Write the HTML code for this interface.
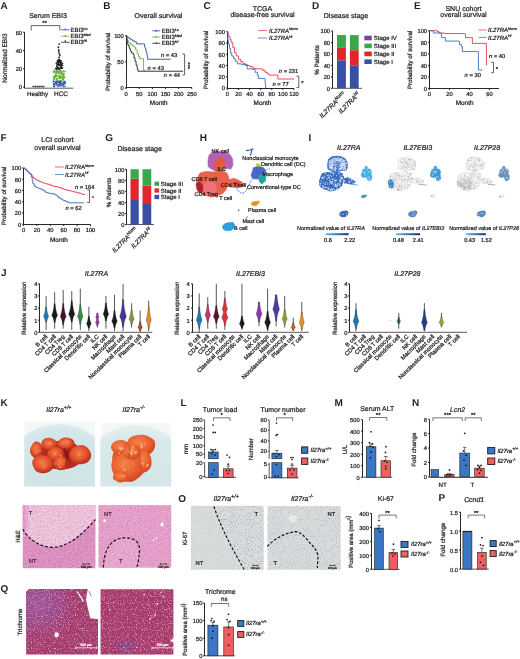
<!DOCTYPE html>
<html><head><meta charset="utf-8"><title>Figure</title>
<style>
html,body{margin:0;padding:0;background:#fff;}
body{width:520px;height:659px;overflow:hidden;}
svg{display:block;}
text{font-family:"Liberation Sans",Arial,sans-serif;text-rendering:geometricPrecision;}
</style></head><body>
<svg fill="#231f20" width="520" height="659" viewBox="0 0 520 659">
<rect width="520" height="659" fill="#fff"/>
<text x="0.60" y="9.40" font-size="10" font-weight="bold">A</text>
<text x="48.00" y="17.60" font-size="7" text-anchor="middle" stroke="#231f20" stroke-width="0.24">Serum EBI3</text>
<path d="M31.2,30.5V25.6H59.8V30.5" fill="none" stroke="#231f20" stroke-width="0.7"/>
<text x="44.60" y="24.90" font-size="6" text-anchor="middle" stroke="#231f20" stroke-width="0.24">**</text>
<line x1="24.50" y1="32.20" x2="24.50" y2="88.20" stroke="#111" stroke-width="0.9"/>
<line x1="23.00" y1="32.20" x2="24.50" y2="32.20" stroke="#111" stroke-width="0.9"/>
<text x="22.10" y="34.64" font-size="5.8" text-anchor="end" stroke="#231f20" stroke-width="0.24">60</text>
<line x1="23.00" y1="50.47" x2="24.50" y2="50.47" stroke="#111" stroke-width="0.9"/>
<text x="22.10" y="52.90" font-size="5.8" text-anchor="end" stroke="#231f20" stroke-width="0.24">40</text>
<line x1="23.00" y1="68.73" x2="24.50" y2="68.73" stroke="#111" stroke-width="0.9"/>
<text x="22.10" y="71.17" font-size="5.8" text-anchor="end" stroke="#231f20" stroke-width="0.24">20</text>
<line x1="23.00" y1="87.00" x2="24.50" y2="87.00" stroke="#111" stroke-width="0.9"/>
<text x="22.10" y="89.44" font-size="5.8" text-anchor="end" stroke="#231f20" stroke-width="0.24">0</text>
<line x1="24.40" y1="88.20" x2="73.30" y2="88.20" stroke="#231f20" stroke-width="0.75"/>
<text x="37.50" y="95.80" font-size="6.2" text-anchor="middle" stroke="#231f20" stroke-width="0.24">Healthy</text>
<text x="61.00" y="95.80" font-size="6.4" text-anchor="middle" stroke="#231f20" stroke-width="0.24">HCC</text>
<text x="6.90" y="58.00" font-size="6.6" text-anchor="middle" transform="rotate(-90 6.90 58.00)" stroke="#231f20" stroke-width="0.24">Normalized EBI3</text>
<circle cx="33.50" cy="86.60" r="0.75" fill="none" stroke="#231f20" stroke-width="0.4"/>
<circle cx="35.50" cy="86.60" r="0.75" fill="none" stroke="#231f20" stroke-width="0.4"/>
<circle cx="37.50" cy="86.60" r="0.75" fill="none" stroke="#231f20" stroke-width="0.4"/>
<circle cx="39.50" cy="86.60" r="0.75" fill="none" stroke="#231f20" stroke-width="0.4"/>
<circle cx="41.50" cy="86.60" r="0.75" fill="none" stroke="#231f20" stroke-width="0.4"/>
<circle cx="43.50" cy="86.60" r="0.75" fill="none" stroke="#231f20" stroke-width="0.4"/>
<line x1="32.50" y1="86.40" x2="44.50" y2="86.40" stroke="#231f20" stroke-width="0.6"/>
<path d="M60.77,84.89L62.77,84.89L61.77,86.49Z" fill="#2b4fa6"/>
<path d="M54.73,83.07L56.73,83.07L55.73,84.67Z" fill="#2b4fa6"/>
<path d="M62.18,84.10L64.18,84.10L63.18,85.70Z" fill="#2b4fa6"/>
<path d="M59.08,82.71L61.08,82.71L60.08,84.31Z" fill="#2b4fa6"/>
<path d="M55.62,82.59L57.62,82.59L56.62,84.19Z" fill="#2b4fa6"/>
<path d="M52.96,85.91L54.96,85.91L53.96,87.51Z" fill="#2b4fa6"/>
<path d="M62.45,86.22L64.45,86.22L63.45,87.82Z" fill="#2b4fa6"/>
<path d="M64.08,81.33L66.08,81.33L65.08,82.93Z" fill="#2b4fa6"/>
<path d="M53.26,84.76L55.26,84.76L54.26,86.36Z" fill="#2b4fa6"/>
<path d="M61.81,84.91L63.81,84.91L62.81,86.51Z" fill="#2b4fa6"/>
<path d="M57.13,80.39L59.13,80.39L58.13,81.99Z" fill="#2b4fa6"/>
<path d="M54.01,83.51L56.01,83.51L55.01,85.11Z" fill="#2b4fa6"/>
<path d="M55.73,81.33L57.73,81.33L56.73,82.93Z" fill="#2b4fa6"/>
<path d="M61.43,83.47L63.43,83.47L62.43,85.07Z" fill="#2b4fa6"/>
<path d="M62.67,82.51L64.67,82.51L63.67,84.11Z" fill="#2b4fa6"/>
<path d="M52.73,85.41L54.73,85.41L53.73,87.01Z" fill="#2b4fa6"/>
<path d="M59.57,82.53L61.57,82.53L60.57,84.13Z" fill="#2b4fa6"/>
<path d="M52.74,81.15L54.74,81.15L53.74,82.75Z" fill="#2b4fa6"/>
<path d="M60.82,83.19L62.82,83.19L61.82,84.79Z" fill="#2b4fa6"/>
<path d="M56.17,81.90L58.17,81.90L57.17,83.50Z" fill="#2b4fa6"/>
<path d="M62.77,82.31L64.77,82.31L63.77,83.91Z" fill="#2b4fa6"/>
<path d="M63.97,85.92L65.97,85.92L64.97,87.52Z" fill="#2b4fa6"/>
<path d="M58.27,81.80L60.27,81.80L59.27,83.40Z" fill="#2b4fa6"/>
<path d="M64.18,82.79L66.18,82.79L65.18,84.39Z" fill="#2b4fa6"/>
<path d="M55.92,84.51L57.92,84.51L56.92,86.11Z" fill="#2b4fa6"/>
<path d="M53.12,86.12L55.12,86.12L54.12,87.72Z" fill="#2b4fa6"/>
<path d="M59.40,81.16L61.40,81.16L60.40,82.76Z" fill="#2b4fa6"/>
<path d="M52.58,83.49L54.58,83.49L53.58,85.09Z" fill="#2b4fa6"/>
<path d="M54.57,82.03L56.57,82.03L55.57,83.63Z" fill="#2b4fa6"/>
<path d="M57.10,81.08L59.10,81.08L58.10,82.68Z" fill="#2b4fa6"/>
<path d="M59.53,82.06L61.53,82.06L60.53,83.66Z" fill="#2b4fa6"/>
<path d="M54.07,80.83L56.07,80.83L55.07,82.43Z" fill="#2b4fa6"/>
<path d="M52.71,83.96L54.71,83.96L53.71,85.56Z" fill="#2b4fa6"/>
<path d="M62.61,81.55L64.61,81.55L63.61,83.15Z" fill="#2b4fa6"/>
<path d="M55.97,83.66L57.97,83.66L56.97,85.26Z" fill="#2b4fa6"/>
<path d="M63.70,80.75L65.70,80.75L64.70,82.35Z" fill="#2b4fa6"/>
<path d="M62.96,81.08L64.96,81.08L63.96,82.68Z" fill="#2b4fa6"/>
<path d="M56.73,85.72L58.73,85.72L57.73,87.32Z" fill="#2b4fa6"/>
<path d="M57.72,85.49L59.72,85.49L58.72,87.09Z" fill="#2b4fa6"/>
<path d="M58.44,85.01L60.44,85.01L59.44,86.61Z" fill="#2b4fa6"/>
<path d="M59.93,80.57L61.93,80.57L60.93,82.17Z" fill="#2b4fa6"/>
<path d="M59.35,83.71L61.35,83.71L60.35,85.31Z" fill="#2b4fa6"/>
<path d="M58.91,82.58L60.91,82.58L59.91,84.18Z" fill="#2b4fa6"/>
<path d="M59.64,84.51L61.64,84.51L60.64,86.11Z" fill="#2b4fa6"/>
<path d="M63.49,83.29L65.49,83.29L64.49,84.89Z" fill="#2b4fa6"/>
<path d="M58.28,84.01L60.28,84.01L59.28,85.61Z" fill="#2b4fa6"/>
<path d="M57.37,84.22L59.37,84.22L58.37,85.82Z" fill="#2b4fa6"/>
<path d="M60.84,82.83L62.84,82.83L61.84,84.43Z" fill="#2b4fa6"/>
<path d="M55.05,82.83L57.05,82.83L56.05,84.43Z" fill="#2b4fa6"/>
<path d="M55.81,80.93L57.81,80.93L56.81,82.53Z" fill="#2b4fa6"/>
<path d="M63.93,82.25L65.93,82.25L64.93,83.85Z" fill="#2b4fa6"/>
<path d="M58.45,80.79L60.45,80.79L59.45,82.39Z" fill="#2b4fa6"/>
<path d="M58.78,81.22L60.78,81.22L59.78,82.82Z" fill="#2b4fa6"/>
<path d="M52.34,80.42L54.34,80.42L53.34,82.02Z" fill="#2b4fa6"/>
<path d="M57.18,82.32L59.18,82.32L58.18,83.92Z" fill="#2b4fa6"/>
<path d="M59.16,85.33L61.16,85.33L60.16,86.93Z" fill="#2b4fa6"/>
<path d="M52.44,81.19L54.44,81.19L53.44,82.79Z" fill="#2b4fa6"/>
<path d="M59.59,80.57L61.59,80.57L60.59,82.17Z" fill="#2b4fa6"/>
<path d="M59.79,80.93L61.79,80.93L60.79,82.53Z" fill="#2b4fa6"/>
<path d="M52.92,82.92L54.92,82.92L53.92,84.52Z" fill="#2b4fa6"/>
<rect x="63.10" y="72.93" width="1.60" height="1.60" fill="#6cb43f"/>
<rect x="55.34" y="74.70" width="1.60" height="1.60" fill="#6cb43f"/>
<rect x="61.10" y="72.36" width="1.60" height="1.60" fill="#6cb43f"/>
<rect x="62.10" y="75.94" width="1.60" height="1.60" fill="#6cb43f"/>
<rect x="60.19" y="72.06" width="1.60" height="1.60" fill="#6cb43f"/>
<rect x="58.61" y="71.72" width="1.60" height="1.60" fill="#6cb43f"/>
<rect x="55.87" y="79.56" width="1.60" height="1.60" fill="#6cb43f"/>
<rect x="56.49" y="79.14" width="1.60" height="1.60" fill="#6cb43f"/>
<rect x="55.40" y="72.40" width="1.60" height="1.60" fill="#6cb43f"/>
<rect x="53.65" y="69.25" width="1.60" height="1.60" fill="#6cb43f"/>
<rect x="59.38" y="77.05" width="1.60" height="1.60" fill="#6cb43f"/>
<rect x="56.06" y="74.81" width="1.60" height="1.60" fill="#6cb43f"/>
<rect x="61.81" y="73.31" width="1.60" height="1.60" fill="#6cb43f"/>
<rect x="53.40" y="76.30" width="1.60" height="1.60" fill="#6cb43f"/>
<rect x="62.84" y="75.82" width="1.60" height="1.60" fill="#6cb43f"/>
<rect x="60.53" y="76.38" width="1.60" height="1.60" fill="#6cb43f"/>
<rect x="63.06" y="75.76" width="1.60" height="1.60" fill="#6cb43f"/>
<rect x="62.76" y="73.28" width="1.60" height="1.60" fill="#6cb43f"/>
<rect x="62.80" y="76.51" width="1.60" height="1.60" fill="#6cb43f"/>
<rect x="59.25" y="75.67" width="1.60" height="1.60" fill="#6cb43f"/>
<rect x="53.04" y="71.34" width="1.60" height="1.60" fill="#6cb43f"/>
<rect x="61.34" y="79.51" width="1.60" height="1.60" fill="#6cb43f"/>
<rect x="54.79" y="73.57" width="1.60" height="1.60" fill="#6cb43f"/>
<rect x="56.20" y="71.75" width="1.60" height="1.60" fill="#6cb43f"/>
<rect x="60.19" y="76.41" width="1.60" height="1.60" fill="#6cb43f"/>
<rect x="58.67" y="77.37" width="1.60" height="1.60" fill="#6cb43f"/>
<rect x="57.45" y="71.00" width="1.60" height="1.60" fill="#6cb43f"/>
<rect x="63.23" y="77.19" width="1.60" height="1.60" fill="#6cb43f"/>
<rect x="59.63" y="77.75" width="1.60" height="1.60" fill="#6cb43f"/>
<rect x="56.65" y="75.04" width="1.60" height="1.60" fill="#6cb43f"/>
<rect x="55.68" y="72.16" width="1.60" height="1.60" fill="#6cb43f"/>
<rect x="62.38" y="78.69" width="1.60" height="1.60" fill="#6cb43f"/>
<rect x="58.15" y="76.28" width="1.60" height="1.60" fill="#6cb43f"/>
<rect x="61.51" y="76.15" width="1.60" height="1.60" fill="#6cb43f"/>
<rect x="56.77" y="70.67" width="1.60" height="1.60" fill="#6cb43f"/>
<rect x="55.07" y="75.00" width="1.60" height="1.60" fill="#6cb43f"/>
<rect x="58.78" y="70.43" width="1.60" height="1.60" fill="#6cb43f"/>
<rect x="61.88" y="77.95" width="1.60" height="1.60" fill="#6cb43f"/>
<rect x="54.78" y="76.12" width="1.60" height="1.60" fill="#6cb43f"/>
<rect x="61.61" y="72.68" width="1.60" height="1.60" fill="#6cb43f"/>
<rect x="63.04" y="70.11" width="1.60" height="1.60" fill="#6cb43f"/>
<rect x="61.77" y="74.86" width="1.60" height="1.60" fill="#6cb43f"/>
<rect x="61.96" y="77.34" width="1.60" height="1.60" fill="#6cb43f"/>
<rect x="52.98" y="78.48" width="1.60" height="1.60" fill="#6cb43f"/>
<rect x="59.81" y="74.00" width="1.60" height="1.60" fill="#6cb43f"/>
<rect x="62.39" y="77.72" width="1.60" height="1.60" fill="#6cb43f"/>
<rect x="53.45" y="70.96" width="1.60" height="1.60" fill="#6cb43f"/>
<rect x="55.89" y="70.62" width="1.60" height="1.60" fill="#6cb43f"/>
<rect x="55.85" y="77.79" width="1.60" height="1.60" fill="#6cb43f"/>
<rect x="58.70" y="76.75" width="1.60" height="1.60" fill="#6cb43f"/>
<rect x="57.55" y="70.96" width="1.60" height="1.60" fill="#6cb43f"/>
<rect x="58.10" y="72.77" width="1.60" height="1.60" fill="#6cb43f"/>
<rect x="61.44" y="70.97" width="1.60" height="1.60" fill="#6cb43f"/>
<rect x="52.92" y="76.02" width="1.60" height="1.60" fill="#6cb43f"/>
<rect x="53.50" y="78.39" width="1.60" height="1.60" fill="#6cb43f"/>
<rect x="54.30" y="76.61" width="1.60" height="1.60" fill="#6cb43f"/>
<rect x="54.27" y="71.11" width="1.60" height="1.60" fill="#6cb43f"/>
<rect x="53.65" y="76.83" width="1.60" height="1.60" fill="#6cb43f"/>
<rect x="63.62" y="76.01" width="1.60" height="1.60" fill="#6cb43f"/>
<rect x="62.30" y="75.24" width="1.60" height="1.60" fill="#6cb43f"/>
<rect x="53.85" y="75.21" width="1.60" height="1.60" fill="#6cb43f"/>
<rect x="58.42" y="75.32" width="1.60" height="1.60" fill="#6cb43f"/>
<rect x="56.37" y="69.72" width="1.60" height="1.60" fill="#6cb43f"/>
<rect x="56.36" y="78.10" width="1.60" height="1.60" fill="#6cb43f"/>
<rect x="56.62" y="79.76" width="1.60" height="1.60" fill="#6cb43f"/>
<rect x="60.02" y="69.47" width="1.60" height="1.60" fill="#6cb43f"/>
<rect x="59.35" y="70.16" width="1.60" height="1.60" fill="#6cb43f"/>
<rect x="56.87" y="68.99" width="1.60" height="1.60" fill="#6cb43f"/>
<rect x="55.00" y="75.05" width="1.60" height="1.60" fill="#6cb43f"/>
<rect x="56.52" y="69.39" width="1.60" height="1.60" fill="#6cb43f"/>
<circle cx="61.62" cy="67.89" r="0.85" fill="#231f20"/>
<circle cx="62.46" cy="63.36" r="0.85" fill="#231f20"/>
<circle cx="59.55" cy="61.67" r="0.85" fill="#231f20"/>
<circle cx="61.35" cy="65.20" r="0.85" fill="#231f20"/>
<circle cx="55.86" cy="68.35" r="0.85" fill="#231f20"/>
<circle cx="61.13" cy="67.32" r="0.85" fill="#231f20"/>
<circle cx="59.28" cy="65.27" r="0.85" fill="#231f20"/>
<circle cx="60.15" cy="62.84" r="0.85" fill="#231f20"/>
<circle cx="57.47" cy="60.97" r="0.85" fill="#231f20"/>
<circle cx="60.99" cy="65.20" r="0.85" fill="#231f20"/>
<circle cx="61.11" cy="60.78" r="0.85" fill="#231f20"/>
<circle cx="57.27" cy="62.65" r="0.85" fill="#231f20"/>
<circle cx="57.93" cy="64.66" r="0.85" fill="#231f20"/>
<circle cx="59.66" cy="65.28" r="0.85" fill="#231f20"/>
<circle cx="61.56" cy="63.98" r="0.85" fill="#231f20"/>
<circle cx="58.07" cy="61.81" r="0.85" fill="#231f20"/>
<circle cx="56.89" cy="64.77" r="0.85" fill="#231f20"/>
<circle cx="58.10" cy="61.90" r="0.85" fill="#231f20"/>
<circle cx="60.04" cy="64.35" r="0.85" fill="#231f20"/>
<circle cx="61.03" cy="66.62" r="0.85" fill="#231f20"/>
<circle cx="58.43" cy="63.56" r="0.85" fill="#231f20"/>
<circle cx="58.62" cy="61.89" r="0.85" fill="#231f20"/>
<circle cx="58.46" cy="68.44" r="0.85" fill="#231f20"/>
<circle cx="58.12" cy="64.73" r="0.85" fill="#231f20"/>
<circle cx="58.61" cy="64.72" r="0.85" fill="#231f20"/>
<circle cx="58.37" cy="59.95" r="0.85" fill="#231f20"/>
<circle cx="59.20" cy="59.35" r="0.85" fill="#231f20"/>
<circle cx="62.61" cy="65.26" r="0.85" fill="#231f20"/>
<circle cx="59.03" cy="59.76" r="0.85" fill="#231f20"/>
<circle cx="60.29" cy="60.88" r="0.85" fill="#231f20"/>
<circle cx="56.76" cy="66.44" r="0.85" fill="#231f20"/>
<circle cx="60.57" cy="64.32" r="0.85" fill="#231f20"/>
<circle cx="61.04" cy="67.90" r="0.85" fill="#231f20"/>
<circle cx="59.96" cy="60.65" r="0.85" fill="#231f20"/>
<circle cx="59.28" cy="62.23" r="0.85" fill="#231f20"/>
<circle cx="59.17" cy="59.87" r="0.85" fill="#231f20"/>
<circle cx="59.83" cy="60.87" r="0.85" fill="#231f20"/>
<circle cx="60.95" cy="62.18" r="0.85" fill="#231f20"/>
<circle cx="57.66" cy="61.48" r="0.85" fill="#231f20"/>
<circle cx="56.29" cy="63.27" r="0.85" fill="#231f20"/>
<circle cx="60.99" cy="68.11" r="0.85" fill="#231f20"/>
<circle cx="61.03" cy="63.02" r="0.85" fill="#231f20"/>
<circle cx="59.39" cy="69.14" r="0.85" fill="#231f20"/>
<circle cx="58.79" cy="67.68" r="0.85" fill="#231f20"/>
<circle cx="60.16" cy="61.06" r="0.85" fill="#231f20"/>
<circle cx="56.94" cy="68.73" r="0.85" fill="#231f20"/>
<circle cx="57.52" cy="68.23" r="0.85" fill="#231f20"/>
<circle cx="57.03" cy="68.15" r="0.85" fill="#231f20"/>
<circle cx="59.37" cy="59.94" r="0.85" fill="#231f20"/>
<circle cx="57.87" cy="67.31" r="0.85" fill="#231f20"/>
<circle cx="56.26" cy="68.94" r="0.85" fill="#231f20"/>
<circle cx="59.58" cy="60.35" r="0.85" fill="#231f20"/>
<circle cx="62.46" cy="67.92" r="0.85" fill="#231f20"/>
<circle cx="58.79" cy="60.33" r="0.85" fill="#231f20"/>
<circle cx="60.10" cy="62.12" r="0.85" fill="#231f20"/>
<circle cx="59.06" cy="57.32" r="0.90" fill="#231f20"/>
<circle cx="59.77" cy="55.49" r="0.90" fill="#231f20"/>
<circle cx="59.34" cy="53.66" r="0.90" fill="#231f20"/>
<circle cx="58.83" cy="51.84" r="0.90" fill="#231f20"/>
<circle cx="58.75" cy="50.01" r="0.90" fill="#231f20"/>
<circle cx="58.44" cy="47.27" r="0.90" fill="#231f20"/>
<circle cx="59.17" cy="44.07" r="0.90" fill="#231f20"/>
<line x1="52.30" y1="71.70" x2="66.70" y2="71.70" stroke="#7a8fb8" stroke-width="0.7"/>
<line x1="53.50" y1="85.60" x2="65.00" y2="85.60" stroke="#5a6fb0" stroke-width="0.6"/>
<line x1="61.00" y1="29.80" x2="69.60" y2="29.80" stroke="#2b4fa6" stroke-width="0.8"/>
<path d="M64.3,28.7L66.3,28.7L65.3,30.400000000000002Z" fill="#2b4fa6"/>
<text x="70.50" y="31.90" font-size="6" stroke="#231f20" stroke-width="0.24"><tspan>EBI3</tspan><tspan font-style="italic" font-size="3.60" dy="-2.28">Lo</tspan><tspan dy="2.28"></tspan></text>
<line x1="61.00" y1="36.20" x2="69.60" y2="36.20" stroke="#6cb43f" stroke-width="0.8"/>
<path d="M64.5,35.300000000000004h1.6v1.6h-1.6Z" fill="#6cb43f"/>
<text x="70.50" y="38.30" font-size="6" stroke="#231f20" stroke-width="0.24"><tspan>EBI3</tspan><tspan font-style="italic" font-size="3.60" dy="-2.28">Med</tspan><tspan dy="2.28"></tspan></text>
<line x1="61.00" y1="42.30" x2="69.60" y2="42.30" stroke="#231f20" stroke-width="0.8"/>
<path d="M65.3,41.099999999999994m-0.8,0a0.8,0.8 0 1,0 1.6,0a0.8,0.8 0 1,0 -1.6,0" fill="#231f20"/>
<text x="70.50" y="44.40" font-size="6" stroke="#231f20" stroke-width="0.24"><tspan>EBI3</tspan><tspan font-style="italic" font-size="3.60" dy="-2.28">Hi</tspan><tspan dy="2.28"></tspan></text>
<text x="103.30" y="9.30" font-size="10" font-weight="bold">B</text>
<text x="158.50" y="17.60" font-size="7" text-anchor="middle" stroke="#231f20" stroke-width="0.24">Overall survival</text>
<line x1="126.50" y1="35.80" x2="126.50" y2="87.90" stroke="#111" stroke-width="0.9"/>
<line x1="125.00" y1="35.80" x2="126.50" y2="35.80" stroke="#111" stroke-width="0.9"/>
<text x="123.80" y="38.24" font-size="5.8" text-anchor="end" stroke="#231f20" stroke-width="0.24">100</text>
<line x1="125.00" y1="61.85" x2="126.50" y2="61.85" stroke="#111" stroke-width="0.9"/>
<text x="123.80" y="64.29" font-size="5.8" text-anchor="end" stroke="#231f20" stroke-width="0.24">50</text>
<line x1="125.00" y1="87.90" x2="126.50" y2="87.90" stroke="#111" stroke-width="0.9"/>
<text x="123.80" y="90.34" font-size="5.8" text-anchor="end" stroke="#231f20" stroke-width="0.24">0</text>
<line x1="126.10" y1="87.50" x2="191.80" y2="87.50" stroke="#111" stroke-width="0.9"/>
<line x1="126.10" y1="87.50" x2="126.10" y2="89.00" stroke="#111" stroke-width="0.9"/>
<text x="126.10" y="96.00" font-size="5.8" text-anchor="middle" stroke="#231f20" stroke-width="0.24">0</text>
<line x1="139.24" y1="87.50" x2="139.24" y2="89.00" stroke="#111" stroke-width="0.9"/>
<text x="139.24" y="96.00" font-size="5.8" text-anchor="middle" stroke="#231f20" stroke-width="0.24">50</text>
<line x1="152.38" y1="87.50" x2="152.38" y2="89.00" stroke="#111" stroke-width="0.9"/>
<text x="152.38" y="96.00" font-size="5.8" text-anchor="middle" stroke="#231f20" stroke-width="0.24">100</text>
<line x1="165.52" y1="87.50" x2="165.52" y2="89.00" stroke="#111" stroke-width="0.9"/>
<text x="165.52" y="96.00" font-size="5.8" text-anchor="middle" stroke="#231f20" stroke-width="0.24">150</text>
<line x1="178.66" y1="87.50" x2="178.66" y2="89.00" stroke="#111" stroke-width="0.9"/>
<text x="178.66" y="96.00" font-size="5.8" text-anchor="middle" stroke="#231f20" stroke-width="0.24">200</text>
<line x1="191.80" y1="87.50" x2="191.80" y2="89.00" stroke="#111" stroke-width="0.9"/>
<text x="191.80" y="96.00" font-size="5.8" text-anchor="middle" stroke="#231f20" stroke-width="0.24">250</text>
<text x="158.70" y="105.00" font-size="6.4" text-anchor="middle" stroke="#231f20" stroke-width="0.24">Month</text>
<text x="109.80" y="61.80" font-size="6.2" text-anchor="middle" transform="rotate(-90 109.80 61.80)" stroke="#231f20" stroke-width="0.24">Probability of survival</text>
<path d="M126.10,35.80H126.89V36.84H128.20V37.88H129.78V38.93H131.36V39.97H132.93V41.01H135.04V42.05H136.61V43.88H144.23V43.88H144.50V46.22H145.02V48.30H145.81V50.39H146.34V52.99H147.12V56.12H147.65V59.25H170.51V59.25" fill="none" stroke="#2b4fa6" stroke-width="0.9" stroke-linejoin="miter"/>
<path d="M126.10,35.80H126.89V38.41H127.68V40.49H128.47V42.05H129.25V43.09H130.83V44.66H132.41V45.70H133.98V47.00H135.56V49.87H137.14V53.51H138.45V56.64H139.50V58.72H143.44V58.72H143.44V70.45H145.02V70.45" fill="none" stroke="#6cb43f" stroke-width="0.9" stroke-linejoin="miter"/>
<path d="M126.10,35.80H126.63V39.45H127.15V42.05H127.68V44.14H128.20V45.70H129.25V48.30H130.30V50.91H131.36V52.99H133.20V54.30H133.98V57.68H135.04V61.33H136.09V64.98H137.14V68.62H137.93V71.23H183.13V71.23" fill="none" stroke="#231f20" stroke-width="0.9" stroke-linejoin="miter"/>
<line x1="152.30" y1="30.80" x2="160.30" y2="30.80" stroke="#2b4fa6" stroke-width="0.8"/>
<path d="M155.20000000000002,31.6L157.4,31.6L156.3,29.7Z" fill="#2b4fa6"/>
<text x="161.80" y="32.90" font-size="6" stroke="#231f20" stroke-width="0.24"><tspan>EBI3</tspan><tspan font-style="italic" font-size="3.60" dy="-2.28">Lo</tspan><tspan dy="2.28"></tspan></text>
<line x1="152.30" y1="37.00" x2="160.30" y2="37.00" stroke="#6cb43f" stroke-width="0.8"/>
<rect x="155.50" y="36.20" width="1.60" height="1.60" fill="#6cb43f"/>
<text x="161.80" y="39.10" font-size="6" stroke="#231f20" stroke-width="0.24"><tspan>EBI3</tspan><tspan font-style="italic" font-size="3.60" dy="-2.28">Med</tspan><tspan dy="2.28"></tspan></text>
<line x1="152.30" y1="43.30" x2="160.30" y2="43.30" stroke="#231f20" stroke-width="0.8"/>
<line x1="156.30" y1="42.00" x2="156.30" y2="43.90" stroke="#231f20" stroke-width="0.7"/>
<text x="161.80" y="45.40" font-size="6" stroke="#231f20" stroke-width="0.24"><tspan>EBI3</tspan><tspan font-style="italic" font-size="3.60" dy="-2.28">Hi</tspan><tspan dy="2.28"></tspan></text>
<text x="161.00" y="56.60" font-size="5.8" stroke="#231f20" stroke-width="0.24"><tspan font-style="italic">n</tspan><tspan> = 43</tspan></text>
<text x="147.60" y="70.20" font-size="5.8" stroke="#231f20" stroke-width="0.24"><tspan font-style="italic">n</tspan><tspan> = 43</tspan></text>
<text x="163.80" y="77.40" font-size="5.8" stroke="#231f20" stroke-width="0.24"><tspan font-style="italic">n</tspan><tspan> = 44</tspan></text>
<path d="M182.3,54.1H184.6V75H182.3" fill="none" stroke="#231f20" stroke-width="0.7"/>
<text x="185.90" y="65.60" font-size="5.8" text-anchor="middle" transform="rotate(90 185.90 65.60)" stroke="#231f20" stroke-width="0.24">***</text>
<text x="203.60" y="9.40" font-size="10" font-weight="bold">C</text>
<text x="262.50" y="10.60" font-size="7" text-anchor="middle" stroke="#231f20" stroke-width="0.24">TCGA</text>
<text x="262.50" y="17.40" font-size="7" text-anchor="middle" stroke="#231f20" stroke-width="0.24">disease-free survival</text>
<line x1="227.50" y1="31.75" x2="227.50" y2="88.00" stroke="#111" stroke-width="0.9"/>
<line x1="226.00" y1="88.00" x2="227.50" y2="88.00" stroke="#111" stroke-width="0.9"/>
<text x="225.00" y="90.44" font-size="5.8" text-anchor="end" stroke="#231f20" stroke-width="0.24">0</text>
<line x1="226.00" y1="76.75" x2="227.50" y2="76.75" stroke="#111" stroke-width="0.9"/>
<text x="225.00" y="79.19" font-size="5.8" text-anchor="end" stroke="#231f20" stroke-width="0.24">20</text>
<line x1="226.00" y1="65.50" x2="227.50" y2="65.50" stroke="#111" stroke-width="0.9"/>
<text x="225.00" y="67.94" font-size="5.8" text-anchor="end" stroke="#231f20" stroke-width="0.24">40</text>
<line x1="226.00" y1="54.25" x2="227.50" y2="54.25" stroke="#111" stroke-width="0.9"/>
<text x="225.00" y="56.69" font-size="5.8" text-anchor="end" stroke="#231f20" stroke-width="0.24">60</text>
<line x1="226.00" y1="43.00" x2="227.50" y2="43.00" stroke="#111" stroke-width="0.9"/>
<text x="225.00" y="45.44" font-size="5.8" text-anchor="end" stroke="#231f20" stroke-width="0.24">80</text>
<line x1="226.00" y1="31.75" x2="227.50" y2="31.75" stroke="#111" stroke-width="0.9"/>
<text x="225.00" y="34.19" font-size="5.8" text-anchor="end" stroke="#231f20" stroke-width="0.24">100</text>
<line x1="227.30" y1="88.50" x2="294.00" y2="88.50" stroke="#111" stroke-width="0.9"/>
<line x1="227.30" y1="88.50" x2="227.30" y2="90.00" stroke="#111" stroke-width="0.9"/>
<text x="227.30" y="95.60" font-size="5.8" text-anchor="middle" stroke="#231f20" stroke-width="0.24">0</text>
<line x1="238.42" y1="88.50" x2="238.42" y2="90.00" stroke="#111" stroke-width="0.9"/>
<text x="238.42" y="95.60" font-size="5.8" text-anchor="middle" stroke="#231f20" stroke-width="0.24">20</text>
<line x1="249.53" y1="88.50" x2="249.53" y2="90.00" stroke="#111" stroke-width="0.9"/>
<text x="249.53" y="95.60" font-size="5.8" text-anchor="middle" stroke="#231f20" stroke-width="0.24">40</text>
<line x1="260.65" y1="88.50" x2="260.65" y2="90.00" stroke="#111" stroke-width="0.9"/>
<text x="260.65" y="95.60" font-size="5.8" text-anchor="middle" stroke="#231f20" stroke-width="0.24">60</text>
<line x1="271.76" y1="88.50" x2="271.76" y2="90.00" stroke="#111" stroke-width="0.9"/>
<text x="271.76" y="95.60" font-size="5.8" text-anchor="middle" stroke="#231f20" stroke-width="0.24">80</text>
<line x1="282.88" y1="88.50" x2="282.88" y2="90.00" stroke="#111" stroke-width="0.9"/>
<text x="282.88" y="95.60" font-size="5.8" text-anchor="middle" stroke="#231f20" stroke-width="0.24">100</text>
<line x1="294.00" y1="88.50" x2="294.00" y2="90.00" stroke="#111" stroke-width="0.9"/>
<text x="294.00" y="95.60" font-size="5.8" text-anchor="middle" stroke="#231f20" stroke-width="0.24">120</text>
<text x="262.50" y="105.00" font-size="6.4" text-anchor="middle" stroke="#231f20" stroke-width="0.24">Month</text>
<text x="208.40" y="60.00" font-size="6.2" text-anchor="middle" transform="rotate(-90 208.40 60.00)" stroke="#231f20" stroke-width="0.24">Probability of survival</text>
<path d="M227.30,31.75H227.86V33.44H228.41V35.12H228.97V36.81H230.08V39.62H231.19V42.44H232.86V47.50H234.53V52.56H236.19V55.94H238.42V59.31H240.64V61.56H242.86V63.25H245.09V64.38H247.31V65.50H249.53V66.62H252.87V68.31H255.09V68.88H261.76V68.88H262.87V70.56H265.09V72.25H267.32V73.94H268.99V75.06H277.32V75.06H277.88V79.00H294.00V79.00" fill="none" stroke="#e8474f" stroke-width="0.95" stroke-linejoin="miter"/>
<path d="M227.30,31.75H227.86V40.19H228.41V44.12H229.52V48.62H230.63V53.12H231.75V55.94H233.41V58.19H235.08V61.00H237.30V63.81H241.20V64.38H245.09V65.50H247.31V68.88H252.87V69.44H255.09V72.25H257.31V75.06H258.42V78.44H264.54V78.44H265.09V83.50H265.65V88.00" fill="none" stroke="#3f78c4" stroke-width="0.95" stroke-linejoin="miter"/>
<line x1="258.00" y1="30.60" x2="267.00" y2="30.60" stroke="#e8474f" stroke-width="0.8"/>
<text x="269.00" y="32.70" font-size="6" stroke="#231f20" stroke-width="0.24"><tspan font-style="italic">IL27RA</tspan><tspan font-style="italic" font-size="3.60" dy="-2.28">Norm</tspan><tspan dy="2.28"></tspan></text>
<line x1="258.00" y1="38.00" x2="267.00" y2="38.00" stroke="#3f78c4" stroke-width="0.8"/>
<text x="269.00" y="40.10" font-size="6" stroke="#231f20" stroke-width="0.24"><tspan font-style="italic">IL27RA</tspan><tspan font-style="italic" font-size="3.60" dy="-2.28">Hi</tspan><tspan dy="2.28"></tspan></text>
<text x="278.80" y="72.80" font-size="5.8" stroke="#231f20" stroke-width="0.24"><tspan font-style="italic">n</tspan><tspan> = 231</tspan></text>
<text x="272.50" y="85.80" font-size="5.8" stroke="#231f20" stroke-width="0.24"><tspan font-style="italic">n</tspan><tspan> = 77</tspan></text>
<path d="M296.5,76.2H298.8V87.5H296.5" fill="none" stroke="#231f20" stroke-width="0.7"/>
<text x="302.50" y="85.10" font-size="5.8" text-anchor="middle" stroke="#231f20" stroke-width="0.24">*</text>
<text x="311.90" y="9.30" font-size="10" font-weight="bold">D</text>
<text x="323.80" y="17.60" font-size="7" stroke="#231f20" stroke-width="0.24">Disease stage</text>
<line x1="332.50" y1="31.05" x2="332.50" y2="88.30" stroke="#111" stroke-width="0.9"/>
<line x1="331.00" y1="88.30" x2="332.50" y2="88.30" stroke="#111" stroke-width="0.9"/>
<text x="330.10" y="90.74" font-size="5.8" text-anchor="end" stroke="#231f20" stroke-width="0.24">0</text>
<line x1="331.00" y1="76.85" x2="332.50" y2="76.85" stroke="#111" stroke-width="0.9"/>
<text x="330.10" y="79.29" font-size="5.8" text-anchor="end" stroke="#231f20" stroke-width="0.24">20</text>
<line x1="331.00" y1="65.40" x2="332.50" y2="65.40" stroke="#111" stroke-width="0.9"/>
<text x="330.10" y="67.84" font-size="5.8" text-anchor="end" stroke="#231f20" stroke-width="0.24">40</text>
<line x1="331.00" y1="53.95" x2="332.50" y2="53.95" stroke="#111" stroke-width="0.9"/>
<text x="330.10" y="56.39" font-size="5.8" text-anchor="end" stroke="#231f20" stroke-width="0.24">60</text>
<line x1="331.00" y1="42.50" x2="332.50" y2="42.50" stroke="#111" stroke-width="0.9"/>
<text x="330.10" y="44.94" font-size="5.8" text-anchor="end" stroke="#231f20" stroke-width="0.24">80</text>
<line x1="331.00" y1="31.05" x2="332.50" y2="31.05" stroke="#111" stroke-width="0.9"/>
<text x="330.10" y="33.49" font-size="5.8" text-anchor="end" stroke="#231f20" stroke-width="0.24">100</text>
<line x1="332.40" y1="88.30" x2="362.00" y2="88.30" stroke="#231f20" stroke-width="0.75"/>
<text x="318.50" y="60.00" font-size="6.2" text-anchor="middle" transform="rotate(-90 318.50 60.00)" stroke="#231f20" stroke-width="0.24">% Patients</text>
<rect x="337.00" y="60.30" width="8.90" height="28.00" fill="#3a4fa3"/>
<rect x="337.00" y="47.90" width="8.90" height="12.40" fill="#e5242b"/>
<rect x="337.00" y="35.10" width="8.90" height="12.80" fill="#39a84a"/>
<rect x="349.90" y="65.80" width="8.80" height="22.50" fill="#3a4fa3"/>
<rect x="349.90" y="50.20" width="8.80" height="15.60" fill="#e5242b"/>
<rect x="349.90" y="35.10" width="8.80" height="15.10" fill="#39a84a"/>
<rect x="364.40" y="35.70" width="7.40" height="4.60" fill="#7b3f9e"/>
<text x="373.80" y="40.10" font-size="6" stroke="#231f20" stroke-width="0.24">Stage IV</text>
<rect x="364.40" y="43.60" width="7.40" height="4.60" fill="#39a84a"/>
<text x="373.80" y="48.00" font-size="6" stroke="#231f20" stroke-width="0.24">Stage III</text>
<rect x="364.40" y="51.60" width="7.40" height="4.60" fill="#e5242b"/>
<text x="373.80" y="56.00" font-size="6" stroke="#231f20" stroke-width="0.24">Stage II</text>
<rect x="364.40" y="59.40" width="7.40" height="4.60" fill="#3a4fa3"/>
<text x="373.80" y="63.80" font-size="6" stroke="#231f20" stroke-width="0.24">Stage I</text>
<text x="322.10" y="118.60" font-size="6.8" transform="rotate(-45 322.10 118.60)" stroke="#231f20" stroke-width="0.24"><tspan font-style="italic">IL27RA</tspan><tspan font-style="italic" font-size="4.62" dy="-2.58">Norm</tspan><tspan dy="2.58"></tspan></text>
<text x="341.10" y="114.00" font-size="6.8" transform="rotate(-45 341.10 114.00)" stroke="#231f20" stroke-width="0.24"><tspan font-style="italic">IL27RA</tspan><tspan font-style="italic" font-size="4.62" dy="-2.58">Hi</tspan><tspan dy="2.58"></tspan></text>
<text x="414.10" y="9.30" font-size="10" font-weight="bold">E</text>
<text x="463.50" y="10.60" font-size="7" text-anchor="middle" stroke="#231f20" stroke-width="0.24">SNU cohort</text>
<text x="463.50" y="17.40" font-size="7" text-anchor="middle" stroke="#231f20" stroke-width="0.24">overall survival</text>
<line x1="429.50" y1="30.70" x2="429.50" y2="88.40" stroke="#111" stroke-width="0.9"/>
<line x1="428.00" y1="88.40" x2="429.50" y2="88.40" stroke="#111" stroke-width="0.9"/>
<text x="427.10" y="90.84" font-size="5.8" text-anchor="end" stroke="#231f20" stroke-width="0.24">0</text>
<line x1="428.00" y1="76.86" x2="429.50" y2="76.86" stroke="#111" stroke-width="0.9"/>
<text x="427.10" y="79.30" font-size="5.8" text-anchor="end" stroke="#231f20" stroke-width="0.24">20</text>
<line x1="428.00" y1="65.32" x2="429.50" y2="65.32" stroke="#111" stroke-width="0.9"/>
<text x="427.10" y="67.76" font-size="5.8" text-anchor="end" stroke="#231f20" stroke-width="0.24">40</text>
<line x1="428.00" y1="53.78" x2="429.50" y2="53.78" stroke="#111" stroke-width="0.9"/>
<text x="427.10" y="56.22" font-size="5.8" text-anchor="end" stroke="#231f20" stroke-width="0.24">60</text>
<line x1="428.00" y1="42.24" x2="429.50" y2="42.24" stroke="#111" stroke-width="0.9"/>
<text x="427.10" y="44.68" font-size="5.8" text-anchor="end" stroke="#231f20" stroke-width="0.24">80</text>
<line x1="428.00" y1="30.70" x2="429.50" y2="30.70" stroke="#111" stroke-width="0.9"/>
<text x="427.10" y="33.14" font-size="5.8" text-anchor="end" stroke="#231f20" stroke-width="0.24">100</text>
<line x1="429.40" y1="88.50" x2="499.00" y2="88.50" stroke="#111" stroke-width="0.9"/>
<line x1="429.40" y1="88.50" x2="429.40" y2="90.00" stroke="#111" stroke-width="0.9"/>
<text x="429.40" y="96.00" font-size="5.8" text-anchor="middle" stroke="#231f20" stroke-width="0.24">0</text>
<line x1="449.40" y1="88.50" x2="449.40" y2="90.00" stroke="#111" stroke-width="0.9"/>
<text x="449.40" y="96.00" font-size="5.8" text-anchor="middle" stroke="#231f20" stroke-width="0.24">20</text>
<line x1="469.40" y1="88.50" x2="469.40" y2="90.00" stroke="#111" stroke-width="0.9"/>
<text x="469.40" y="96.00" font-size="5.8" text-anchor="middle" stroke="#231f20" stroke-width="0.24">40</text>
<line x1="489.40" y1="88.50" x2="489.40" y2="90.00" stroke="#111" stroke-width="0.9"/>
<text x="489.40" y="96.00" font-size="5.8" text-anchor="middle" stroke="#231f20" stroke-width="0.24">60</text>
<text x="464.60" y="105.00" font-size="6.4" text-anchor="middle" stroke="#231f20" stroke-width="0.24">Month</text>
<text x="412.40" y="60.00" font-size="6.2" text-anchor="middle" transform="rotate(-90 412.40 60.00)" stroke="#231f20" stroke-width="0.24">Probability of survival</text>
<path d="M429.40,30.70H437.40V31.85H439.40V33.01H444.40V33.59H464.40V33.59H465.40V37.62H471.40V37.62H472.40V43.39H486.40V43.39H486.40V65.32" fill="none" stroke="#e8474f" stroke-width="0.95" stroke-linejoin="miter"/>
<path d="M429.40,30.70H433.40V33.01H441.40V33.01H441.40V37.62H445.40V37.62H445.40V41.09H457.40V41.09H459.40V44.55H461.40V46.86H462.40V51.47H477.40V51.47H478.40V69.94H482.40V69.94" fill="none" stroke="#3f78c4" stroke-width="0.95" stroke-linejoin="miter"/>
<line x1="478.50" y1="30.00" x2="486.60" y2="30.00" stroke="#e8474f" stroke-width="0.8"/>
<text x="488.00" y="32.10" font-size="6" stroke="#231f20" stroke-width="0.24"><tspan font-style="italic">IL27RA</tspan><tspan font-style="italic" font-size="3.60" dy="-2.28">Norm</tspan><tspan dy="2.28"></tspan></text>
<line x1="478.50" y1="37.40" x2="486.60" y2="37.40" stroke="#3f78c4" stroke-width="0.8"/>
<text x="488.00" y="39.50" font-size="6" stroke="#231f20" stroke-width="0.24"><tspan font-style="italic">IL27RA</tspan><tspan font-style="italic" font-size="3.60" dy="-2.28">Hi</tspan><tspan dy="2.28"></tspan></text>
<text x="489.00" y="58.20" font-size="5.8" stroke="#231f20" stroke-width="0.24"><tspan font-style="italic">n</tspan><tspan> = 40</tspan></text>
<text x="464.60" y="77.20" font-size="5.8" stroke="#231f20" stroke-width="0.24"><tspan font-style="italic">n</tspan><tspan> = 30</tspan></text>
<path d="M491.2,62.3H493.5V72.7H491.2" fill="none" stroke="#231f20" stroke-width="0.7"/>
<text x="497.00" y="70.60" font-size="5.8" text-anchor="middle" stroke="#231f20" stroke-width="0.24">*</text>
<text x="0.60" y="140.80" font-size="10" font-weight="bold">F</text>
<text x="57.50" y="142.20" font-size="7" text-anchor="middle" stroke="#231f20" stroke-width="0.24">LCI cohort</text>
<text x="57.50" y="149.60" font-size="7" text-anchor="middle" stroke="#231f20" stroke-width="0.24">overall survival</text>
<line x1="23.50" y1="168.00" x2="23.50" y2="224.20" stroke="#111" stroke-width="0.9"/>
<line x1="22.00" y1="224.20" x2="23.50" y2="224.20" stroke="#111" stroke-width="0.9"/>
<text x="21.20" y="226.64" font-size="5.8" text-anchor="end" stroke="#231f20" stroke-width="0.24">0</text>
<line x1="22.00" y1="212.96" x2="23.50" y2="212.96" stroke="#111" stroke-width="0.9"/>
<text x="21.20" y="215.40" font-size="5.8" text-anchor="end" stroke="#231f20" stroke-width="0.24">20</text>
<line x1="22.00" y1="201.72" x2="23.50" y2="201.72" stroke="#111" stroke-width="0.9"/>
<text x="21.20" y="204.16" font-size="5.8" text-anchor="end" stroke="#231f20" stroke-width="0.24">40</text>
<line x1="22.00" y1="190.48" x2="23.50" y2="190.48" stroke="#111" stroke-width="0.9"/>
<text x="21.20" y="192.92" font-size="5.8" text-anchor="end" stroke="#231f20" stroke-width="0.24">60</text>
<line x1="22.00" y1="179.24" x2="23.50" y2="179.24" stroke="#111" stroke-width="0.9"/>
<text x="21.20" y="181.68" font-size="5.8" text-anchor="end" stroke="#231f20" stroke-width="0.24">80</text>
<line x1="22.00" y1="168.00" x2="23.50" y2="168.00" stroke="#111" stroke-width="0.9"/>
<text x="21.20" y="170.44" font-size="5.8" text-anchor="end" stroke="#231f20" stroke-width="0.24">100</text>
<line x1="23.50" y1="224.50" x2="90.50" y2="224.50" stroke="#111" stroke-width="0.9"/>
<line x1="23.50" y1="224.50" x2="23.50" y2="226.00" stroke="#111" stroke-width="0.9"/>
<text x="23.50" y="232.00" font-size="5.8" text-anchor="middle" stroke="#231f20" stroke-width="0.24">0</text>
<line x1="36.90" y1="224.50" x2="36.90" y2="226.00" stroke="#111" stroke-width="0.9"/>
<text x="36.90" y="232.00" font-size="5.8" text-anchor="middle" stroke="#231f20" stroke-width="0.24">20</text>
<line x1="50.30" y1="224.50" x2="50.30" y2="226.00" stroke="#111" stroke-width="0.9"/>
<text x="50.30" y="232.00" font-size="5.8" text-anchor="middle" stroke="#231f20" stroke-width="0.24">40</text>
<line x1="63.70" y1="224.50" x2="63.70" y2="226.00" stroke="#111" stroke-width="0.9"/>
<text x="63.70" y="232.00" font-size="5.8" text-anchor="middle" stroke="#231f20" stroke-width="0.24">60</text>
<line x1="77.10" y1="224.50" x2="77.10" y2="226.00" stroke="#111" stroke-width="0.9"/>
<text x="77.10" y="232.00" font-size="5.8" text-anchor="middle" stroke="#231f20" stroke-width="0.24">80</text>
<line x1="90.50" y1="224.50" x2="90.50" y2="226.00" stroke="#111" stroke-width="0.9"/>
<text x="90.50" y="232.00" font-size="5.8" text-anchor="middle" stroke="#231f20" stroke-width="0.24">100</text>
<text x="58.90" y="241.50" font-size="6.4" text-anchor="middle" stroke="#231f20" stroke-width="0.24">Month</text>
<text x="6.30" y="196.00" font-size="6.2" text-anchor="middle" transform="rotate(-90 6.30 196.00)" stroke="#231f20" stroke-width="0.24">Probability of survival</text>
<path d="M23.50,168.00H24.84V169.12H26.18V170.25H27.52V171.93H28.86V173.06H30.20V174.18H31.54V175.87H32.88V177.55H34.22V178.68H35.56V179.80H36.90V180.36H38.24V180.93H39.58V181.49H40.92V182.05H42.26V182.61H43.60V183.17H45.61V183.74H47.62V184.30H50.30V185.42H52.31V185.98H54.32V186.55H57.00V187.11H59.01V187.67H61.02V188.23H63.70V189.36H65.71V189.92H67.72V190.48H70.40V191.04H72.41V191.60H74.42V192.17H77.10V192.73H79.11V193.29H81.12V193.85H82.46V194.41H85.14V194.41" fill="none" stroke="#e8474f" stroke-width="1.0" stroke-linejoin="miter"/>
<path d="M23.50,168.00H24.84V169.12H26.18V170.25H27.52V171.93H28.86V173.06H30.20V174.18H31.54V176.99H32.21V180.36H32.88V183.74H34.22V185.98H35.56V187.11H36.90V187.67H38.24V188.23H40.25V188.79H41.59V189.92H43.60V190.48H44.94V192.17H46.95V192.73H48.29V193.29H51.64V193.85H54.99V194.98H57.00V196.10H58.34V197.79H60.35V198.91H62.36V200.03H63.70V200.60H65.71V201.72H67.72V202.28H69.06V202.84H83.80V202.84" fill="none" stroke="#3f78c4" stroke-width="1.0" stroke-linejoin="miter"/>
<line x1="55.00" y1="167.00" x2="63.70" y2="167.00" stroke="#e8474f" stroke-width="0.8"/>
<text x="65.00" y="169.10" font-size="6" stroke="#231f20" stroke-width="0.24"><tspan font-style="italic">IL27RA</tspan><tspan font-style="italic" font-size="3.60" dy="-2.28">Norm</tspan><tspan dy="2.28"></tspan></text>
<line x1="55.00" y1="174.50" x2="63.70" y2="174.50" stroke="#3f78c4" stroke-width="0.8"/>
<text x="65.00" y="176.60" font-size="6" stroke="#231f20" stroke-width="0.24"><tspan font-style="italic">IL27RA</tspan><tspan font-style="italic" font-size="3.60" dy="-2.28">Hi</tspan><tspan dy="2.28"></tspan></text>
<text x="75.00" y="189.20" font-size="5.8" stroke="#231f20" stroke-width="0.24"><tspan font-style="italic">n</tspan><tspan> = 164</tspan></text>
<text x="65.50" y="210.40" font-size="5.8" stroke="#231f20" stroke-width="0.24"><tspan font-style="italic">n</tspan><tspan> = 62</tspan></text>
<path d="M87.2,190H89.5V202.5H87.2" fill="none" stroke="#231f20" stroke-width="0.7"/>
<text x="93.00" y="199.50" font-size="5.8" text-anchor="middle" fill="#c0303a" stroke="#c0303a" stroke-width="0.24">*</text>
<text x="105.30" y="141.00" font-size="10" font-weight="bold">G</text>
<text x="117.50" y="150.60" font-size="7" stroke="#231f20" stroke-width="0.24">Disease stage</text>
<line x1="126.50" y1="169.25" x2="126.50" y2="224.50" stroke="#111" stroke-width="0.9"/>
<line x1="125.00" y1="224.50" x2="126.50" y2="224.50" stroke="#111" stroke-width="0.9"/>
<text x="124.45" y="226.94" font-size="5.8" text-anchor="end" stroke="#231f20" stroke-width="0.24">0</text>
<line x1="125.00" y1="213.45" x2="126.50" y2="213.45" stroke="#111" stroke-width="0.9"/>
<text x="124.45" y="215.89" font-size="5.8" text-anchor="end" stroke="#231f20" stroke-width="0.24">20</text>
<line x1="125.00" y1="202.40" x2="126.50" y2="202.40" stroke="#111" stroke-width="0.9"/>
<text x="124.45" y="204.84" font-size="5.8" text-anchor="end" stroke="#231f20" stroke-width="0.24">40</text>
<line x1="125.00" y1="191.35" x2="126.50" y2="191.35" stroke="#111" stroke-width="0.9"/>
<text x="124.45" y="193.79" font-size="5.8" text-anchor="end" stroke="#231f20" stroke-width="0.24">60</text>
<line x1="125.00" y1="180.30" x2="126.50" y2="180.30" stroke="#111" stroke-width="0.9"/>
<text x="124.45" y="182.74" font-size="5.8" text-anchor="end" stroke="#231f20" stroke-width="0.24">80</text>
<line x1="125.00" y1="169.25" x2="126.50" y2="169.25" stroke="#111" stroke-width="0.9"/>
<text x="124.45" y="171.69" font-size="5.8" text-anchor="end" stroke="#231f20" stroke-width="0.24">100</text>
<line x1="126.75" y1="224.50" x2="154.00" y2="224.50" stroke="#231f20" stroke-width="0.75"/>
<text x="110.80" y="192.50" font-size="6.2" text-anchor="middle" transform="rotate(-90 110.80 192.50)" stroke="#231f20" stroke-width="0.24">% Patients</text>
<rect x="130.50" y="200.00" width="8.25" height="24.50" fill="#3a4fa3"/>
<rect x="130.50" y="178.75" width="8.25" height="21.25" fill="#e5242b"/>
<rect x="130.50" y="169.25" width="8.25" height="9.50" fill="#39a84a"/>
<rect x="142.50" y="204.00" width="8.75" height="20.50" fill="#3a4fa3"/>
<rect x="142.50" y="185.50" width="8.75" height="18.50" fill="#e5242b"/>
<rect x="142.50" y="169.25" width="8.75" height="16.25" fill="#39a84a"/>
<rect x="154.50" y="181.65" width="4.60" height="4.20" fill="#39a84a"/>
<text x="160.80" y="185.85" font-size="6" stroke="#231f20" stroke-width="0.24">Stage III</text>
<rect x="154.50" y="188.40" width="4.60" height="4.20" fill="#e5242b"/>
<text x="160.80" y="192.60" font-size="6" stroke="#231f20" stroke-width="0.24">Stage II</text>
<rect x="154.50" y="194.90" width="4.60" height="4.20" fill="#3a4fa3"/>
<text x="160.80" y="199.10" font-size="6" stroke="#231f20" stroke-width="0.24">Stage I</text>
<text x="114.70" y="252.90" font-size="6.5" transform="rotate(-45 114.70 252.90)" stroke="#231f20" stroke-width="0.24"><tspan font-style="italic">IL27RA</tspan><tspan font-style="italic" font-size="4.42" dy="-2.47">Norm</tspan><tspan dy="2.47"></tspan></text>
<text x="133.80" y="248.70" font-size="6.5" transform="rotate(-45 133.80 248.70)" stroke="#231f20" stroke-width="0.24"><tspan font-style="italic">IL27RA</tspan><tspan font-style="italic" font-size="4.42" dy="-2.47">Hi</tspan><tspan dy="2.47"></tspan></text>
<text x="199.80" y="141.00" font-size="10" font-weight="bold">H</text>
<path d="M208.00,160.00 L209.00,155.00 L213.00,152.00 L219.00,151.20 L225.00,151.80 L230.00,154.50 L232.60,159.00 L233.00,165.00 L231.00,169.00 L226.00,168.50 L222.00,170.50 L217.00,171.50 L212.00,169.50 L208.00,166.50Z" fill="#b462b6" stroke-linejoin="round" stroke="#b462b6" stroke-width="0.6"/>
<path d="M216.00,160.00 L220.50,157.00 L224.50,159.50 L225.00,166.00 L222.00,171.50 L216.00,172.50 L214.00,166.00Z" fill="#e4583e" stroke-linejoin="round" stroke="#e4583e" stroke-width="0.6"/>
<path d="M200.00,173.00 L206.00,171.50 L214.00,172.00 L222.00,171.00 L227.00,173.00 L229.00,178.00 L228.00,184.00 L226.00,190.00 L222.00,194.00 L216.00,196.00 L211.00,197.20 L206.00,195.50 L200.00,193.00 L196.50,189.00 L196.00,184.00 L197.50,178.00Z" fill="#ea6048" stroke-linejoin="round" stroke="#ea6048" stroke-width="0.6"/>
<path d="M203.00,184.00 L209.00,181.00 L215.00,183.00 L217.00,189.00 L214.00,194.50 L207.00,195.50 L202.00,191.00Z" fill="#f0707c" stroke-linejoin="round" stroke="#f0707c" stroke-width="0.6"/>
<path d="M196.30,184.00 L199.50,181.50 L203.00,185.50 L202.50,191.50 L198.00,191.50Z" fill="#b21c2c" stroke-linejoin="round" stroke="#b21c2c" stroke-width="0.6"/>
<path d="M228.00,180.00 L234.00,178.20 L239.50,180.50 L244.50,184.00 L242.00,187.00 L236.00,187.50 L229.00,187.00Z" fill="#e8644c" stroke-linejoin="round" stroke="#e8644c" stroke-width="0.6"/>
<path d="M233.00,183.00 L238.00,182.00 L241.00,185.50 L236.00,187.00Z" fill="#c84040" stroke-linejoin="round" stroke="#c84040" stroke-width="0.6"/>
<path d="M256.00,164.00 L258.50,163.60 L260.50,164.50 L260.00,167.50 L256.50,167.80Z" fill="#c0d43a" stroke-linejoin="round" stroke="#c0d43a" stroke-width="0.6"/>
<path d="M253.50,167.40 L258.00,166.80 L263.00,167.20 L265.50,170.00 L265.00,175.00 L262.00,177.50 L257.00,179.00 L252.50,178.50 L251.00,175.00 L252.50,171.00Z" fill="#4a66c6" stroke-linejoin="round" stroke="#4a66c6" stroke-width="0.6"/>
<path d="M259.00,175.00 L263.00,174.30 L266.00,176.00 L265.50,181.00 L262.00,184.00 L259.50,182.00 L258.50,178.00Z" fill="#22a49c" stroke-linejoin="round" stroke="#22a49c" stroke-width="0.6"/>
<path d="M251.20,203.50 L253.00,201.80 L256.00,201.40 L259.60,201.20 L258.50,203.50 L256.00,205.60 L252.50,205.50Z" fill="#f28a1c" stroke-linejoin="round" stroke="#f28a1c" stroke-width="0.6"/>
<path d="M222.50,226.00 L225.00,223.50 L229.00,222.50 L233.00,222.20 L234.60,224.50 L234.00,228.00 L231.00,230.50 L226.00,230.80 L223.00,229.00Z" fill="#2e9ee2" stroke-linejoin="round" stroke="#2e9ee2" stroke-width="0.6"/>
<path d="M237,187.5 Q238.5,193.5 243,193 Q246,192.5 246.8,188.5 L252,179.5" fill="none" stroke="#4a64c0" stroke-width="1.0" stroke-dasharray="1.7,1"/>
<path d="M264.5,171 L270,168.5" fill="none" stroke="#4a64c0" stroke-width="0.8" stroke-dasharray="1.5,1"/>
<path d="M246,150.6 L250,150 L253.5,148.8 M252.2,149 L250.3,155.6" fill="none" stroke="#3a5aa8" stroke-width="1.1"/>
<circle cx="238.70" cy="210.30" r="0.80" fill="#6a3a9a"/>
<path d="M245.6,219 L247.6,216.4" fill="none" stroke="#404a8a" stroke-width="0.8"/>
<text x="211.50" y="152.50" font-size="5.5" stroke="#231f20" stroke-width="0.24">NK cell</text>
<text x="242.30" y="159.60" font-size="5.5" stroke="#231f20" stroke-width="0.24">Nonclassical monocyte</text>
<text x="261.00" y="165.80" font-size="5.5" stroke="#231f20" stroke-width="0.24">Dendritic cell (DC)</text>
<text x="217.50" y="170.70" font-size="5.5" stroke="#231f20" stroke-width="0.24">ILC</text>
<text x="262.50" y="175.80" font-size="5.5" stroke="#231f20" stroke-width="0.24">Macrophage</text>
<text x="191.50" y="181.20" font-size="5.5" stroke="#231f20" stroke-width="0.24">CD8 T cell</text>
<text x="220.80" y="187.30" font-size="5.5" stroke="#231f20" stroke-width="0.24">CD4 T cell</text>
<text x="247.00" y="188.80" font-size="5.5" stroke="#231f20" stroke-width="0.24">Conventional-type DC</text>
<text x="194.60" y="195.80" font-size="5.5" stroke="#231f20" stroke-width="0.24">CD4 Treg</text>
<text x="219.20" y="199.60" font-size="5.5" stroke="#231f20" stroke-width="0.24">T cell</text>
<text x="248.00" y="211.50" font-size="5.5" stroke="#231f20" stroke-width="0.24">Plasma cell</text>
<text x="242.50" y="223.00" font-size="5.5" stroke="#231f20" stroke-width="0.24">Mast cell</text>
<text x="234.00" y="229.60" font-size="5.5" stroke="#231f20" stroke-width="0.24">B cell</text>
<text x="308.60" y="141.00" font-size="10" font-weight="bold">I</text>
<path d="M328.14,163.34 L328.90,159.54 L331.94,157.26 L336.50,156.65 L341.06,157.11 L344.86,159.16 L346.84,162.58 L347.14,167.14 L345.62,170.18 L341.82,169.80 L338.78,171.32 L334.98,172.08 L331.18,170.56 L328.14,168.28Z" fill="#9ab8e4" stroke="#3a6cc0" stroke-width="1.6" stroke-linejoin="round"/>
<rect x="330.69" y="169.73" width="0.90" height="0.90" fill="#ffffff"/>
<rect x="342.65" y="160.59" width="0.90" height="0.90" fill="#ffffff"/>
<rect x="337.55" y="163.59" width="0.90" height="0.90" fill="#ffffff"/>
<rect x="340.52" y="168.82" width="0.90" height="0.90" fill="#ffffff"/>
<rect x="344.02" y="163.33" width="0.90" height="0.90" fill="#ffffff"/>
<rect x="336.60" y="167.78" width="0.90" height="0.90" fill="#ffffff"/>
<rect x="328.62" y="165.00" width="0.90" height="0.90" fill="#ffffff"/>
<rect x="345.98" y="162.53" width="0.90" height="0.90" fill="#ffffff"/>
<rect x="332.26" y="163.16" width="0.90" height="0.90" fill="#ffffff"/>
<rect x="336.46" y="164.30" width="0.90" height="0.90" fill="#ffffff"/>
<rect x="332.57" y="160.21" width="0.90" height="0.90" fill="#ffffff"/>
<rect x="332.30" y="163.74" width="0.90" height="0.90" fill="#ffffff"/>
<rect x="344.05" y="165.24" width="0.90" height="0.90" fill="#ffffff"/>
<rect x="340.34" y="159.52" width="0.90" height="0.90" fill="#ffffff"/>
<rect x="330.44" y="161.78" width="0.90" height="0.90" fill="#ffffff"/>
<rect x="341.85" y="167.62" width="0.90" height="0.90" fill="#ffffff"/>
<rect x="345.93" y="163.16" width="0.90" height="0.90" fill="#ffffff"/>
<rect x="343.91" y="166.99" width="0.90" height="0.90" fill="#ffffff"/>
<rect x="333.90" y="165.72" width="0.90" height="0.90" fill="#ffffff"/>
<rect x="344.91" y="169.71" width="0.90" height="0.90" fill="#ffffff"/>
<rect x="337.74" y="165.74" width="0.90" height="0.90" fill="#ffffff"/>
<rect x="328.80" y="160.40" width="0.90" height="0.90" fill="#ffffff"/>
<rect x="343.29" y="163.04" width="0.90" height="0.90" fill="#ffffff"/>
<rect x="331.43" y="165.12" width="0.90" height="0.90" fill="#ffffff"/>
<rect x="341.50" y="167.06" width="0.90" height="0.90" fill="#ffffff"/>
<rect x="335.26" y="163.42" width="0.90" height="0.90" fill="#ffffff"/>
<rect x="337.80" y="168.66" width="0.90" height="0.90" fill="#ffffff"/>
<rect x="338.04" y="162.72" width="0.90" height="0.90" fill="#ffffff"/>
<rect x="337.44" y="157.11" width="0.90" height="0.90" fill="#ffffff"/>
<rect x="328.97" y="167.50" width="0.90" height="0.90" fill="#ffffff"/>
<rect x="346.82" y="165.80" width="0.90" height="0.90" fill="#ffffff"/>
<rect x="335.62" y="159.28" width="0.90" height="0.90" fill="#ffffff"/>
<rect x="342.78" y="164.98" width="0.90" height="0.90" fill="#ffffff"/>
<rect x="344.49" y="160.23" width="0.90" height="0.90" fill="#ffffff"/>
<rect x="337.90" y="171.35" width="0.90" height="0.90" fill="#ffffff"/>
<rect x="339.12" y="163.74" width="0.90" height="0.90" fill="#ffffff"/>
<rect x="333.26" y="165.11" width="0.90" height="0.90" fill="#ffffff"/>
<rect x="343.03" y="169.31" width="0.90" height="0.90" fill="#ffffff"/>
<rect x="344.98" y="168.08" width="0.90" height="0.90" fill="#ffffff"/>
<rect x="343.51" y="164.65" width="0.90" height="0.90" fill="#ffffff"/>
<rect x="338.81" y="163.23" width="0.90" height="0.90" fill="#ffffff"/>
<rect x="338.97" y="159.74" width="0.90" height="0.90" fill="#ffffff"/>
<rect x="337.73" y="164.13" width="0.90" height="0.90" fill="#ffffff"/>
<rect x="334.92" y="161.99" width="0.90" height="0.90" fill="#ffffff"/>
<rect x="338.37" y="166.27" width="0.90" height="0.90" fill="#ffffff"/>
<rect x="339.78" y="163.72" width="0.90" height="0.90" fill="#ffffff"/>
<rect x="331.51" y="165.67" width="0.90" height="0.90" fill="#ffffff"/>
<rect x="344.50" y="168.97" width="0.90" height="0.90" fill="#ffffff"/>
<rect x="343.28" y="169.25" width="0.90" height="0.90" fill="#ffffff"/>
<rect x="332.99" y="169.64" width="0.90" height="0.90" fill="#ffffff"/>
<rect x="340.93" y="157.94" width="0.90" height="0.90" fill="#ffffff"/>
<rect x="342.50" y="160.50" width="0.90" height="0.90" fill="#ffffff"/>
<rect x="330.22" y="166.29" width="0.90" height="0.90" fill="#ffffff"/>
<rect x="334.68" y="157.72" width="0.90" height="0.90" fill="#ffffff"/>
<rect x="331.17" y="164.79" width="0.90" height="0.90" fill="#ffffff"/>
<rect x="331.33" y="160.86" width="0.90" height="0.90" fill="#ffffff"/>
<rect x="341.66" y="163.67" width="0.90" height="0.90" fill="#ffffff"/>
<rect x="334.26" y="163.96" width="0.90" height="0.90" fill="#ffffff"/>
<rect x="328.59" y="162.62" width="0.90" height="0.90" fill="#ffffff"/>
<rect x="336.14" y="159.55" width="0.90" height="0.90" fill="#ffffff"/>
<rect x="337.83" y="159.88" width="0.90" height="0.90" fill="#ffffff"/>
<rect x="339.65" y="169.26" width="0.90" height="0.90" fill="#ffffff"/>
<rect x="330.92" y="167.74" width="0.90" height="0.90" fill="#ffffff"/>
<rect x="331.18" y="167.52" width="0.90" height="0.90" fill="#ffffff"/>
<rect x="341.03" y="165.06" width="0.90" height="0.90" fill="#ffffff"/>
<rect x="343.30" y="164.62" width="0.90" height="0.90" fill="#ffffff"/>
<rect x="332.38" y="166.66" width="0.90" height="0.90" fill="#ffffff"/>
<rect x="335.64" y="165.54" width="0.90" height="0.90" fill="#ffffff"/>
<rect x="334.24" y="166.39" width="0.90" height="0.90" fill="#ffffff"/>
<rect x="329.26" y="161.26" width="0.90" height="0.90" fill="#ffffff"/>
<rect x="333.96" y="169.90" width="0.90" height="0.90" fill="#ffffff"/>
<rect x="334.04" y="171.14" width="0.90" height="0.90" fill="#ffffff"/>
<rect x="342.27" y="163.07" width="0.90" height="0.90" fill="#ffffff"/>
<rect x="338.98" y="159.30" width="0.90" height="0.90" fill="#ffffff"/>
<rect x="341.52" y="164.50" width="0.90" height="0.90" fill="#ffffff"/>
<rect x="335.32" y="162.00" width="0.90" height="0.90" fill="#ffffff"/>
<rect x="332.05" y="167.05" width="0.90" height="0.90" fill="#ffffff"/>
<rect x="336.37" y="159.65" width="0.90" height="0.90" fill="#ffffff"/>
<rect x="330.12" y="166.93" width="0.90" height="0.90" fill="#ffffff"/>
<rect x="333.77" y="164.36" width="0.90" height="0.90" fill="#ffffff"/>
<rect x="334.32" y="170.10" width="0.90" height="0.90" fill="#ffffff"/>
<path d="M334.22,163.34 L337.64,161.06 L340.68,162.96 L341.06,167.90 L338.78,172.08 L334.22,172.84 L332.70,167.90Z" fill="#4a7cc8"/>
<rect x="334.38" y="164.92" width="0.90" height="0.90" fill="#ffffff"/>
<rect x="335.53" y="163.57" width="0.90" height="0.90" fill="#ffffff"/>
<rect x="338.34" y="170.93" width="0.90" height="0.90" fill="#ffffff"/>
<rect x="340.49" y="165.11" width="0.90" height="0.90" fill="#ffffff"/>
<rect x="340.08" y="169.15" width="0.90" height="0.90" fill="#ffffff"/>
<rect x="334.66" y="169.61" width="0.90" height="0.90" fill="#ffffff"/>
<rect x="340.32" y="163.57" width="0.90" height="0.90" fill="#ffffff"/>
<rect x="339.05" y="168.13" width="0.90" height="0.90" fill="#ffffff"/>
<rect x="339.73" y="165.40" width="0.90" height="0.90" fill="#ffffff"/>
<rect x="335.54" y="164.49" width="0.90" height="0.90" fill="#ffffff"/>
<rect x="339.95" y="168.17" width="0.90" height="0.90" fill="#ffffff"/>
<rect x="333.83" y="167.55" width="0.90" height="0.90" fill="#ffffff"/>
<rect x="339.29" y="170.82" width="0.90" height="0.90" fill="#ffffff"/>
<rect x="335.55" y="168.31" width="0.90" height="0.90" fill="#ffffff"/>
<rect x="339.24" y="165.51" width="0.90" height="0.90" fill="#ffffff"/>
<rect x="337.47" y="163.70" width="0.90" height="0.90" fill="#ffffff"/>
<rect x="340.15" y="167.71" width="0.90" height="0.90" fill="#ffffff"/>
<rect x="340.43" y="166.45" width="0.90" height="0.90" fill="#ffffff"/>
<rect x="335.02" y="170.33" width="0.90" height="0.90" fill="#ffffff"/>
<rect x="338.30" y="162.14" width="0.90" height="0.90" fill="#ffffff"/>
<rect x="334.72" y="169.82" width="0.90" height="0.90" fill="#ffffff"/>
<rect x="335.86" y="172.49" width="0.90" height="0.90" fill="#ffffff"/>
<rect x="340.30" y="164.52" width="0.90" height="0.90" fill="#ffffff"/>
<rect x="334.82" y="166.68" width="0.90" height="0.90" fill="#ffffff"/>
<rect x="333.54" y="168.74" width="0.90" height="0.90" fill="#ffffff"/>
<rect x="337.69" y="166.36" width="0.90" height="0.90" fill="#ffffff"/>
<rect x="334.50" y="168.34" width="0.90" height="0.90" fill="#ffffff"/>
<rect x="340.89" y="167.46" width="0.90" height="0.90" fill="#ffffff"/>
<rect x="338.45" y="168.86" width="0.90" height="0.90" fill="#ffffff"/>
<rect x="334.87" y="167.44" width="0.90" height="0.90" fill="#ffffff"/>
<rect x="335.27" y="163.96" width="0.90" height="0.90" fill="#ffffff"/>
<path d="M322.06,173.22 L326.62,172.08 L332.70,172.46 L338.78,171.70 L342.58,173.22 L344.10,177.02 L343.34,181.58 L341.82,186.14 L338.78,189.18 L334.22,190.70 L330.42,191.61 L326.62,190.32 L322.06,188.42 L319.40,185.38 L319.02,181.58 L320.16,177.02Z" fill="#3a6cc0"/>
<rect x="321.06" y="177.29" width="0.90" height="0.90" fill="#ffffff"/>
<rect x="335.37" y="184.51" width="0.90" height="0.90" fill="#ffffff"/>
<rect x="342.61" y="179.48" width="0.90" height="0.90" fill="#ffffff"/>
<rect x="326.71" y="178.22" width="0.90" height="0.90" fill="#ffffff"/>
<rect x="326.96" y="188.57" width="0.90" height="0.90" fill="#ffffff"/>
<rect x="341.43" y="177.73" width="0.90" height="0.90" fill="#ffffff"/>
<rect x="327.41" y="182.54" width="0.90" height="0.90" fill="#ffffff"/>
<rect x="333.54" y="183.57" width="0.90" height="0.90" fill="#ffffff"/>
<rect x="325.13" y="173.14" width="0.90" height="0.90" fill="#ffffff"/>
<rect x="332.84" y="173.11" width="0.90" height="0.90" fill="#ffffff"/>
<rect x="320.90" y="184.35" width="0.90" height="0.90" fill="#ffffff"/>
<rect x="326.31" y="187.47" width="0.90" height="0.90" fill="#ffffff"/>
<rect x="331.39" y="188.88" width="0.90" height="0.90" fill="#ffffff"/>
<rect x="322.89" y="181.68" width="0.90" height="0.90" fill="#ffffff"/>
<rect x="338.96" y="173.24" width="0.90" height="0.90" fill="#ffffff"/>
<rect x="342.83" y="175.15" width="0.90" height="0.90" fill="#ffffff"/>
<rect x="339.62" y="178.07" width="0.90" height="0.90" fill="#ffffff"/>
<rect x="321.70" y="181.94" width="0.90" height="0.90" fill="#ffffff"/>
<rect x="342.08" y="177.54" width="0.90" height="0.90" fill="#ffffff"/>
<rect x="341.44" y="174.52" width="0.90" height="0.90" fill="#ffffff"/>
<rect x="326.95" y="189.68" width="0.90" height="0.90" fill="#ffffff"/>
<rect x="340.11" y="186.56" width="0.90" height="0.90" fill="#ffffff"/>
<rect x="336.32" y="175.25" width="0.90" height="0.90" fill="#ffffff"/>
<rect x="329.87" y="174.84" width="0.90" height="0.90" fill="#ffffff"/>
<rect x="336.95" y="185.00" width="0.90" height="0.90" fill="#ffffff"/>
<rect x="325.35" y="172.98" width="0.90" height="0.90" fill="#ffffff"/>
<rect x="332.80" y="182.48" width="0.90" height="0.90" fill="#ffffff"/>
<rect x="340.37" y="180.73" width="0.90" height="0.90" fill="#ffffff"/>
<rect x="328.94" y="178.44" width="0.90" height="0.90" fill="#ffffff"/>
<rect x="335.23" y="180.00" width="0.90" height="0.90" fill="#ffffff"/>
<rect x="333.33" y="172.94" width="0.90" height="0.90" fill="#ffffff"/>
<rect x="327.92" y="174.45" width="0.90" height="0.90" fill="#ffffff"/>
<rect x="322.16" y="176.86" width="0.90" height="0.90" fill="#ffffff"/>
<rect x="339.81" y="179.62" width="0.90" height="0.90" fill="#ffffff"/>
<rect x="329.08" y="183.90" width="0.90" height="0.90" fill="#ffffff"/>
<rect x="332.28" y="181.67" width="0.90" height="0.90" fill="#ffffff"/>
<rect x="335.29" y="180.43" width="0.90" height="0.90" fill="#ffffff"/>
<rect x="336.24" y="186.26" width="0.90" height="0.90" fill="#ffffff"/>
<rect x="325.00" y="181.56" width="0.90" height="0.90" fill="#ffffff"/>
<rect x="331.03" y="176.18" width="0.90" height="0.90" fill="#ffffff"/>
<rect x="329.36" y="182.86" width="0.90" height="0.90" fill="#ffffff"/>
<rect x="325.92" y="184.57" width="0.90" height="0.90" fill="#ffffff"/>
<rect x="331.85" y="189.17" width="0.90" height="0.90" fill="#ffffff"/>
<rect x="323.02" y="186.95" width="0.90" height="0.90" fill="#ffffff"/>
<rect x="341.17" y="177.91" width="0.90" height="0.90" fill="#ffffff"/>
<rect x="336.39" y="188.61" width="0.90" height="0.90" fill="#ffffff"/>
<rect x="328.34" y="185.66" width="0.90" height="0.90" fill="#ffffff"/>
<rect x="337.49" y="183.54" width="0.90" height="0.90" fill="#ffffff"/>
<rect x="323.44" y="176.69" width="0.90" height="0.90" fill="#ffffff"/>
<rect x="324.48" y="183.04" width="0.90" height="0.90" fill="#ffffff"/>
<rect x="338.02" y="172.74" width="0.90" height="0.90" fill="#ffffff"/>
<rect x="336.12" y="185.98" width="0.90" height="0.90" fill="#ffffff"/>
<rect x="327.75" y="181.96" width="0.90" height="0.90" fill="#ffffff"/>
<rect x="323.15" y="186.23" width="0.90" height="0.90" fill="#ffffff"/>
<rect x="339.28" y="184.21" width="0.90" height="0.90" fill="#ffffff"/>
<rect x="325.73" y="189.88" width="0.90" height="0.90" fill="#ffffff"/>
<rect x="338.48" y="188.46" width="0.90" height="0.90" fill="#ffffff"/>
<rect x="335.57" y="185.65" width="0.90" height="0.90" fill="#ffffff"/>
<rect x="330.18" y="190.10" width="0.90" height="0.90" fill="#ffffff"/>
<rect x="343.38" y="179.31" width="0.90" height="0.90" fill="#ffffff"/>
<rect x="339.15" y="180.32" width="0.90" height="0.90" fill="#ffffff"/>
<rect x="323.15" y="178.18" width="0.90" height="0.90" fill="#ffffff"/>
<rect x="334.09" y="179.83" width="0.90" height="0.90" fill="#ffffff"/>
<rect x="321.98" y="177.58" width="0.90" height="0.90" fill="#ffffff"/>
<rect x="325.25" y="186.63" width="0.90" height="0.90" fill="#ffffff"/>
<rect x="334.76" y="183.76" width="0.90" height="0.90" fill="#ffffff"/>
<rect x="339.97" y="175.81" width="0.90" height="0.90" fill="#ffffff"/>
<rect x="326.16" y="182.50" width="0.90" height="0.90" fill="#ffffff"/>
<rect x="325.87" y="183.36" width="0.90" height="0.90" fill="#ffffff"/>
<rect x="325.31" y="185.31" width="0.90" height="0.90" fill="#ffffff"/>
<rect x="338.86" y="187.80" width="0.90" height="0.90" fill="#ffffff"/>
<rect x="331.33" y="188.74" width="0.90" height="0.90" fill="#ffffff"/>
<rect x="338.31" y="183.06" width="0.90" height="0.90" fill="#ffffff"/>
<rect x="328.63" y="177.36" width="0.90" height="0.90" fill="#ffffff"/>
<rect x="321.73" y="187.78" width="0.90" height="0.90" fill="#ffffff"/>
<rect x="321.98" y="186.58" width="0.90" height="0.90" fill="#ffffff"/>
<rect x="332.70" y="190.91" width="0.90" height="0.90" fill="#ffffff"/>
<rect x="322.45" y="181.66" width="0.90" height="0.90" fill="#ffffff"/>
<rect x="333.38" y="177.90" width="0.90" height="0.90" fill="#ffffff"/>
<rect x="331.64" y="178.80" width="0.90" height="0.90" fill="#ffffff"/>
<rect x="330.11" y="180.65" width="0.90" height="0.90" fill="#ffffff"/>
<rect x="326.66" y="179.65" width="0.90" height="0.90" fill="#ffffff"/>
<rect x="338.66" y="185.31" width="0.90" height="0.90" fill="#ffffff"/>
<rect x="331.37" y="184.60" width="0.90" height="0.90" fill="#ffffff"/>
<rect x="328.49" y="175.76" width="0.90" height="0.90" fill="#ffffff"/>
<rect x="334.02" y="189.26" width="0.90" height="0.90" fill="#ffffff"/>
<rect x="339.82" y="181.87" width="0.90" height="0.90" fill="#ffffff"/>
<rect x="339.95" y="179.84" width="0.90" height="0.90" fill="#ffffff"/>
<rect x="326.68" y="175.09" width="0.90" height="0.90" fill="#ffffff"/>
<rect x="334.57" y="182.27" width="0.90" height="0.90" fill="#ffffff"/>
<rect x="328.78" y="180.18" width="0.90" height="0.90" fill="#ffffff"/>
<rect x="329.18" y="188.85" width="0.90" height="0.90" fill="#ffffff"/>
<rect x="333.68" y="186.31" width="0.90" height="0.90" fill="#ffffff"/>
<rect x="331.38" y="186.55" width="0.90" height="0.90" fill="#ffffff"/>
<rect x="335.08" y="184.62" width="0.90" height="0.90" fill="#ffffff"/>
<rect x="334.81" y="179.80" width="0.90" height="0.90" fill="#ffffff"/>
<rect x="334.80" y="184.32" width="0.90" height="0.90" fill="#ffffff"/>
<rect x="340.24" y="186.98" width="0.90" height="0.90" fill="#ffffff"/>
<rect x="339.47" y="183.76" width="0.90" height="0.90" fill="#ffffff"/>
<rect x="327.78" y="176.97" width="0.90" height="0.90" fill="#ffffff"/>
<rect x="336.78" y="189.10" width="0.90" height="0.90" fill="#ffffff"/>
<rect x="332.67" y="174.73" width="0.90" height="0.90" fill="#ffffff"/>
<rect x="339.91" y="181.35" width="0.90" height="0.90" fill="#ffffff"/>
<rect x="330.73" y="172.60" width="0.90" height="0.90" fill="#ffffff"/>
<rect x="331.82" y="186.53" width="0.90" height="0.90" fill="#ffffff"/>
<rect x="329.62" y="178.77" width="0.90" height="0.90" fill="#ffffff"/>
<rect x="331.74" y="190.54" width="0.90" height="0.90" fill="#ffffff"/>
<rect x="336.34" y="179.70" width="0.90" height="0.90" fill="#ffffff"/>
<rect x="336.30" y="183.75" width="0.90" height="0.90" fill="#ffffff"/>
<rect x="324.26" y="175.84" width="0.90" height="0.90" fill="#ffffff"/>
<rect x="341.24" y="177.06" width="0.90" height="0.90" fill="#ffffff"/>
<rect x="332.14" y="179.03" width="0.90" height="0.90" fill="#ffffff"/>
<rect x="331.85" y="186.37" width="0.90" height="0.90" fill="#ffffff"/>
<rect x="323.25" y="184.70" width="0.90" height="0.90" fill="#ffffff"/>
<rect x="336.91" y="187.93" width="0.90" height="0.90" fill="#ffffff"/>
<rect x="325.79" y="183.84" width="0.90" height="0.90" fill="#ffffff"/>
<rect x="324.84" y="182.87" width="0.90" height="0.90" fill="#ffffff"/>
<rect x="323.34" y="187.43" width="0.90" height="0.90" fill="#ffffff"/>
<rect x="340.76" y="178.26" width="0.90" height="0.90" fill="#ffffff"/>
<path d="M324.34,181.58 L328.90,179.30 L333.46,180.82 L334.98,185.38 L332.70,189.56 L327.38,190.32 L323.58,186.90Z" fill="#3a6cc0"/>
<rect x="331.64" y="188.60" width="0.90" height="0.90" fill="#ffffff"/>
<rect x="330.68" y="182.79" width="0.90" height="0.90" fill="#ffffff"/>
<rect x="328.50" y="187.69" width="0.90" height="0.90" fill="#ffffff"/>
<rect x="332.53" y="181.39" width="0.90" height="0.90" fill="#ffffff"/>
<rect x="330.72" y="181.13" width="0.90" height="0.90" fill="#ffffff"/>
<rect x="330.49" y="182.19" width="0.90" height="0.90" fill="#ffffff"/>
<rect x="329.58" y="180.83" width="0.90" height="0.90" fill="#ffffff"/>
<rect x="325.15" y="187.19" width="0.90" height="0.90" fill="#ffffff"/>
<rect x="327.70" y="187.58" width="0.90" height="0.90" fill="#ffffff"/>
<rect x="326.32" y="187.21" width="0.90" height="0.90" fill="#ffffff"/>
<rect x="331.77" y="182.67" width="0.90" height="0.90" fill="#ffffff"/>
<rect x="324.79" y="183.68" width="0.90" height="0.90" fill="#ffffff"/>
<rect x="329.19" y="180.40" width="0.90" height="0.90" fill="#ffffff"/>
<rect x="330.39" y="189.10" width="0.90" height="0.90" fill="#ffffff"/>
<rect x="331.60" y="188.28" width="0.90" height="0.90" fill="#ffffff"/>
<rect x="334.57" y="186.06" width="0.90" height="0.90" fill="#ffffff"/>
<rect x="327.48" y="188.53" width="0.90" height="0.90" fill="#ffffff"/>
<rect x="324.93" y="186.93" width="0.90" height="0.90" fill="#ffffff"/>
<rect x="324.67" y="183.70" width="0.90" height="0.90" fill="#ffffff"/>
<rect x="329.22" y="183.46" width="0.90" height="0.90" fill="#ffffff"/>
<rect x="325.50" y="181.85" width="0.90" height="0.90" fill="#ffffff"/>
<rect x="332.93" y="184.40" width="0.90" height="0.90" fill="#ffffff"/>
<rect x="330.19" y="181.64" width="0.90" height="0.90" fill="#ffffff"/>
<rect x="331.73" y="182.94" width="0.90" height="0.90" fill="#ffffff"/>
<rect x="330.35" y="189.32" width="0.90" height="0.90" fill="#ffffff"/>
<rect x="332.67" y="188.75" width="0.90" height="0.90" fill="#ffffff"/>
<rect x="327.22" y="183.52" width="0.90" height="0.90" fill="#ffffff"/>
<rect x="330.19" y="189.43" width="0.90" height="0.90" fill="#ffffff"/>
<rect x="328.14" y="189.00" width="0.90" height="0.90" fill="#ffffff"/>
<rect x="332.23" y="180.98" width="0.90" height="0.90" fill="#ffffff"/>
<path d="M319.25,181.58 L321.68,179.68 L324.34,182.72 L323.96,187.28 L320.54,187.28Z" fill="#3a6cc0"/>
<rect x="319.99" y="184.73" width="0.90" height="0.90" fill="#ffffff"/>
<rect x="319.54" y="182.56" width="0.90" height="0.90" fill="#ffffff"/>
<rect x="319.91" y="183.20" width="0.90" height="0.90" fill="#ffffff"/>
<rect x="323.53" y="186.57" width="0.90" height="0.90" fill="#ffffff"/>
<rect x="320.64" y="180.57" width="0.90" height="0.90" fill="#ffffff"/>
<rect x="322.49" y="185.34" width="0.90" height="0.90" fill="#ffffff"/>
<rect x="322.75" y="186.11" width="0.90" height="0.90" fill="#ffffff"/>
<rect x="322.62" y="182.64" width="0.90" height="0.90" fill="#ffffff"/>
<path d="M343.34,178.54 L347.90,177.17 L352.08,178.92 L355.88,181.58 L353.98,183.86 L349.42,184.24 L344.10,183.86Z" fill="#3a6cc0"/>
<rect x="351.25" y="184.03" width="0.90" height="0.90" fill="#ffffff"/>
<rect x="351.39" y="178.89" width="0.90" height="0.90" fill="#ffffff"/>
<rect x="344.09" y="183.78" width="0.90" height="0.90" fill="#ffffff"/>
<rect x="350.74" y="179.64" width="0.90" height="0.90" fill="#ffffff"/>
<rect x="350.93" y="181.13" width="0.90" height="0.90" fill="#ffffff"/>
<rect x="347.77" y="180.09" width="0.90" height="0.90" fill="#ffffff"/>
<rect x="345.84" y="183.39" width="0.90" height="0.90" fill="#ffffff"/>
<rect x="348.66" y="181.85" width="0.90" height="0.90" fill="#ffffff"/>
<rect x="352.29" y="182.43" width="0.90" height="0.90" fill="#ffffff"/>
<rect x="352.38" y="182.49" width="0.90" height="0.90" fill="#ffffff"/>
<rect x="345.23" y="183.66" width="0.90" height="0.90" fill="#ffffff"/>
<rect x="354.06" y="183.20" width="0.90" height="0.90" fill="#ffffff"/>
<rect x="353.54" y="180.49" width="0.90" height="0.90" fill="#ffffff"/>
<rect x="347.98" y="184.13" width="0.90" height="0.90" fill="#ffffff"/>
<rect x="343.84" y="180.93" width="0.90" height="0.90" fill="#ffffff"/>
<rect x="348.90" y="178.08" width="0.90" height="0.90" fill="#ffffff"/>
<rect x="348.30" y="182.17" width="0.90" height="0.90" fill="#ffffff"/>
<rect x="343.77" y="179.89" width="0.90" height="0.90" fill="#ffffff"/>
<rect x="352.53" y="179.39" width="0.90" height="0.90" fill="#ffffff"/>
<rect x="344.97" y="182.79" width="0.90" height="0.90" fill="#ffffff"/>
<path d="M347.14,180.82 L350.94,180.06 L353.22,182.72 L349.42,183.86Z" fill="#3a6cc0"/>
<rect x="348.99" y="181.67" width="0.90" height="0.90" fill="#ffffff"/>
<rect x="348.63" y="182.18" width="0.90" height="0.90" fill="#ffffff"/>
<rect x="349.15" y="181.35" width="0.90" height="0.90" fill="#ffffff"/>
<rect x="350.69" y="180.46" width="0.90" height="0.90" fill="#ffffff"/>
<path d="M364.62,166.38 L366.52,166.08 L368.04,166.76 L367.66,169.04 L365.00,169.27Z" fill="#45aee4"/>
<rect x="366.85" y="167.51" width="0.90" height="0.90" fill="#ffffff"/>
<path d="M362.72,168.96 L366.14,168.51 L369.94,168.81 L371.84,170.94 L371.46,174.74 L369.18,176.64 L365.38,177.78 L361.96,177.40 L360.82,174.74 L361.96,171.70Z" fill="#45aee4"/>
<rect x="370.02" y="175.01" width="0.90" height="0.90" fill="#ffffff"/>
<rect x="366.72" y="176.82" width="0.90" height="0.90" fill="#ffffff"/>
<rect x="369.98" y="171.21" width="0.90" height="0.90" fill="#ffffff"/>
<rect x="362.55" y="171.94" width="0.90" height="0.90" fill="#ffffff"/>
<rect x="366.56" y="169.41" width="0.90" height="0.90" fill="#ffffff"/>
<rect x="364.63" y="173.84" width="0.90" height="0.90" fill="#ffffff"/>
<rect x="368.00" y="171.42" width="0.90" height="0.90" fill="#ffffff"/>
<rect x="364.11" y="171.78" width="0.90" height="0.90" fill="#ffffff"/>
<path d="M366.90,174.74 L369.94,174.21 L372.22,175.50 L371.84,179.30 L369.18,181.58 L367.28,180.06 L366.52,177.02Z" fill="#45aee4"/>
<rect x="368.37" y="179.73" width="0.90" height="0.90" fill="#ffffff"/>
<rect x="369.38" y="178.09" width="0.90" height="0.90" fill="#ffffff"/>
<rect x="368.38" y="176.62" width="0.90" height="0.90" fill="#ffffff"/>
<path d="M360.97,196.40 L362.34,195.11 L364.62,194.80 L367.36,194.65 L366.52,196.40 L364.62,198.00 L361.96,197.92Z" fill="#3aa0a8"/>
<rect x="364.03" y="197.70" width="0.90" height="0.90" fill="#ffffff"/>
<path d="M339.16,213.50 L341.06,211.60 L344.10,210.84 L347.14,210.61 L348.36,212.36 L347.90,215.02 L345.62,216.92 L341.82,217.15 L339.54,215.78Z" fill="#3a66b4"/>
<rect x="340.40" y="214.03" width="0.90" height="0.90" fill="#ffffff"/>
<rect x="346.37" y="215.21" width="0.90" height="0.90" fill="#ffffff"/>
<rect x="346.03" y="212.98" width="0.90" height="0.90" fill="#ffffff"/>
<rect x="347.83" y="214.82" width="0.90" height="0.90" fill="#ffffff"/>
<rect x="342.86" y="213.65" width="0.90" height="0.90" fill="#ffffff"/>
<path d="M350.18,184.24 L357.63,185.00" fill="none" stroke="#40a8e0" stroke-width="0.9"/>
<path d="M397.14,163.34 L397.90,159.54 L400.94,157.26 L405.50,156.65 L410.06,157.11 L413.86,159.16 L415.84,162.58 L416.14,167.14 L414.62,170.18 L410.82,169.80 L407.78,171.32 L403.98,172.08 L400.18,170.56 L397.14,168.28Z" fill="#e0e0e0" fill-opacity="0.85"/>
<rect x="413.01" y="168.01" width="0.80" height="0.80" fill="#8c8c8c"/>
<rect x="409.86" y="161.41" width="0.80" height="0.80" fill="#8c8c8c"/>
<rect x="408.65" y="166.01" width="0.80" height="0.80" fill="#8c8c8c"/>
<rect x="408.18" y="159.10" width="0.80" height="0.80" fill="#8c8c8c"/>
<rect x="405.32" y="162.72" width="0.80" height="0.80" fill="#8c8c8c"/>
<rect x="415.18" y="165.05" width="0.80" height="0.80" fill="#8c8c8c"/>
<rect x="405.59" y="160.79" width="0.80" height="0.80" fill="#8c8c8c"/>
<rect x="405.97" y="161.57" width="0.80" height="0.80" fill="#8c8c8c"/>
<rect x="404.36" y="170.41" width="0.80" height="0.80" fill="#8c8c8c"/>
<rect x="407.13" y="165.30" width="0.80" height="0.80" fill="#8c8c8c"/>
<rect x="403.32" y="158.76" width="0.80" height="0.80" fill="#8c8c8c"/>
<rect x="409.96" y="159.46" width="0.80" height="0.80" fill="#8c8c8c"/>
<rect x="414.12" y="168.94" width="0.80" height="0.80" fill="#8c8c8c"/>
<rect x="411.63" y="168.84" width="0.80" height="0.80" fill="#8c8c8c"/>
<rect x="403.86" y="171.79" width="0.80" height="0.80" fill="#8c8c8c"/>
<rect x="411.47" y="167.69" width="0.80" height="0.80" fill="#8c8c8c"/>
<rect x="405.91" y="164.83" width="0.80" height="0.80" fill="#8c8c8c"/>
<rect x="406.45" y="170.92" width="0.80" height="0.80" fill="#8c8c8c"/>
<rect x="406.66" y="169.48" width="0.80" height="0.80" fill="#8c8c8c"/>
<rect x="403.86" y="170.27" width="0.80" height="0.80" fill="#8c8c8c"/>
<rect x="414.23" y="163.76" width="0.80" height="0.80" fill="#8c8c8c"/>
<rect x="407.93" y="170.85" width="0.80" height="0.80" fill="#8c8c8c"/>
<rect x="410.89" y="164.16" width="0.80" height="0.80" fill="#8c8c8c"/>
<rect x="401.35" y="161.66" width="0.80" height="0.80" fill="#8c8c8c"/>
<rect x="410.43" y="159.21" width="0.80" height="0.80" fill="#8c8c8c"/>
<rect x="414.39" y="160.79" width="0.80" height="0.80" fill="#8c8c8c"/>
<rect x="414.46" y="161.43" width="0.80" height="0.80" fill="#8c8c8c"/>
<rect x="415.33" y="167.55" width="0.90" height="0.90" fill="#ffffff"/>
<rect x="406.72" y="164.64" width="0.90" height="0.90" fill="#ffffff"/>
<rect x="409.52" y="165.72" width="0.90" height="0.90" fill="#ffffff"/>
<rect x="403.07" y="159.86" width="0.90" height="0.90" fill="#ffffff"/>
<rect x="406.87" y="171.06" width="0.90" height="0.90" fill="#ffffff"/>
<rect x="408.98" y="157.81" width="0.90" height="0.90" fill="#ffffff"/>
<rect x="412.73" y="167.85" width="0.90" height="0.90" fill="#ffffff"/>
<rect x="409.55" y="160.87" width="0.90" height="0.90" fill="#ffffff"/>
<rect x="401.45" y="170.16" width="0.90" height="0.90" fill="#ffffff"/>
<rect x="399.16" y="164.71" width="0.90" height="0.90" fill="#ffffff"/>
<rect x="413.36" y="160.43" width="0.90" height="0.90" fill="#ffffff"/>
<rect x="401.14" y="170.24" width="0.90" height="0.90" fill="#ffffff"/>
<rect x="405.18" y="167.71" width="0.90" height="0.90" fill="#ffffff"/>
<rect x="397.75" y="162.24" width="0.90" height="0.90" fill="#ffffff"/>
<rect x="400.41" y="167.03" width="0.90" height="0.90" fill="#ffffff"/>
<rect x="397.62" y="167.91" width="0.90" height="0.90" fill="#ffffff"/>
<rect x="412.59" y="159.08" width="0.90" height="0.90" fill="#ffffff"/>
<rect x="400.63" y="167.32" width="0.90" height="0.90" fill="#ffffff"/>
<rect x="404.47" y="157.32" width="0.90" height="0.90" fill="#ffffff"/>
<rect x="397.83" y="161.96" width="0.90" height="0.90" fill="#ffffff"/>
<rect x="408.83" y="168.11" width="0.90" height="0.90" fill="#ffffff"/>
<rect x="399.29" y="161.85" width="0.90" height="0.90" fill="#ffffff"/>
<rect x="397.73" y="163.57" width="0.90" height="0.90" fill="#ffffff"/>
<rect x="411.69" y="168.07" width="0.90" height="0.90" fill="#ffffff"/>
<rect x="414.28" y="168.31" width="0.90" height="0.90" fill="#ffffff"/>
<rect x="413.53" y="167.53" width="0.90" height="0.90" fill="#ffffff"/>
<rect x="406.12" y="160.13" width="0.90" height="0.90" fill="#ffffff"/>
<rect x="409.70" y="161.53" width="0.90" height="0.90" fill="#ffffff"/>
<rect x="399.08" y="163.56" width="0.90" height="0.90" fill="#ffffff"/>
<rect x="408.25" y="162.71" width="0.90" height="0.90" fill="#ffffff"/>
<rect x="406.92" y="158.87" width="0.90" height="0.90" fill="#ffffff"/>
<rect x="408.66" y="163.13" width="0.90" height="0.90" fill="#ffffff"/>
<rect x="397.48" y="165.26" width="0.90" height="0.90" fill="#ffffff"/>
<rect x="398.96" y="166.45" width="0.90" height="0.90" fill="#ffffff"/>
<rect x="401.56" y="163.51" width="0.90" height="0.90" fill="#ffffff"/>
<rect x="401.90" y="165.77" width="0.90" height="0.90" fill="#ffffff"/>
<rect x="409.00" y="169.00" width="0.90" height="0.90" fill="#ffffff"/>
<rect x="410.62" y="160.61" width="0.90" height="0.90" fill="#ffffff"/>
<rect x="405.18" y="164.77" width="0.90" height="0.90" fill="#ffffff"/>
<rect x="404.91" y="158.37" width="0.90" height="0.90" fill="#ffffff"/>
<rect x="410.89" y="160.37" width="0.90" height="0.90" fill="#ffffff"/>
<rect x="399.04" y="159.46" width="0.90" height="0.90" fill="#ffffff"/>
<rect x="401.54" y="160.01" width="0.90" height="0.90" fill="#ffffff"/>
<rect x="407.03" y="163.82" width="0.90" height="0.90" fill="#ffffff"/>
<rect x="403.02" y="166.55" width="0.90" height="0.90" fill="#ffffff"/>
<rect x="401.18" y="170.64" width="0.90" height="0.90" fill="#ffffff"/>
<rect x="415.44" y="167.90" width="0.90" height="0.90" fill="#ffffff"/>
<rect x="405.38" y="164.54" width="0.90" height="0.90" fill="#ffffff"/>
<rect x="408.18" y="157.44" width="0.90" height="0.90" fill="#ffffff"/>
<rect x="405.08" y="164.75" width="0.90" height="0.90" fill="#ffffff"/>
<rect x="400.58" y="158.10" width="0.90" height="0.90" fill="#ffffff"/>
<rect x="412.39" y="162.30" width="0.90" height="0.90" fill="#ffffff"/>
<rect x="407.00" y="170.87" width="0.90" height="0.90" fill="#ffffff"/>
<rect x="408.74" y="161.12" width="0.90" height="0.90" fill="#ffffff"/>
<rect x="397.50" y="167.22" width="0.90" height="0.90" fill="#ffffff"/>
<rect x="399.06" y="161.37" width="0.90" height="0.90" fill="#ffffff"/>
<rect x="413.11" y="167.03" width="0.90" height="0.90" fill="#ffffff"/>
<rect x="397.44" y="163.62" width="0.90" height="0.90" fill="#ffffff"/>
<rect x="404.94" y="164.15" width="0.90" height="0.90" fill="#ffffff"/>
<rect x="401.10" y="165.74" width="0.90" height="0.90" fill="#ffffff"/>
<rect x="398.54" y="161.04" width="0.90" height="0.90" fill="#ffffff"/>
<rect x="404.23" y="171.08" width="0.90" height="0.90" fill="#ffffff"/>
<rect x="398.59" y="168.30" width="0.90" height="0.90" fill="#ffffff"/>
<rect x="400.79" y="165.47" width="0.90" height="0.90" fill="#ffffff"/>
<rect x="404.58" y="163.80" width="0.90" height="0.90" fill="#ffffff"/>
<rect x="411.46" y="162.75" width="0.90" height="0.90" fill="#ffffff"/>
<rect x="399.45" y="158.53" width="0.90" height="0.90" fill="#ffffff"/>
<rect x="409.66" y="168.64" width="0.90" height="0.90" fill="#ffffff"/>
<rect x="410.89" y="164.33" width="0.90" height="0.90" fill="#ffffff"/>
<rect x="403.93" y="163.70" width="0.90" height="0.90" fill="#ffffff"/>
<rect x="412.32" y="160.80" width="0.90" height="0.90" fill="#ffffff"/>
<rect x="407.14" y="164.02" width="0.90" height="0.90" fill="#ffffff"/>
<rect x="414.85" y="169.55" width="0.90" height="0.90" fill="#ffffff"/>
<rect x="402.78" y="160.23" width="0.90" height="0.90" fill="#ffffff"/>
<rect x="406.43" y="160.65" width="0.90" height="0.90" fill="#ffffff"/>
<rect x="405.27" y="167.13" width="0.90" height="0.90" fill="#ffffff"/>
<rect x="414.59" y="165.69" width="0.90" height="0.90" fill="#ffffff"/>
<rect x="403.91" y="172.05" width="0.90" height="0.90" fill="#ffffff"/>
<rect x="399.92" y="163.08" width="0.90" height="0.90" fill="#ffffff"/>
<rect x="409.45" y="158.63" width="0.90" height="0.90" fill="#ffffff"/>
<rect x="402.77" y="160.23" width="0.90" height="0.90" fill="#ffffff"/>
<rect x="409.88" y="167.16" width="0.90" height="0.90" fill="#ffffff"/>
<path d="M403.22,163.34 L406.64,161.06 L409.68,162.96 L410.06,167.90 L407.78,172.08 L403.22,172.84 L401.70,167.90Z" fill="#e0e0e0" fill-opacity="0.85"/>
<rect x="405.37" y="167.23" width="0.80" height="0.80" fill="#8c8c8c"/>
<rect x="402.64" y="167.43" width="0.80" height="0.80" fill="#8c8c8c"/>
<rect x="402.50" y="167.14" width="0.80" height="0.80" fill="#8c8c8c"/>
<rect x="407.68" y="164.09" width="0.80" height="0.80" fill="#8c8c8c"/>
<rect x="409.18" y="166.49" width="0.80" height="0.80" fill="#8c8c8c"/>
<rect x="407.58" y="165.82" width="0.80" height="0.80" fill="#8c8c8c"/>
<rect x="406.49" y="162.77" width="0.80" height="0.80" fill="#8c8c8c"/>
<rect x="406.68" y="171.45" width="0.80" height="0.80" fill="#8c8c8c"/>
<rect x="403.21" y="167.07" width="0.90" height="0.90" fill="#ffffff"/>
<rect x="405.73" y="165.83" width="0.90" height="0.90" fill="#ffffff"/>
<rect x="407.64" y="172.09" width="0.90" height="0.90" fill="#ffffff"/>
<rect x="407.60" y="166.63" width="0.90" height="0.90" fill="#ffffff"/>
<rect x="409.74" y="164.96" width="0.90" height="0.90" fill="#ffffff"/>
<rect x="407.93" y="168.82" width="0.90" height="0.90" fill="#ffffff"/>
<rect x="408.07" y="171.10" width="0.90" height="0.90" fill="#ffffff"/>
<rect x="403.58" y="168.38" width="0.90" height="0.90" fill="#ffffff"/>
<rect x="405.07" y="168.92" width="0.90" height="0.90" fill="#ffffff"/>
<rect x="407.65" y="171.46" width="0.90" height="0.90" fill="#ffffff"/>
<rect x="407.13" y="170.67" width="0.90" height="0.90" fill="#ffffff"/>
<rect x="407.80" y="168.20" width="0.90" height="0.90" fill="#ffffff"/>
<rect x="408.11" y="163.41" width="0.90" height="0.90" fill="#ffffff"/>
<rect x="407.92" y="167.97" width="0.90" height="0.90" fill="#ffffff"/>
<rect x="403.30" y="170.53" width="0.90" height="0.90" fill="#ffffff"/>
<rect x="402.85" y="168.27" width="0.90" height="0.90" fill="#ffffff"/>
<rect x="405.33" y="164.05" width="0.90" height="0.90" fill="#ffffff"/>
<rect x="406.43" y="166.56" width="0.90" height="0.90" fill="#ffffff"/>
<rect x="403.41" y="172.45" width="0.90" height="0.90" fill="#ffffff"/>
<rect x="405.76" y="170.92" width="0.90" height="0.90" fill="#ffffff"/>
<rect x="407.20" y="169.95" width="0.90" height="0.90" fill="#ffffff"/>
<rect x="405.75" y="169.01" width="0.90" height="0.90" fill="#ffffff"/>
<rect x="404.50" y="164.20" width="0.90" height="0.90" fill="#ffffff"/>
<rect x="402.37" y="169.94" width="0.90" height="0.90" fill="#ffffff"/>
<rect x="403.15" y="169.90" width="0.90" height="0.90" fill="#ffffff"/>
<rect x="408.26" y="165.82" width="0.90" height="0.90" fill="#ffffff"/>
<rect x="407.34" y="170.34" width="0.90" height="0.90" fill="#ffffff"/>
<path d="M391.06,173.22 L395.62,172.08 L401.70,172.46 L407.78,171.70 L411.58,173.22 L413.10,177.02 L412.34,181.58 L410.82,186.14 L407.78,189.18 L403.22,190.70 L399.42,191.61 L395.62,190.32 L391.06,188.42 L388.40,185.38 L388.02,181.58 L389.16,177.02Z" fill="#e0e0e0" fill-opacity="0.85"/>
<rect x="409.69" y="174.39" width="0.80" height="0.80" fill="#8c8c8c"/>
<rect x="392.10" y="179.30" width="0.80" height="0.80" fill="#8c8c8c"/>
<rect x="399.67" y="177.57" width="0.80" height="0.80" fill="#8c8c8c"/>
<rect x="388.28" y="182.80" width="0.80" height="0.80" fill="#8c8c8c"/>
<rect x="412.27" y="179.00" width="0.80" height="0.80" fill="#8c8c8c"/>
<rect x="401.51" y="179.31" width="0.80" height="0.80" fill="#8c8c8c"/>
<rect x="399.13" y="189.03" width="0.80" height="0.80" fill="#8c8c8c"/>
<rect x="395.76" y="184.62" width="0.80" height="0.80" fill="#8c8c8c"/>
<rect x="400.15" y="182.42" width="0.80" height="0.80" fill="#8c8c8c"/>
<rect x="410.96" y="173.23" width="0.80" height="0.80" fill="#8c8c8c"/>
<rect x="408.70" y="177.76" width="0.80" height="0.80" fill="#8c8c8c"/>
<rect x="404.23" y="187.55" width="0.80" height="0.80" fill="#8c8c8c"/>
<rect x="404.41" y="179.52" width="0.80" height="0.80" fill="#8c8c8c"/>
<rect x="409.10" y="173.55" width="0.80" height="0.80" fill="#8c8c8c"/>
<rect x="403.90" y="179.49" width="0.80" height="0.80" fill="#8c8c8c"/>
<rect x="401.32" y="188.64" width="0.80" height="0.80" fill="#8c8c8c"/>
<rect x="408.03" y="184.22" width="0.80" height="0.80" fill="#8c8c8c"/>
<rect x="395.75" y="176.34" width="0.80" height="0.80" fill="#8c8c8c"/>
<rect x="399.50" y="176.32" width="0.80" height="0.80" fill="#8c8c8c"/>
<rect x="390.83" y="188.00" width="0.80" height="0.80" fill="#8c8c8c"/>
<rect x="397.53" y="178.96" width="0.80" height="0.80" fill="#8c8c8c"/>
<rect x="396.01" y="173.24" width="0.80" height="0.80" fill="#8c8c8c"/>
<rect x="399.49" y="175.02" width="0.80" height="0.80" fill="#8c8c8c"/>
<rect x="399.11" y="177.51" width="0.80" height="0.80" fill="#8c8c8c"/>
<rect x="399.11" y="184.44" width="0.80" height="0.80" fill="#8c8c8c"/>
<rect x="411.34" y="178.20" width="0.80" height="0.80" fill="#8c8c8c"/>
<rect x="390.52" y="176.44" width="0.80" height="0.80" fill="#8c8c8c"/>
<rect x="392.77" y="185.21" width="0.80" height="0.80" fill="#8c8c8c"/>
<rect x="397.39" y="178.79" width="0.80" height="0.80" fill="#8c8c8c"/>
<rect x="407.96" y="176.34" width="0.80" height="0.80" fill="#8c8c8c"/>
<rect x="408.30" y="184.30" width="0.80" height="0.80" fill="#8c8c8c"/>
<rect x="398.06" y="188.10" width="0.80" height="0.80" fill="#8c8c8c"/>
<rect x="396.60" y="189.19" width="0.80" height="0.80" fill="#8c8c8c"/>
<rect x="411.24" y="181.71" width="0.80" height="0.80" fill="#8c8c8c"/>
<rect x="406.64" y="186.65" width="0.80" height="0.80" fill="#8c8c8c"/>
<rect x="395.33" y="184.09" width="0.80" height="0.80" fill="#8c8c8c"/>
<rect x="404.84" y="179.02" width="0.80" height="0.80" fill="#8c8c8c"/>
<rect x="397.93" y="175.18" width="0.80" height="0.80" fill="#8c8c8c"/>
<rect x="412.04" y="178.75" width="0.80" height="0.80" fill="#8c8c8c"/>
<rect x="399.97" y="189.49" width="0.80" height="0.80" fill="#8c8c8c"/>
<rect x="396.82" y="178.85" width="0.80" height="0.80" fill="#8c8c8c"/>
<rect x="407.12" y="180.39" width="0.80" height="0.80" fill="#8c8c8c"/>
<rect x="401.63" y="176.41" width="0.80" height="0.80" fill="#8c8c8c"/>
<rect x="408.92" y="179.46" width="0.80" height="0.80" fill="#8c8c8c"/>
<rect x="395.16" y="184.40" width="0.80" height="0.80" fill="#8c8c8c"/>
<rect x="391.80" y="178.00" width="0.80" height="0.80" fill="#8c8c8c"/>
<rect x="411.25" y="173.59" width="0.80" height="0.80" fill="#8c8c8c"/>
<rect x="391.59" y="175.77" width="0.80" height="0.80" fill="#8c8c8c"/>
<rect x="394.31" y="180.07" width="0.80" height="0.80" fill="#8c8c8c"/>
<rect x="394.29" y="178.52" width="0.80" height="0.80" fill="#8c8c8c"/>
<rect x="394.20" y="176.48" width="0.80" height="0.80" fill="#8c8c8c"/>
<rect x="403.33" y="178.40" width="0.90" height="0.90" fill="#ffffff"/>
<rect x="397.37" y="186.99" width="0.90" height="0.90" fill="#ffffff"/>
<rect x="409.36" y="180.26" width="0.90" height="0.90" fill="#ffffff"/>
<rect x="407.55" y="174.34" width="0.90" height="0.90" fill="#ffffff"/>
<rect x="401.14" y="188.53" width="0.90" height="0.90" fill="#ffffff"/>
<rect x="396.50" y="187.00" width="0.90" height="0.90" fill="#ffffff"/>
<rect x="403.33" y="179.56" width="0.90" height="0.90" fill="#ffffff"/>
<rect x="399.90" y="184.04" width="0.90" height="0.90" fill="#ffffff"/>
<rect x="395.97" y="188.38" width="0.90" height="0.90" fill="#ffffff"/>
<rect x="403.01" y="183.41" width="0.90" height="0.90" fill="#ffffff"/>
<rect x="399.42" y="179.90" width="0.90" height="0.90" fill="#ffffff"/>
<rect x="401.18" y="172.62" width="0.90" height="0.90" fill="#ffffff"/>
<rect x="405.07" y="189.92" width="0.90" height="0.90" fill="#ffffff"/>
<rect x="389.96" y="177.79" width="0.90" height="0.90" fill="#ffffff"/>
<rect x="408.03" y="171.88" width="0.90" height="0.90" fill="#ffffff"/>
<rect x="390.68" y="178.68" width="0.90" height="0.90" fill="#ffffff"/>
<rect x="392.36" y="174.62" width="0.90" height="0.90" fill="#ffffff"/>
<rect x="404.82" y="173.53" width="0.90" height="0.90" fill="#ffffff"/>
<rect x="394.08" y="181.29" width="0.90" height="0.90" fill="#ffffff"/>
<rect x="402.03" y="174.46" width="0.90" height="0.90" fill="#ffffff"/>
<rect x="400.61" y="172.90" width="0.90" height="0.90" fill="#ffffff"/>
<rect x="408.64" y="182.11" width="0.90" height="0.90" fill="#ffffff"/>
<rect x="405.12" y="189.13" width="0.90" height="0.90" fill="#ffffff"/>
<rect x="391.53" y="181.50" width="0.90" height="0.90" fill="#ffffff"/>
<rect x="391.32" y="174.02" width="0.90" height="0.90" fill="#ffffff"/>
<rect x="390.73" y="175.92" width="0.90" height="0.90" fill="#ffffff"/>
<rect x="397.53" y="184.10" width="0.90" height="0.90" fill="#ffffff"/>
<rect x="406.02" y="181.80" width="0.90" height="0.90" fill="#ffffff"/>
<rect x="411.02" y="174.95" width="0.90" height="0.90" fill="#ffffff"/>
<rect x="403.75" y="175.89" width="0.90" height="0.90" fill="#ffffff"/>
<rect x="397.48" y="177.62" width="0.90" height="0.90" fill="#ffffff"/>
<rect x="398.83" y="180.22" width="0.90" height="0.90" fill="#ffffff"/>
<rect x="398.01" y="187.58" width="0.90" height="0.90" fill="#ffffff"/>
<rect x="408.37" y="182.90" width="0.90" height="0.90" fill="#ffffff"/>
<rect x="399.88" y="177.36" width="0.90" height="0.90" fill="#ffffff"/>
<rect x="393.77" y="185.70" width="0.90" height="0.90" fill="#ffffff"/>
<rect x="405.55" y="184.81" width="0.90" height="0.90" fill="#ffffff"/>
<rect x="388.79" y="182.69" width="0.90" height="0.90" fill="#ffffff"/>
<rect x="393.09" y="175.57" width="0.90" height="0.90" fill="#ffffff"/>
<rect x="402.56" y="184.55" width="0.90" height="0.90" fill="#ffffff"/>
<rect x="403.71" y="186.48" width="0.90" height="0.90" fill="#ffffff"/>
<rect x="405.64" y="181.16" width="0.90" height="0.90" fill="#ffffff"/>
<rect x="403.02" y="172.46" width="0.90" height="0.90" fill="#ffffff"/>
<rect x="392.93" y="173.86" width="0.90" height="0.90" fill="#ffffff"/>
<rect x="403.97" y="182.54" width="0.90" height="0.90" fill="#ffffff"/>
<rect x="399.65" y="177.51" width="0.90" height="0.90" fill="#ffffff"/>
<rect x="393.26" y="188.11" width="0.90" height="0.90" fill="#ffffff"/>
<rect x="405.60" y="177.22" width="0.90" height="0.90" fill="#ffffff"/>
<rect x="410.65" y="183.03" width="0.90" height="0.90" fill="#ffffff"/>
<rect x="398.37" y="179.97" width="0.90" height="0.90" fill="#ffffff"/>
<rect x="406.09" y="180.77" width="0.90" height="0.90" fill="#ffffff"/>
<rect x="404.55" y="174.13" width="0.90" height="0.90" fill="#ffffff"/>
<rect x="405.63" y="177.12" width="0.90" height="0.90" fill="#ffffff"/>
<rect x="410.85" y="175.97" width="0.90" height="0.90" fill="#ffffff"/>
<rect x="396.38" y="182.41" width="0.90" height="0.90" fill="#ffffff"/>
<rect x="397.86" y="182.16" width="0.90" height="0.90" fill="#ffffff"/>
<rect x="411.19" y="175.71" width="0.90" height="0.90" fill="#ffffff"/>
<rect x="407.39" y="185.50" width="0.90" height="0.90" fill="#ffffff"/>
<rect x="407.74" y="180.61" width="0.90" height="0.90" fill="#ffffff"/>
<rect x="399.42" y="178.59" width="0.90" height="0.90" fill="#ffffff"/>
<rect x="399.89" y="176.77" width="0.90" height="0.90" fill="#ffffff"/>
<rect x="392.81" y="181.18" width="0.90" height="0.90" fill="#ffffff"/>
<rect x="392.84" y="181.05" width="0.90" height="0.90" fill="#ffffff"/>
<rect x="402.40" y="177.86" width="0.90" height="0.90" fill="#ffffff"/>
<rect x="392.29" y="183.75" width="0.90" height="0.90" fill="#ffffff"/>
<rect x="409.59" y="176.13" width="0.90" height="0.90" fill="#ffffff"/>
<rect x="403.46" y="184.82" width="0.90" height="0.90" fill="#ffffff"/>
<rect x="410.21" y="185.28" width="0.90" height="0.90" fill="#ffffff"/>
<rect x="395.74" y="175.83" width="0.90" height="0.90" fill="#ffffff"/>
<rect x="409.01" y="177.66" width="0.90" height="0.90" fill="#ffffff"/>
<rect x="392.98" y="177.93" width="0.90" height="0.90" fill="#ffffff"/>
<rect x="396.02" y="176.80" width="0.90" height="0.90" fill="#ffffff"/>
<rect x="406.18" y="178.53" width="0.90" height="0.90" fill="#ffffff"/>
<rect x="399.07" y="180.05" width="0.90" height="0.90" fill="#ffffff"/>
<rect x="402.56" y="174.33" width="0.90" height="0.90" fill="#ffffff"/>
<rect x="391.80" y="183.78" width="0.90" height="0.90" fill="#ffffff"/>
<rect x="397.44" y="172.99" width="0.90" height="0.90" fill="#ffffff"/>
<rect x="402.77" y="189.91" width="0.90" height="0.90" fill="#ffffff"/>
<rect x="404.20" y="181.57" width="0.90" height="0.90" fill="#ffffff"/>
<rect x="391.81" y="177.66" width="0.90" height="0.90" fill="#ffffff"/>
<rect x="393.11" y="185.71" width="0.90" height="0.90" fill="#ffffff"/>
<rect x="409.95" y="183.47" width="0.90" height="0.90" fill="#ffffff"/>
<rect x="405.63" y="182.13" width="0.90" height="0.90" fill="#ffffff"/>
<rect x="393.91" y="175.94" width="0.90" height="0.90" fill="#ffffff"/>
<rect x="389.57" y="184.95" width="0.90" height="0.90" fill="#ffffff"/>
<rect x="391.49" y="184.07" width="0.90" height="0.90" fill="#ffffff"/>
<rect x="397.83" y="180.38" width="0.90" height="0.90" fill="#ffffff"/>
<rect x="412.36" y="179.50" width="0.90" height="0.90" fill="#ffffff"/>
<rect x="399.93" y="179.27" width="0.90" height="0.90" fill="#ffffff"/>
<rect x="393.42" y="176.16" width="0.90" height="0.90" fill="#ffffff"/>
<rect x="401.38" y="187.98" width="0.90" height="0.90" fill="#ffffff"/>
<rect x="404.94" y="172.77" width="0.90" height="0.90" fill="#ffffff"/>
<rect x="405.75" y="179.70" width="0.90" height="0.90" fill="#ffffff"/>
<rect x="400.93" y="173.71" width="0.90" height="0.90" fill="#ffffff"/>
<rect x="400.82" y="182.05" width="0.90" height="0.90" fill="#ffffff"/>
<rect x="407.64" y="183.27" width="0.90" height="0.90" fill="#ffffff"/>
<rect x="405.70" y="186.33" width="0.90" height="0.90" fill="#ffffff"/>
<rect x="400.02" y="174.28" width="0.90" height="0.90" fill="#ffffff"/>
<rect x="391.58" y="178.11" width="0.90" height="0.90" fill="#ffffff"/>
<rect x="401.51" y="183.96" width="0.90" height="0.90" fill="#ffffff"/>
<rect x="390.58" y="182.81" width="0.90" height="0.90" fill="#ffffff"/>
<rect x="390.19" y="185.04" width="0.90" height="0.90" fill="#ffffff"/>
<rect x="398.99" y="174.49" width="0.90" height="0.90" fill="#ffffff"/>
<rect x="395.81" y="184.85" width="0.90" height="0.90" fill="#ffffff"/>
<rect x="399.89" y="190.50" width="0.90" height="0.90" fill="#ffffff"/>
<rect x="396.93" y="178.47" width="0.90" height="0.90" fill="#ffffff"/>
<rect x="411.16" y="183.77" width="0.90" height="0.90" fill="#ffffff"/>
<rect x="390.70" y="187.32" width="0.90" height="0.90" fill="#ffffff"/>
<rect x="397.13" y="190.57" width="0.90" height="0.90" fill="#ffffff"/>
<rect x="403.97" y="187.73" width="0.90" height="0.90" fill="#ffffff"/>
<rect x="410.49" y="181.84" width="0.90" height="0.90" fill="#ffffff"/>
<rect x="396.56" y="188.38" width="0.90" height="0.90" fill="#ffffff"/>
<rect x="409.64" y="173.23" width="0.90" height="0.90" fill="#ffffff"/>
<rect x="401.57" y="183.84" width="0.90" height="0.90" fill="#ffffff"/>
<rect x="398.94" y="180.05" width="0.90" height="0.90" fill="#ffffff"/>
<rect x="407.85" y="174.94" width="0.90" height="0.90" fill="#ffffff"/>
<rect x="389.15" y="183.51" width="0.90" height="0.90" fill="#ffffff"/>
<rect x="404.90" y="177.57" width="0.90" height="0.90" fill="#ffffff"/>
<rect x="394.21" y="187.39" width="0.90" height="0.90" fill="#ffffff"/>
<rect x="410.46" y="179.72" width="0.90" height="0.90" fill="#ffffff"/>
<rect x="410.82" y="173.91" width="0.90" height="0.90" fill="#ffffff"/>
<rect x="402.99" y="173.05" width="0.90" height="0.90" fill="#ffffff"/>
<rect x="393.87" y="175.48" width="0.90" height="0.90" fill="#ffffff"/>
<rect x="400.57" y="177.30" width="0.90" height="0.90" fill="#ffffff"/>
<rect x="404.36" y="172.74" width="0.90" height="0.90" fill="#ffffff"/>
<rect x="401.00" y="182.21" width="0.90" height="0.90" fill="#ffffff"/>
<rect x="398.13" y="189.92" width="0.90" height="0.90" fill="#ffffff"/>
<rect x="391.20" y="180.20" width="0.90" height="0.90" fill="#ffffff"/>
<rect x="399.55" y="179.12" width="0.90" height="0.90" fill="#ffffff"/>
<rect x="400.97" y="180.46" width="0.90" height="0.90" fill="#ffffff"/>
<rect x="398.99" y="190.64" width="0.90" height="0.90" fill="#ffffff"/>
<rect x="408.06" y="184.59" width="0.90" height="0.90" fill="#ffffff"/>
<rect x="392.09" y="183.54" width="0.90" height="0.90" fill="#ffffff"/>
<rect x="391.23" y="178.69" width="0.90" height="0.90" fill="#ffffff"/>
<rect x="402.31" y="176.69" width="0.90" height="0.90" fill="#ffffff"/>
<rect x="399.11" y="180.95" width="0.90" height="0.90" fill="#ffffff"/>
<rect x="398.63" y="177.06" width="0.90" height="0.90" fill="#ffffff"/>
<rect x="393.52" y="186.65" width="0.90" height="0.90" fill="#ffffff"/>
<rect x="403.61" y="172.26" width="0.90" height="0.90" fill="#ffffff"/>
<rect x="395.60" y="188.43" width="0.90" height="0.90" fill="#ffffff"/>
<path d="M393.34,181.58 L397.90,179.30 L402.46,180.82 L403.98,185.38 L401.70,189.56 L396.38,190.32 L392.58,186.90Z" fill="#e0e0e0" fill-opacity="0.85"/>
<rect x="403.67" y="185.34" width="0.80" height="0.80" fill="#8c8c8c"/>
<rect x="399.07" y="186.86" width="0.80" height="0.80" fill="#8c8c8c"/>
<rect x="395.40" y="187.15" width="0.80" height="0.80" fill="#8c8c8c"/>
<rect x="396.74" y="188.63" width="0.80" height="0.80" fill="#8c8c8c"/>
<rect x="397.84" y="186.61" width="0.80" height="0.80" fill="#8c8c8c"/>
<rect x="398.92" y="185.19" width="0.80" height="0.80" fill="#8c8c8c"/>
<rect x="397.83" y="189.79" width="0.80" height="0.80" fill="#8c8c8c"/>
<rect x="401.18" y="183.93" width="0.80" height="0.80" fill="#8c8c8c"/>
<rect x="398.34" y="189.19" width="0.80" height="0.80" fill="#8c8c8c"/>
<rect x="401.10" y="186.50" width="0.80" height="0.80" fill="#8c8c8c"/>
<rect x="399.40" y="186.18" width="0.80" height="0.80" fill="#8c8c8c"/>
<rect x="397.76" y="189.91" width="0.80" height="0.80" fill="#8c8c8c"/>
<rect x="399.61" y="187.74" width="0.80" height="0.80" fill="#8c8c8c"/>
<rect x="400.52" y="183.30" width="0.90" height="0.90" fill="#ffffff"/>
<rect x="401.68" y="183.14" width="0.90" height="0.90" fill="#ffffff"/>
<rect x="394.25" y="186.62" width="0.90" height="0.90" fill="#ffffff"/>
<rect x="399.98" y="183.80" width="0.90" height="0.90" fill="#ffffff"/>
<rect x="401.79" y="183.79" width="0.90" height="0.90" fill="#ffffff"/>
<rect x="402.97" y="185.59" width="0.90" height="0.90" fill="#ffffff"/>
<rect x="397.20" y="186.43" width="0.90" height="0.90" fill="#ffffff"/>
<rect x="401.51" y="189.18" width="0.90" height="0.90" fill="#ffffff"/>
<rect x="400.22" y="186.65" width="0.90" height="0.90" fill="#ffffff"/>
<rect x="397.15" y="179.74" width="0.90" height="0.90" fill="#ffffff"/>
<rect x="397.76" y="180.56" width="0.90" height="0.90" fill="#ffffff"/>
<rect x="399.48" y="187.38" width="0.90" height="0.90" fill="#ffffff"/>
<rect x="394.62" y="188.49" width="0.90" height="0.90" fill="#ffffff"/>
<rect x="396.29" y="180.19" width="0.90" height="0.90" fill="#ffffff"/>
<rect x="399.42" y="183.73" width="0.90" height="0.90" fill="#ffffff"/>
<rect x="403.06" y="184.20" width="0.90" height="0.90" fill="#ffffff"/>
<rect x="392.93" y="184.74" width="0.90" height="0.90" fill="#ffffff"/>
<rect x="396.34" y="184.57" width="0.90" height="0.90" fill="#ffffff"/>
<rect x="402.56" y="186.34" width="0.90" height="0.90" fill="#ffffff"/>
<rect x="399.14" y="181.76" width="0.90" height="0.90" fill="#ffffff"/>
<rect x="399.56" y="181.13" width="0.90" height="0.90" fill="#ffffff"/>
<rect x="396.04" y="188.45" width="0.90" height="0.90" fill="#ffffff"/>
<rect x="399.06" y="187.30" width="0.90" height="0.90" fill="#ffffff"/>
<rect x="397.89" y="182.38" width="0.90" height="0.90" fill="#ffffff"/>
<rect x="398.32" y="185.62" width="0.90" height="0.90" fill="#ffffff"/>
<rect x="395.34" y="188.62" width="0.90" height="0.90" fill="#ffffff"/>
<rect x="395.34" y="188.24" width="0.90" height="0.90" fill="#ffffff"/>
<rect x="400.81" y="181.78" width="0.90" height="0.90" fill="#ffffff"/>
<rect x="399.26" y="181.92" width="0.90" height="0.90" fill="#ffffff"/>
<rect x="402.42" y="185.77" width="0.90" height="0.90" fill="#ffffff"/>
<rect x="398.40" y="181.08" width="0.90" height="0.90" fill="#ffffff"/>
<rect x="397.21" y="184.51" width="0.90" height="0.90" fill="#ffffff"/>
<rect x="396.70" y="181.28" width="0.90" height="0.90" fill="#ffffff"/>
<rect x="394.84" y="187.02" width="0.90" height="0.90" fill="#ffffff"/>
<rect x="399.59" y="188.02" width="0.90" height="0.90" fill="#ffffff"/>
<rect x="394.10" y="181.61" width="0.90" height="0.90" fill="#ffffff"/>
<path d="M388.25,181.58 L390.68,179.68 L393.34,182.72 L392.96,187.28 L389.54,187.28Z" fill="#3f8ad0" stroke="#3f8ad0" stroke-width="1.2"/>
<rect x="389.25" y="181.09" width="0.90" height="0.90" fill="#ffffff"/>
<rect x="390.26" y="186.04" width="0.90" height="0.90" fill="#ffffff"/>
<path d="M412.34,178.54 L416.90,177.17 L421.08,178.92 L424.88,181.58 L422.98,183.86 L418.42,184.24 L413.10,183.86Z" fill="#e0e0e0" fill-opacity="0.85"/>
<rect x="416.16" y="181.21" width="0.80" height="0.80" fill="#8c8c8c"/>
<rect x="418.27" y="178.03" width="0.80" height="0.80" fill="#8c8c8c"/>
<rect x="422.43" y="183.38" width="0.80" height="0.80" fill="#8c8c8c"/>
<rect x="418.03" y="183.96" width="0.80" height="0.80" fill="#8c8c8c"/>
<rect x="422.47" y="180.89" width="0.80" height="0.80" fill="#8c8c8c"/>
<rect x="414.95" y="180.12" width="0.90" height="0.90" fill="#ffffff"/>
<rect x="413.92" y="181.32" width="0.90" height="0.90" fill="#ffffff"/>
<rect x="418.16" y="178.57" width="0.90" height="0.90" fill="#ffffff"/>
<rect x="412.83" y="179.56" width="0.90" height="0.90" fill="#ffffff"/>
<rect x="415.20" y="181.54" width="0.90" height="0.90" fill="#ffffff"/>
<rect x="420.30" y="182.86" width="0.90" height="0.90" fill="#ffffff"/>
<rect x="420.43" y="183.18" width="0.90" height="0.90" fill="#ffffff"/>
<rect x="414.29" y="183.69" width="0.90" height="0.90" fill="#ffffff"/>
<rect x="413.64" y="182.65" width="0.90" height="0.90" fill="#ffffff"/>
<rect x="418.67" y="183.68" width="0.90" height="0.90" fill="#ffffff"/>
<rect x="420.04" y="179.66" width="0.90" height="0.90" fill="#ffffff"/>
<rect x="414.80" y="181.08" width="0.90" height="0.90" fill="#ffffff"/>
<rect x="420.35" y="182.26" width="0.90" height="0.90" fill="#ffffff"/>
<rect x="423.14" y="182.50" width="0.90" height="0.90" fill="#ffffff"/>
<rect x="414.06" y="182.39" width="0.90" height="0.90" fill="#ffffff"/>
<rect x="418.37" y="179.26" width="0.90" height="0.90" fill="#ffffff"/>
<rect x="413.14" y="181.59" width="0.90" height="0.90" fill="#ffffff"/>
<rect x="422.63" y="183.52" width="0.90" height="0.90" fill="#ffffff"/>
<rect x="416.76" y="183.15" width="0.90" height="0.90" fill="#ffffff"/>
<rect x="414.29" y="179.30" width="0.90" height="0.90" fill="#ffffff"/>
<rect x="419.44" y="183.39" width="0.90" height="0.90" fill="#ffffff"/>
<rect x="424.00" y="181.21" width="0.90" height="0.90" fill="#ffffff"/>
<path d="M416.14,180.82 L419.94,180.06 L422.22,182.72 L418.42,183.86Z" fill="#e0e0e0" fill-opacity="0.85"/>
<rect x="417.28" y="181.72" width="0.80" height="0.80" fill="#8c8c8c"/>
<rect x="418.64" y="182.56" width="0.90" height="0.90" fill="#ffffff"/>
<rect x="421.77" y="182.54" width="0.90" height="0.90" fill="#ffffff"/>
<rect x="418.24" y="180.76" width="0.90" height="0.90" fill="#ffffff"/>
<rect x="421.95" y="182.56" width="0.90" height="0.90" fill="#ffffff"/>
<rect x="418.44" y="181.66" width="0.90" height="0.90" fill="#ffffff"/>
<path d="M433.62,166.38 L435.52,166.08 L437.04,166.76 L436.66,169.04 L434.00,169.27Z" fill="#3f98d8" stroke="#3f98d8" stroke-width="0"/>
<rect x="434.54" y="167.80" width="0.90" height="0.90" fill="#ffffff"/>
<path d="M431.72,168.96 L435.14,168.51 L438.94,168.81 L440.84,170.94 L440.46,174.74 L438.18,176.64 L434.38,177.78 L430.96,177.40 L429.82,174.74 L430.96,171.70Z" fill="#3f98d8" stroke="#3f98d8" stroke-width="0"/>
<rect x="439.01" y="175.19" width="0.90" height="0.90" fill="#ffffff"/>
<rect x="431.77" y="174.64" width="0.90" height="0.90" fill="#ffffff"/>
<rect x="436.66" y="175.09" width="0.90" height="0.90" fill="#ffffff"/>
<rect x="435.74" y="171.42" width="0.90" height="0.90" fill="#ffffff"/>
<rect x="435.36" y="170.71" width="0.90" height="0.90" fill="#ffffff"/>
<rect x="434.84" y="172.27" width="0.90" height="0.90" fill="#ffffff"/>
<rect x="433.62" y="172.16" width="0.90" height="0.90" fill="#ffffff"/>
<rect x="436.03" y="175.43" width="0.90" height="0.90" fill="#ffffff"/>
<rect x="432.67" y="173.65" width="0.90" height="0.90" fill="#ffffff"/>
<rect x="433.54" y="170.61" width="0.90" height="0.90" fill="#ffffff"/>
<rect x="431.36" y="177.41" width="0.90" height="0.90" fill="#ffffff"/>
<rect x="431.71" y="169.91" width="0.90" height="0.90" fill="#ffffff"/>
<path d="M435.90,174.74 L438.94,174.21 L441.22,175.50 L440.84,179.30 L438.18,181.58 L436.28,180.06 L435.52,177.02Z" fill="#3f98d8" stroke="#3f98d8" stroke-width="0"/>
<rect x="436.11" y="176.42" width="0.90" height="0.90" fill="#ffffff"/>
<rect x="437.93" y="179.29" width="0.90" height="0.90" fill="#ffffff"/>
<rect x="440.27" y="175.61" width="0.90" height="0.90" fill="#ffffff"/>
<rect x="437.69" y="176.52" width="0.90" height="0.90" fill="#ffffff"/>
<path d="M429.97,196.40 L431.34,195.11 L433.62,194.80 L436.36,194.65 L435.52,196.40 L433.62,198.00 L430.96,197.92Z" fill="#e0e0e0" fill-opacity="0.85"/>
<rect x="430.96" y="195.55" width="0.80" height="0.80" fill="#8c8c8c"/>
<rect x="431.67" y="195.51" width="0.80" height="0.80" fill="#8c8c8c"/>
<rect x="431.46" y="196.38" width="0.90" height="0.90" fill="#ffffff"/>
<rect x="435.16" y="195.69" width="0.90" height="0.90" fill="#ffffff"/>
<rect x="432.63" y="196.27" width="0.90" height="0.90" fill="#ffffff"/>
<rect x="435.11" y="195.64" width="0.90" height="0.90" fill="#ffffff"/>
<rect x="433.65" y="196.41" width="0.90" height="0.90" fill="#ffffff"/>
<path d="M408.16,213.50 L410.06,211.60 L413.10,210.84 L416.14,210.61 L417.36,212.36 L416.90,215.02 L414.62,216.92 L410.82,217.15 L408.54,215.78Z" fill="#5a84c4" stroke="#5a84c4" stroke-width="0"/>
<rect x="413.45" y="212.72" width="0.90" height="0.90" fill="#ffffff"/>
<rect x="412.39" y="211.20" width="0.90" height="0.90" fill="#ffffff"/>
<rect x="415.87" y="213.89" width="0.90" height="0.90" fill="#ffffff"/>
<rect x="412.48" y="214.79" width="0.90" height="0.90" fill="#ffffff"/>
<rect x="415.65" y="215.41" width="0.90" height="0.90" fill="#ffffff"/>
<path d="M419.18,184.24 L426.63,185.00" fill="none" stroke="#9aa8c0" stroke-width="0.9"/>
<path d="M465.64,163.34 L466.40,159.54 L469.44,157.26 L474.00,156.65 L478.56,157.11 L482.36,159.16 L484.34,162.58 L484.64,167.14 L483.12,170.18 L479.32,169.80 L476.28,171.32 L472.48,172.08 L468.68,170.56 L465.64,168.28Z" fill="#e0e0e0" fill-opacity="0.85"/>
<rect x="470.16" y="165.05" width="0.80" height="0.80" fill="#8c8c8c"/>
<rect x="472.67" y="165.97" width="0.80" height="0.80" fill="#8c8c8c"/>
<rect x="477.53" y="157.66" width="0.80" height="0.80" fill="#8c8c8c"/>
<rect x="470.57" y="160.27" width="0.80" height="0.80" fill="#8c8c8c"/>
<rect x="481.53" y="164.00" width="0.80" height="0.80" fill="#8c8c8c"/>
<rect x="477.78" y="158.98" width="0.80" height="0.80" fill="#8c8c8c"/>
<rect x="477.70" y="170.04" width="0.80" height="0.80" fill="#8c8c8c"/>
<rect x="475.58" y="168.09" width="0.80" height="0.80" fill="#8c8c8c"/>
<rect x="478.40" y="157.64" width="0.80" height="0.80" fill="#8c8c8c"/>
<rect x="480.05" y="165.77" width="0.80" height="0.80" fill="#8c8c8c"/>
<rect x="471.36" y="157.13" width="0.80" height="0.80" fill="#8c8c8c"/>
<rect x="482.09" y="163.95" width="0.80" height="0.80" fill="#8c8c8c"/>
<rect x="473.14" y="169.01" width="0.80" height="0.80" fill="#8c8c8c"/>
<rect x="474.09" y="171.09" width="0.80" height="0.80" fill="#8c8c8c"/>
<rect x="468.22" y="160.00" width="0.80" height="0.80" fill="#8c8c8c"/>
<rect x="483.98" y="163.38" width="0.80" height="0.80" fill="#8c8c8c"/>
<rect x="477.55" y="161.30" width="0.80" height="0.80" fill="#8c8c8c"/>
<rect x="475.28" y="162.61" width="0.80" height="0.80" fill="#8c8c8c"/>
<rect x="472.31" y="165.68" width="0.80" height="0.80" fill="#8c8c8c"/>
<rect x="476.74" y="170.60" width="0.80" height="0.80" fill="#8c8c8c"/>
<rect x="478.39" y="159.17" width="0.80" height="0.80" fill="#8c8c8c"/>
<rect x="482.83" y="165.43" width="0.80" height="0.80" fill="#8c8c8c"/>
<rect x="479.20" y="159.91" width="0.80" height="0.80" fill="#8c8c8c"/>
<rect x="481.44" y="165.50" width="0.80" height="0.80" fill="#8c8c8c"/>
<rect x="471.05" y="157.63" width="0.80" height="0.80" fill="#8c8c8c"/>
<rect x="467.32" y="169.00" width="0.80" height="0.80" fill="#8c8c8c"/>
<rect x="473.44" y="158.98" width="0.90" height="0.90" fill="#ffffff"/>
<rect x="471.22" y="168.51" width="0.90" height="0.90" fill="#ffffff"/>
<rect x="477.32" y="157.35" width="0.90" height="0.90" fill="#ffffff"/>
<rect x="479.29" y="161.76" width="0.90" height="0.90" fill="#ffffff"/>
<rect x="471.52" y="157.84" width="0.90" height="0.90" fill="#ffffff"/>
<rect x="477.04" y="157.14" width="0.90" height="0.90" fill="#ffffff"/>
<rect x="469.39" y="162.95" width="0.90" height="0.90" fill="#ffffff"/>
<rect x="477.24" y="159.06" width="0.90" height="0.90" fill="#ffffff"/>
<rect x="471.60" y="171.44" width="0.90" height="0.90" fill="#ffffff"/>
<rect x="482.68" y="162.48" width="0.90" height="0.90" fill="#ffffff"/>
<rect x="474.39" y="164.68" width="0.90" height="0.90" fill="#ffffff"/>
<rect x="477.87" y="165.84" width="0.90" height="0.90" fill="#ffffff"/>
<rect x="476.27" y="166.22" width="0.90" height="0.90" fill="#ffffff"/>
<rect x="483.51" y="164.47" width="0.90" height="0.90" fill="#ffffff"/>
<rect x="473.83" y="167.76" width="0.90" height="0.90" fill="#ffffff"/>
<rect x="470.16" y="161.30" width="0.90" height="0.90" fill="#ffffff"/>
<rect x="484.22" y="164.69" width="0.90" height="0.90" fill="#ffffff"/>
<rect x="473.53" y="165.60" width="0.90" height="0.90" fill="#ffffff"/>
<rect x="466.02" y="166.15" width="0.90" height="0.90" fill="#ffffff"/>
<rect x="477.65" y="157.58" width="0.90" height="0.90" fill="#ffffff"/>
<rect x="477.56" y="163.85" width="0.90" height="0.90" fill="#ffffff"/>
<rect x="478.55" y="162.09" width="0.90" height="0.90" fill="#ffffff"/>
<rect x="479.07" y="168.04" width="0.90" height="0.90" fill="#ffffff"/>
<rect x="470.41" y="163.69" width="0.90" height="0.90" fill="#ffffff"/>
<rect x="476.90" y="161.59" width="0.90" height="0.90" fill="#ffffff"/>
<rect x="472.56" y="161.48" width="0.90" height="0.90" fill="#ffffff"/>
<rect x="472.65" y="165.84" width="0.90" height="0.90" fill="#ffffff"/>
<rect x="471.35" y="162.47" width="0.90" height="0.90" fill="#ffffff"/>
<rect x="476.46" y="167.99" width="0.90" height="0.90" fill="#ffffff"/>
<rect x="471.53" y="160.09" width="0.90" height="0.90" fill="#ffffff"/>
<rect x="480.91" y="160.33" width="0.90" height="0.90" fill="#ffffff"/>
<rect x="469.20" y="163.37" width="0.90" height="0.90" fill="#ffffff"/>
<rect x="478.90" y="158.22" width="0.90" height="0.90" fill="#ffffff"/>
<rect x="471.76" y="161.80" width="0.90" height="0.90" fill="#ffffff"/>
<rect x="481.48" y="163.42" width="0.90" height="0.90" fill="#ffffff"/>
<rect x="481.90" y="159.26" width="0.90" height="0.90" fill="#ffffff"/>
<rect x="472.04" y="166.68" width="0.90" height="0.90" fill="#ffffff"/>
<rect x="482.45" y="163.61" width="0.90" height="0.90" fill="#ffffff"/>
<rect x="469.92" y="158.52" width="0.90" height="0.90" fill="#ffffff"/>
<rect x="475.70" y="159.60" width="0.90" height="0.90" fill="#ffffff"/>
<rect x="480.97" y="169.59" width="0.90" height="0.90" fill="#ffffff"/>
<rect x="469.13" y="160.95" width="0.90" height="0.90" fill="#ffffff"/>
<rect x="480.98" y="166.56" width="0.90" height="0.90" fill="#ffffff"/>
<rect x="480.96" y="161.98" width="0.90" height="0.90" fill="#ffffff"/>
<rect x="468.10" y="161.16" width="0.90" height="0.90" fill="#ffffff"/>
<rect x="480.72" y="160.84" width="0.90" height="0.90" fill="#ffffff"/>
<rect x="472.22" y="163.08" width="0.90" height="0.90" fill="#ffffff"/>
<rect x="473.62" y="162.97" width="0.90" height="0.90" fill="#ffffff"/>
<rect x="473.89" y="171.31" width="0.90" height="0.90" fill="#ffffff"/>
<rect x="479.80" y="169.56" width="0.90" height="0.90" fill="#ffffff"/>
<rect x="478.24" y="164.66" width="0.90" height="0.90" fill="#ffffff"/>
<rect x="471.13" y="161.91" width="0.90" height="0.90" fill="#ffffff"/>
<rect x="469.96" y="157.70" width="0.90" height="0.90" fill="#ffffff"/>
<rect x="476.82" y="161.08" width="0.90" height="0.90" fill="#ffffff"/>
<rect x="482.81" y="167.35" width="0.90" height="0.90" fill="#ffffff"/>
<rect x="482.73" y="165.55" width="0.90" height="0.90" fill="#ffffff"/>
<rect x="465.89" y="168.15" width="0.90" height="0.90" fill="#ffffff"/>
<rect x="468.90" y="161.28" width="0.90" height="0.90" fill="#ffffff"/>
<rect x="478.24" y="164.75" width="0.90" height="0.90" fill="#ffffff"/>
<rect x="473.50" y="171.14" width="0.90" height="0.90" fill="#ffffff"/>
<rect x="477.27" y="161.92" width="0.90" height="0.90" fill="#ffffff"/>
<rect x="470.44" y="169.95" width="0.90" height="0.90" fill="#ffffff"/>
<rect x="474.71" y="168.72" width="0.90" height="0.90" fill="#ffffff"/>
<rect x="472.32" y="159.70" width="0.90" height="0.90" fill="#ffffff"/>
<rect x="475.80" y="169.25" width="0.90" height="0.90" fill="#ffffff"/>
<rect x="468.89" y="168.87" width="0.90" height="0.90" fill="#ffffff"/>
<rect x="483.15" y="169.09" width="0.90" height="0.90" fill="#ffffff"/>
<rect x="477.58" y="169.96" width="0.90" height="0.90" fill="#ffffff"/>
<rect x="466.59" y="160.84" width="0.90" height="0.90" fill="#ffffff"/>
<rect x="470.74" y="164.79" width="0.90" height="0.90" fill="#ffffff"/>
<rect x="473.68" y="163.95" width="0.90" height="0.90" fill="#ffffff"/>
<rect x="467.28" y="164.40" width="0.90" height="0.90" fill="#ffffff"/>
<rect x="471.64" y="161.51" width="0.90" height="0.90" fill="#ffffff"/>
<rect x="472.31" y="166.63" width="0.90" height="0.90" fill="#ffffff"/>
<rect x="476.79" y="162.22" width="0.90" height="0.90" fill="#ffffff"/>
<rect x="469.27" y="161.72" width="0.90" height="0.90" fill="#ffffff"/>
<rect x="467.99" y="165.22" width="0.90" height="0.90" fill="#ffffff"/>
<rect x="479.24" y="162.52" width="0.90" height="0.90" fill="#ffffff"/>
<rect x="467.16" y="159.41" width="0.90" height="0.90" fill="#ffffff"/>
<rect x="472.73" y="165.98" width="0.90" height="0.90" fill="#ffffff"/>
<rect x="480.51" y="162.52" width="0.90" height="0.90" fill="#ffffff"/>
<rect x="480.86" y="166.26" width="0.90" height="0.90" fill="#ffffff"/>
<rect x="473.84" y="162.40" width="0.90" height="0.90" fill="#ffffff"/>
<path d="M471.72,163.34 L475.14,161.06 L478.18,162.96 L478.56,167.90 L476.28,172.08 L471.72,172.84 L470.20,167.90Z" fill="#e0e0e0" fill-opacity="0.85"/>
<rect x="474.35" y="169.34" width="0.80" height="0.80" fill="#8c8c8c"/>
<rect x="473.72" y="169.24" width="0.80" height="0.80" fill="#8c8c8c"/>
<rect x="474.05" y="163.95" width="0.80" height="0.80" fill="#8c8c8c"/>
<rect x="474.68" y="169.25" width="0.80" height="0.80" fill="#8c8c8c"/>
<rect x="473.76" y="171.42" width="0.80" height="0.80" fill="#8c8c8c"/>
<rect x="478.03" y="165.47" width="0.80" height="0.80" fill="#8c8c8c"/>
<rect x="472.39" y="166.53" width="0.80" height="0.80" fill="#8c8c8c"/>
<rect x="471.23" y="170.64" width="0.80" height="0.80" fill="#8c8c8c"/>
<rect x="475.74" y="171.51" width="0.80" height="0.80" fill="#8c8c8c"/>
<rect x="476.83" y="168.92" width="0.90" height="0.90" fill="#ffffff"/>
<rect x="476.33" y="167.70" width="0.90" height="0.90" fill="#ffffff"/>
<rect x="471.06" y="167.98" width="0.90" height="0.90" fill="#ffffff"/>
<rect x="477.56" y="163.17" width="0.90" height="0.90" fill="#ffffff"/>
<rect x="471.21" y="171.00" width="0.90" height="0.90" fill="#ffffff"/>
<rect x="475.83" y="170.91" width="0.90" height="0.90" fill="#ffffff"/>
<rect x="478.16" y="167.88" width="0.90" height="0.90" fill="#ffffff"/>
<rect x="476.62" y="167.08" width="0.90" height="0.90" fill="#ffffff"/>
<rect x="476.18" y="162.32" width="0.90" height="0.90" fill="#ffffff"/>
<rect x="474.91" y="170.81" width="0.90" height="0.90" fill="#ffffff"/>
<rect x="472.22" y="163.18" width="0.90" height="0.90" fill="#ffffff"/>
<rect x="472.29" y="168.32" width="0.90" height="0.90" fill="#ffffff"/>
<rect x="476.50" y="165.70" width="0.90" height="0.90" fill="#ffffff"/>
<rect x="473.27" y="165.73" width="0.90" height="0.90" fill="#ffffff"/>
<rect x="473.13" y="165.99" width="0.90" height="0.90" fill="#ffffff"/>
<rect x="470.90" y="166.95" width="0.90" height="0.90" fill="#ffffff"/>
<rect x="478.33" y="165.92" width="0.90" height="0.90" fill="#ffffff"/>
<rect x="476.45" y="162.95" width="0.90" height="0.90" fill="#ffffff"/>
<rect x="475.98" y="169.97" width="0.90" height="0.90" fill="#ffffff"/>
<rect x="475.83" y="167.15" width="0.90" height="0.90" fill="#ffffff"/>
<rect x="474.24" y="168.63" width="0.90" height="0.90" fill="#ffffff"/>
<rect x="477.70" y="162.82" width="0.90" height="0.90" fill="#ffffff"/>
<rect x="471.00" y="169.87" width="0.90" height="0.90" fill="#ffffff"/>
<rect x="477.86" y="167.15" width="0.90" height="0.90" fill="#ffffff"/>
<rect x="473.90" y="169.53" width="0.90" height="0.90" fill="#ffffff"/>
<rect x="471.76" y="164.21" width="0.90" height="0.90" fill="#ffffff"/>
<rect x="471.87" y="167.96" width="0.90" height="0.90" fill="#ffffff"/>
<path d="M459.56,173.22 L464.12,172.08 L470.20,172.46 L476.28,171.70 L480.08,173.22 L481.60,177.02 L480.84,181.58 L479.32,186.14 L476.28,189.18 L471.72,190.70 L467.92,191.61 L464.12,190.32 L459.56,188.42 L456.90,185.38 L456.52,181.58 L457.66,177.02Z" fill="#e0e0e0" fill-opacity="0.85"/>
<rect x="464.42" y="176.33" width="0.80" height="0.80" fill="#8c8c8c"/>
<rect x="463.94" y="185.74" width="0.80" height="0.80" fill="#8c8c8c"/>
<rect x="466.88" y="188.70" width="0.80" height="0.80" fill="#8c8c8c"/>
<rect x="471.18" y="177.02" width="0.80" height="0.80" fill="#8c8c8c"/>
<rect x="468.55" y="179.32" width="0.80" height="0.80" fill="#8c8c8c"/>
<rect x="460.84" y="178.88" width="0.80" height="0.80" fill="#8c8c8c"/>
<rect x="464.60" y="187.12" width="0.80" height="0.80" fill="#8c8c8c"/>
<rect x="468.55" y="183.63" width="0.80" height="0.80" fill="#8c8c8c"/>
<rect x="468.26" y="188.32" width="0.80" height="0.80" fill="#8c8c8c"/>
<rect x="477.13" y="182.79" width="0.80" height="0.80" fill="#8c8c8c"/>
<rect x="468.59" y="186.05" width="0.80" height="0.80" fill="#8c8c8c"/>
<rect x="478.00" y="179.67" width="0.80" height="0.80" fill="#8c8c8c"/>
<rect x="468.24" y="176.27" width="0.80" height="0.80" fill="#8c8c8c"/>
<rect x="462.41" y="185.99" width="0.80" height="0.80" fill="#8c8c8c"/>
<rect x="477.94" y="176.52" width="0.80" height="0.80" fill="#8c8c8c"/>
<rect x="461.28" y="176.85" width="0.80" height="0.80" fill="#8c8c8c"/>
<rect x="461.21" y="185.73" width="0.80" height="0.80" fill="#8c8c8c"/>
<rect x="462.92" y="188.93" width="0.80" height="0.80" fill="#8c8c8c"/>
<rect x="464.38" y="180.13" width="0.80" height="0.80" fill="#8c8c8c"/>
<rect x="474.80" y="173.41" width="0.80" height="0.80" fill="#8c8c8c"/>
<rect x="463.84" y="178.80" width="0.80" height="0.80" fill="#8c8c8c"/>
<rect x="471.07" y="185.15" width="0.80" height="0.80" fill="#8c8c8c"/>
<rect x="467.46" y="181.38" width="0.80" height="0.80" fill="#8c8c8c"/>
<rect x="461.79" y="183.35" width="0.80" height="0.80" fill="#8c8c8c"/>
<rect x="480.48" y="179.48" width="0.80" height="0.80" fill="#8c8c8c"/>
<rect x="470.17" y="174.07" width="0.80" height="0.80" fill="#8c8c8c"/>
<rect x="463.41" y="184.95" width="0.80" height="0.80" fill="#8c8c8c"/>
<rect x="479.31" y="173.63" width="0.80" height="0.80" fill="#8c8c8c"/>
<rect x="480.13" y="179.15" width="0.80" height="0.80" fill="#8c8c8c"/>
<rect x="475.89" y="186.78" width="0.80" height="0.80" fill="#8c8c8c"/>
<rect x="463.93" y="185.16" width="0.80" height="0.80" fill="#8c8c8c"/>
<rect x="472.92" y="187.75" width="0.80" height="0.80" fill="#8c8c8c"/>
<rect x="463.18" y="186.72" width="0.80" height="0.80" fill="#8c8c8c"/>
<rect x="469.97" y="173.96" width="0.80" height="0.80" fill="#8c8c8c"/>
<rect x="468.91" y="178.71" width="0.80" height="0.80" fill="#8c8c8c"/>
<rect x="474.53" y="185.21" width="0.80" height="0.80" fill="#8c8c8c"/>
<rect x="470.73" y="175.32" width="0.80" height="0.80" fill="#8c8c8c"/>
<rect x="472.71" y="184.26" width="0.80" height="0.80" fill="#8c8c8c"/>
<rect x="472.96" y="174.15" width="0.80" height="0.80" fill="#8c8c8c"/>
<rect x="479.89" y="174.52" width="0.80" height="0.80" fill="#8c8c8c"/>
<rect x="464.83" y="186.05" width="0.80" height="0.80" fill="#8c8c8c"/>
<rect x="471.50" y="182.75" width="0.80" height="0.80" fill="#8c8c8c"/>
<rect x="472.76" y="180.81" width="0.80" height="0.80" fill="#8c8c8c"/>
<rect x="464.36" y="175.21" width="0.80" height="0.80" fill="#8c8c8c"/>
<rect x="458.24" y="185.95" width="0.80" height="0.80" fill="#8c8c8c"/>
<rect x="475.44" y="182.51" width="0.80" height="0.80" fill="#8c8c8c"/>
<rect x="475.07" y="178.85" width="0.80" height="0.80" fill="#8c8c8c"/>
<rect x="463.19" y="179.33" width="0.80" height="0.80" fill="#8c8c8c"/>
<rect x="469.18" y="176.62" width="0.90" height="0.90" fill="#ffffff"/>
<rect x="475.80" y="178.75" width="0.90" height="0.90" fill="#ffffff"/>
<rect x="464.87" y="179.73" width="0.90" height="0.90" fill="#ffffff"/>
<rect x="470.10" y="187.07" width="0.90" height="0.90" fill="#ffffff"/>
<rect x="465.37" y="188.56" width="0.90" height="0.90" fill="#ffffff"/>
<rect x="459.33" y="177.09" width="0.90" height="0.90" fill="#ffffff"/>
<rect x="476.06" y="186.18" width="0.90" height="0.90" fill="#ffffff"/>
<rect x="461.16" y="175.47" width="0.90" height="0.90" fill="#ffffff"/>
<rect x="466.97" y="186.50" width="0.90" height="0.90" fill="#ffffff"/>
<rect x="476.98" y="186.61" width="0.90" height="0.90" fill="#ffffff"/>
<rect x="471.37" y="174.62" width="0.90" height="0.90" fill="#ffffff"/>
<rect x="466.51" y="175.56" width="0.90" height="0.90" fill="#ffffff"/>
<rect x="469.75" y="183.02" width="0.90" height="0.90" fill="#ffffff"/>
<rect x="461.59" y="176.68" width="0.90" height="0.90" fill="#ffffff"/>
<rect x="476.12" y="172.30" width="0.90" height="0.90" fill="#ffffff"/>
<rect x="480.33" y="179.33" width="0.90" height="0.90" fill="#ffffff"/>
<rect x="470.38" y="183.31" width="0.90" height="0.90" fill="#ffffff"/>
<rect x="473.74" y="177.66" width="0.90" height="0.90" fill="#ffffff"/>
<rect x="478.09" y="181.34" width="0.90" height="0.90" fill="#ffffff"/>
<rect x="471.60" y="186.17" width="0.90" height="0.90" fill="#ffffff"/>
<rect x="473.12" y="181.49" width="0.90" height="0.90" fill="#ffffff"/>
<rect x="469.65" y="180.87" width="0.90" height="0.90" fill="#ffffff"/>
<rect x="461.37" y="182.24" width="0.90" height="0.90" fill="#ffffff"/>
<rect x="457.45" y="181.66" width="0.90" height="0.90" fill="#ffffff"/>
<rect x="472.72" y="180.55" width="0.90" height="0.90" fill="#ffffff"/>
<rect x="470.72" y="190.80" width="0.90" height="0.90" fill="#ffffff"/>
<rect x="478.89" y="174.40" width="0.90" height="0.90" fill="#ffffff"/>
<rect x="476.39" y="184.11" width="0.90" height="0.90" fill="#ffffff"/>
<rect x="457.79" y="178.87" width="0.90" height="0.90" fill="#ffffff"/>
<rect x="462.37" y="173.25" width="0.90" height="0.90" fill="#ffffff"/>
<rect x="470.04" y="190.21" width="0.90" height="0.90" fill="#ffffff"/>
<rect x="464.62" y="189.03" width="0.90" height="0.90" fill="#ffffff"/>
<rect x="473.94" y="174.38" width="0.90" height="0.90" fill="#ffffff"/>
<rect x="478.05" y="183.67" width="0.90" height="0.90" fill="#ffffff"/>
<rect x="475.07" y="178.54" width="0.90" height="0.90" fill="#ffffff"/>
<rect x="478.13" y="180.40" width="0.90" height="0.90" fill="#ffffff"/>
<rect x="475.50" y="181.36" width="0.90" height="0.90" fill="#ffffff"/>
<rect x="458.47" y="175.69" width="0.90" height="0.90" fill="#ffffff"/>
<rect x="460.55" y="181.60" width="0.90" height="0.90" fill="#ffffff"/>
<rect x="474.06" y="182.40" width="0.90" height="0.90" fill="#ffffff"/>
<rect x="467.11" y="184.63" width="0.90" height="0.90" fill="#ffffff"/>
<rect x="464.16" y="180.95" width="0.90" height="0.90" fill="#ffffff"/>
<rect x="475.51" y="179.69" width="0.90" height="0.90" fill="#ffffff"/>
<rect x="474.57" y="179.01" width="0.90" height="0.90" fill="#ffffff"/>
<rect x="465.82" y="182.24" width="0.90" height="0.90" fill="#ffffff"/>
<rect x="471.48" y="176.16" width="0.90" height="0.90" fill="#ffffff"/>
<rect x="476.16" y="174.56" width="0.90" height="0.90" fill="#ffffff"/>
<rect x="468.06" y="175.59" width="0.90" height="0.90" fill="#ffffff"/>
<rect x="461.77" y="175.10" width="0.90" height="0.90" fill="#ffffff"/>
<rect x="466.65" y="175.05" width="0.90" height="0.90" fill="#ffffff"/>
<rect x="460.74" y="181.46" width="0.90" height="0.90" fill="#ffffff"/>
<rect x="467.76" y="179.82" width="0.90" height="0.90" fill="#ffffff"/>
<rect x="474.16" y="172.72" width="0.90" height="0.90" fill="#ffffff"/>
<rect x="466.63" y="179.60" width="0.90" height="0.90" fill="#ffffff"/>
<rect x="462.01" y="173.58" width="0.90" height="0.90" fill="#ffffff"/>
<rect x="468.42" y="174.98" width="0.90" height="0.90" fill="#ffffff"/>
<rect x="472.13" y="178.60" width="0.90" height="0.90" fill="#ffffff"/>
<rect x="474.77" y="177.18" width="0.90" height="0.90" fill="#ffffff"/>
<rect x="476.28" y="180.97" width="0.90" height="0.90" fill="#ffffff"/>
<rect x="479.92" y="177.68" width="0.90" height="0.90" fill="#ffffff"/>
<rect x="462.79" y="176.99" width="0.90" height="0.90" fill="#ffffff"/>
<rect x="476.95" y="184.23" width="0.90" height="0.90" fill="#ffffff"/>
<rect x="465.17" y="173.57" width="0.90" height="0.90" fill="#ffffff"/>
<rect x="457.87" y="184.73" width="0.90" height="0.90" fill="#ffffff"/>
<rect x="479.10" y="175.70" width="0.90" height="0.90" fill="#ffffff"/>
<rect x="464.16" y="183.79" width="0.90" height="0.90" fill="#ffffff"/>
<rect x="463.88" y="188.62" width="0.90" height="0.90" fill="#ffffff"/>
<rect x="459.40" y="179.46" width="0.90" height="0.90" fill="#ffffff"/>
<rect x="464.90" y="185.24" width="0.90" height="0.90" fill="#ffffff"/>
<rect x="479.81" y="175.18" width="0.90" height="0.90" fill="#ffffff"/>
<rect x="475.07" y="186.31" width="0.90" height="0.90" fill="#ffffff"/>
<rect x="477.48" y="182.72" width="0.90" height="0.90" fill="#ffffff"/>
<rect x="479.68" y="178.92" width="0.90" height="0.90" fill="#ffffff"/>
<rect x="466.92" y="176.27" width="0.90" height="0.90" fill="#ffffff"/>
<rect x="476.07" y="181.27" width="0.90" height="0.90" fill="#ffffff"/>
<rect x="463.28" y="175.08" width="0.90" height="0.90" fill="#ffffff"/>
<rect x="474.59" y="183.76" width="0.90" height="0.90" fill="#ffffff"/>
<rect x="474.34" y="179.40" width="0.90" height="0.90" fill="#ffffff"/>
<rect x="468.74" y="174.76" width="0.90" height="0.90" fill="#ffffff"/>
<rect x="474.34" y="172.16" width="0.90" height="0.90" fill="#ffffff"/>
<rect x="468.23" y="186.80" width="0.90" height="0.90" fill="#ffffff"/>
<rect x="473.51" y="173.63" width="0.90" height="0.90" fill="#ffffff"/>
<rect x="462.47" y="188.50" width="0.90" height="0.90" fill="#ffffff"/>
<rect x="472.63" y="189.19" width="0.90" height="0.90" fill="#ffffff"/>
<rect x="478.40" y="180.66" width="0.90" height="0.90" fill="#ffffff"/>
<rect x="479.01" y="186.29" width="0.90" height="0.90" fill="#ffffff"/>
<rect x="464.89" y="179.07" width="0.90" height="0.90" fill="#ffffff"/>
<rect x="458.33" y="179.65" width="0.90" height="0.90" fill="#ffffff"/>
<rect x="470.79" y="173.89" width="0.90" height="0.90" fill="#ffffff"/>
<rect x="458.55" y="184.63" width="0.90" height="0.90" fill="#ffffff"/>
<rect x="462.56" y="172.67" width="0.90" height="0.90" fill="#ffffff"/>
<rect x="460.35" y="184.53" width="0.90" height="0.90" fill="#ffffff"/>
<rect x="462.04" y="182.90" width="0.90" height="0.90" fill="#ffffff"/>
<rect x="467.04" y="187.25" width="0.90" height="0.90" fill="#ffffff"/>
<rect x="471.68" y="187.40" width="0.90" height="0.90" fill="#ffffff"/>
<rect x="469.94" y="175.45" width="0.90" height="0.90" fill="#ffffff"/>
<rect x="460.97" y="173.28" width="0.90" height="0.90" fill="#ffffff"/>
<rect x="477.22" y="173.94" width="0.90" height="0.90" fill="#ffffff"/>
<rect x="458.67" y="180.96" width="0.90" height="0.90" fill="#ffffff"/>
<rect x="462.11" y="188.22" width="0.90" height="0.90" fill="#ffffff"/>
<rect x="471.95" y="184.48" width="0.90" height="0.90" fill="#ffffff"/>
<rect x="475.62" y="189.06" width="0.90" height="0.90" fill="#ffffff"/>
<rect x="465.20" y="183.71" width="0.90" height="0.90" fill="#ffffff"/>
<rect x="467.70" y="173.91" width="0.90" height="0.90" fill="#ffffff"/>
<rect x="477.47" y="183.54" width="0.90" height="0.90" fill="#ffffff"/>
<rect x="476.96" y="175.80" width="0.90" height="0.90" fill="#ffffff"/>
<rect x="470.04" y="180.94" width="0.90" height="0.90" fill="#ffffff"/>
<rect x="474.78" y="173.24" width="0.90" height="0.90" fill="#ffffff"/>
<rect x="465.20" y="181.35" width="0.90" height="0.90" fill="#ffffff"/>
<rect x="458.31" y="182.71" width="0.90" height="0.90" fill="#ffffff"/>
<rect x="474.96" y="180.12" width="0.90" height="0.90" fill="#ffffff"/>
<rect x="472.78" y="183.76" width="0.90" height="0.90" fill="#ffffff"/>
<rect x="461.89" y="178.68" width="0.90" height="0.90" fill="#ffffff"/>
<rect x="467.33" y="173.38" width="0.90" height="0.90" fill="#ffffff"/>
<rect x="461.98" y="174.99" width="0.90" height="0.90" fill="#ffffff"/>
<rect x="471.87" y="190.24" width="0.90" height="0.90" fill="#ffffff"/>
<rect x="469.96" y="180.04" width="0.90" height="0.90" fill="#ffffff"/>
<rect x="480.34" y="181.34" width="0.90" height="0.90" fill="#ffffff"/>
<rect x="475.92" y="179.80" width="0.90" height="0.90" fill="#ffffff"/>
<rect x="461.15" y="173.61" width="0.90" height="0.90" fill="#ffffff"/>
<rect x="474.64" y="177.56" width="0.90" height="0.90" fill="#ffffff"/>
<rect x="469.55" y="184.43" width="0.90" height="0.90" fill="#ffffff"/>
<rect x="463.44" y="180.31" width="0.90" height="0.90" fill="#ffffff"/>
<rect x="465.17" y="186.48" width="0.90" height="0.90" fill="#ffffff"/>
<rect x="475.25" y="177.42" width="0.90" height="0.90" fill="#ffffff"/>
<rect x="459.11" y="177.66" width="0.90" height="0.90" fill="#ffffff"/>
<rect x="466.83" y="173.24" width="0.90" height="0.90" fill="#ffffff"/>
<rect x="460.36" y="186.89" width="0.90" height="0.90" fill="#ffffff"/>
<rect x="465.86" y="174.91" width="0.90" height="0.90" fill="#ffffff"/>
<rect x="464.34" y="180.92" width="0.90" height="0.90" fill="#ffffff"/>
<rect x="469.71" y="182.49" width="0.90" height="0.90" fill="#ffffff"/>
<rect x="465.54" y="188.68" width="0.90" height="0.90" fill="#ffffff"/>
<rect x="463.67" y="180.92" width="0.90" height="0.90" fill="#ffffff"/>
<rect x="463.98" y="176.53" width="0.90" height="0.90" fill="#ffffff"/>
<rect x="476.75" y="171.90" width="0.90" height="0.90" fill="#ffffff"/>
<rect x="459.82" y="182.27" width="0.90" height="0.90" fill="#ffffff"/>
<rect x="469.96" y="175.00" width="0.90" height="0.90" fill="#ffffff"/>
<path d="M461.84,181.58 L466.40,179.30 L470.96,180.82 L472.48,185.38 L470.20,189.56 L464.88,190.32 L461.08,186.90Z" fill="#bdbdbd" fill-opacity="0.85"/>
<rect x="469.86" y="184.43" width="0.80" height="0.80" fill="#8c8c8c"/>
<rect x="466.01" y="183.03" width="0.80" height="0.80" fill="#8c8c8c"/>
<rect x="461.66" y="185.32" width="0.80" height="0.80" fill="#8c8c8c"/>
<rect x="462.15" y="182.73" width="0.80" height="0.80" fill="#8c8c8c"/>
<rect x="463.90" y="188.14" width="0.80" height="0.80" fill="#8c8c8c"/>
<rect x="465.85" y="182.17" width="0.80" height="0.80" fill="#8c8c8c"/>
<rect x="461.58" y="184.03" width="0.80" height="0.80" fill="#8c8c8c"/>
<rect x="468.23" y="186.74" width="0.80" height="0.80" fill="#8c8c8c"/>
<rect x="463.90" y="180.80" width="0.80" height="0.80" fill="#8c8c8c"/>
<rect x="469.72" y="188.00" width="0.80" height="0.80" fill="#8c8c8c"/>
<rect x="466.88" y="188.46" width="0.90" height="0.90" fill="#ffffff"/>
<rect x="467.37" y="182.38" width="0.90" height="0.90" fill="#ffffff"/>
<rect x="468.41" y="189.18" width="0.90" height="0.90" fill="#ffffff"/>
<rect x="471.41" y="184.45" width="0.90" height="0.90" fill="#ffffff"/>
<rect x="468.67" y="189.53" width="0.90" height="0.90" fill="#ffffff"/>
<rect x="470.36" y="185.94" width="0.90" height="0.90" fill="#ffffff"/>
<rect x="465.80" y="185.01" width="0.90" height="0.90" fill="#ffffff"/>
<rect x="463.03" y="181.32" width="0.90" height="0.90" fill="#ffffff"/>
<rect x="467.32" y="183.80" width="0.90" height="0.90" fill="#ffffff"/>
<rect x="465.09" y="184.31" width="0.90" height="0.90" fill="#ffffff"/>
<rect x="470.23" y="184.29" width="0.90" height="0.90" fill="#ffffff"/>
<rect x="464.67" y="185.05" width="0.90" height="0.90" fill="#ffffff"/>
<rect x="465.78" y="188.68" width="0.90" height="0.90" fill="#ffffff"/>
<rect x="467.63" y="185.36" width="0.90" height="0.90" fill="#ffffff"/>
<rect x="466.64" y="182.38" width="0.90" height="0.90" fill="#ffffff"/>
<rect x="469.17" y="189.35" width="0.90" height="0.90" fill="#ffffff"/>
<rect x="462.25" y="186.67" width="0.90" height="0.90" fill="#ffffff"/>
<rect x="465.31" y="184.97" width="0.90" height="0.90" fill="#ffffff"/>
<rect x="468.42" y="181.45" width="0.90" height="0.90" fill="#ffffff"/>
<rect x="465.45" y="188.43" width="0.90" height="0.90" fill="#ffffff"/>
<rect x="464.68" y="182.29" width="0.90" height="0.90" fill="#ffffff"/>
<rect x="464.70" y="183.63" width="0.90" height="0.90" fill="#ffffff"/>
<rect x="464.29" y="180.75" width="0.90" height="0.90" fill="#ffffff"/>
<rect x="461.98" y="181.83" width="0.90" height="0.90" fill="#ffffff"/>
<rect x="467.08" y="187.49" width="0.90" height="0.90" fill="#ffffff"/>
<rect x="470.64" y="186.25" width="0.90" height="0.90" fill="#ffffff"/>
<rect x="461.87" y="182.25" width="0.90" height="0.90" fill="#ffffff"/>
<rect x="466.58" y="182.25" width="0.90" height="0.90" fill="#ffffff"/>
<rect x="467.31" y="179.82" width="0.90" height="0.90" fill="#ffffff"/>
<path d="M456.75,181.58 L459.18,179.68 L461.84,182.72 L461.46,187.28 L458.04,187.28Z" fill="#bdbdbd" fill-opacity="0.85"/>
<rect x="460.18" y="184.60" width="0.80" height="0.80" fill="#8c8c8c"/>
<rect x="461.64" y="183.74" width="0.90" height="0.90" fill="#ffffff"/>
<rect x="458.70" y="180.49" width="0.90" height="0.90" fill="#ffffff"/>
<rect x="458.73" y="187.19" width="0.90" height="0.90" fill="#ffffff"/>
<rect x="458.18" y="180.68" width="0.90" height="0.90" fill="#ffffff"/>
<rect x="458.54" y="186.63" width="0.90" height="0.90" fill="#ffffff"/>
<rect x="458.55" y="186.91" width="0.90" height="0.90" fill="#ffffff"/>
<rect x="459.22" y="185.03" width="0.90" height="0.90" fill="#ffffff"/>
<path d="M480.84,178.54 L485.40,177.17 L489.58,178.92 L493.38,181.58 L491.48,183.86 L486.92,184.24 L481.60,183.86Z" fill="#e0e0e0" fill-opacity="0.85"/>
<rect x="485.17" y="182.46" width="0.80" height="0.80" fill="#8c8c8c"/>
<rect x="490.65" y="181.19" width="0.80" height="0.80" fill="#8c8c8c"/>
<rect x="486.66" y="180.98" width="0.80" height="0.80" fill="#8c8c8c"/>
<rect x="486.39" y="180.95" width="0.80" height="0.80" fill="#8c8c8c"/>
<rect x="488.29" y="183.76" width="0.80" height="0.80" fill="#8c8c8c"/>
<rect x="482.95" y="179.05" width="0.80" height="0.80" fill="#8c8c8c"/>
<rect x="489.44" y="180.88" width="0.90" height="0.90" fill="#ffffff"/>
<rect x="487.62" y="180.29" width="0.90" height="0.90" fill="#ffffff"/>
<rect x="482.68" y="181.42" width="0.90" height="0.90" fill="#ffffff"/>
<rect x="484.89" y="180.75" width="0.90" height="0.90" fill="#ffffff"/>
<rect x="485.52" y="179.42" width="0.90" height="0.90" fill="#ffffff"/>
<rect x="485.33" y="181.42" width="0.90" height="0.90" fill="#ffffff"/>
<rect x="491.65" y="183.08" width="0.90" height="0.90" fill="#ffffff"/>
<rect x="484.22" y="178.04" width="0.90" height="0.90" fill="#ffffff"/>
<rect x="487.12" y="182.35" width="0.90" height="0.90" fill="#ffffff"/>
<rect x="485.12" y="181.73" width="0.90" height="0.90" fill="#ffffff"/>
<rect x="484.38" y="184.01" width="0.90" height="0.90" fill="#ffffff"/>
<rect x="486.52" y="180.55" width="0.90" height="0.90" fill="#ffffff"/>
<rect x="487.50" y="183.36" width="0.90" height="0.90" fill="#ffffff"/>
<rect x="486.38" y="181.54" width="0.90" height="0.90" fill="#ffffff"/>
<rect x="481.71" y="180.18" width="0.90" height="0.90" fill="#ffffff"/>
<rect x="491.47" y="182.67" width="0.90" height="0.90" fill="#ffffff"/>
<rect x="481.58" y="183.21" width="0.90" height="0.90" fill="#ffffff"/>
<rect x="485.66" y="184.11" width="0.90" height="0.90" fill="#ffffff"/>
<rect x="485.44" y="178.69" width="0.90" height="0.90" fill="#ffffff"/>
<rect x="487.72" y="183.42" width="0.90" height="0.90" fill="#ffffff"/>
<rect x="486.25" y="183.30" width="0.90" height="0.90" fill="#ffffff"/>
<rect x="489.76" y="179.73" width="0.90" height="0.90" fill="#ffffff"/>
<path d="M484.64,180.82 L488.44,180.06 L490.72,182.72 L486.92,183.86Z" fill="#e0e0e0" fill-opacity="0.85"/>
<rect x="486.47" y="181.98" width="0.80" height="0.80" fill="#8c8c8c"/>
<rect x="487.07" y="181.48" width="0.80" height="0.80" fill="#8c8c8c"/>
<rect x="488.19" y="180.62" width="0.90" height="0.90" fill="#ffffff"/>
<rect x="485.98" y="181.47" width="0.90" height="0.90" fill="#ffffff"/>
<rect x="488.38" y="180.59" width="0.90" height="0.90" fill="#ffffff"/>
<rect x="485.14" y="181.28" width="0.90" height="0.90" fill="#ffffff"/>
<rect x="487.92" y="183.56" width="0.90" height="0.90" fill="#ffffff"/>
<rect x="487.89" y="182.86" width="0.90" height="0.90" fill="#ffffff"/>
<path d="M502.12,166.38 L504.02,166.08 L505.54,166.76 L505.16,169.04 L502.50,169.27Z" fill="#6a90c0" stroke="#6a90c0" stroke-width="0"/>
<rect x="504.95" y="168.75" width="0.90" height="0.90" fill="#ffffff"/>
<path d="M500.22,168.96 L503.64,168.51 L507.44,168.81 L509.34,170.94 L508.96,174.74 L506.68,176.64 L502.88,177.78 L499.46,177.40 L498.32,174.74 L499.46,171.70Z" fill="#6a90c0" stroke="#6a90c0" stroke-width="0"/>
<rect x="508.38" y="172.60" width="0.90" height="0.90" fill="#ffffff"/>
<rect x="505.84" y="169.63" width="0.90" height="0.90" fill="#ffffff"/>
<rect x="508.02" y="172.02" width="0.90" height="0.90" fill="#ffffff"/>
<rect x="503.56" y="176.76" width="0.90" height="0.90" fill="#ffffff"/>
<rect x="501.48" y="170.27" width="0.90" height="0.90" fill="#ffffff"/>
<rect x="507.40" y="174.06" width="0.90" height="0.90" fill="#ffffff"/>
<rect x="507.49" y="170.21" width="0.90" height="0.90" fill="#ffffff"/>
<rect x="501.34" y="172.11" width="0.90" height="0.90" fill="#ffffff"/>
<rect x="503.96" y="172.52" width="0.90" height="0.90" fill="#ffffff"/>
<rect x="505.25" y="174.63" width="0.90" height="0.90" fill="#ffffff"/>
<rect x="503.13" y="169.41" width="0.90" height="0.90" fill="#ffffff"/>
<rect x="499.24" y="172.60" width="0.90" height="0.90" fill="#ffffff"/>
<path d="M504.40,174.74 L507.44,174.21 L509.72,175.50 L509.34,179.30 L506.68,181.58 L504.78,180.06 L504.02,177.02Z" fill="#6a90c0" stroke="#6a90c0" stroke-width="0"/>
<rect x="506.76" y="177.32" width="0.90" height="0.90" fill="#ffffff"/>
<rect x="505.91" y="177.30" width="0.90" height="0.90" fill="#ffffff"/>
<rect x="507.34" y="180.73" width="0.90" height="0.90" fill="#ffffff"/>
<path d="M498.47,196.40 L499.84,195.11 L502.12,194.80 L504.86,194.65 L504.02,196.40 L502.12,198.00 L499.46,197.92Z" fill="#e0e0e0" fill-opacity="0.85"/>
<rect x="499.76" y="195.96" width="0.80" height="0.80" fill="#8c8c8c"/>
<rect x="499.04" y="196.80" width="0.80" height="0.80" fill="#8c8c8c"/>
<rect x="501.82" y="196.57" width="0.90" height="0.90" fill="#ffffff"/>
<rect x="501.46" y="197.52" width="0.90" height="0.90" fill="#ffffff"/>
<rect x="501.91" y="195.60" width="0.90" height="0.90" fill="#ffffff"/>
<rect x="501.85" y="195.33" width="0.90" height="0.90" fill="#ffffff"/>
<path d="M476.66,213.50 L478.56,211.60 L481.60,210.84 L484.64,210.61 L485.86,212.36 L485.40,215.02 L483.12,216.92 L479.32,217.15 L477.04,215.78Z" fill="#5a84c4" stroke="#5a84c4" stroke-width="0"/>
<rect x="479.41" y="216.49" width="0.90" height="0.90" fill="#ffffff"/>
<rect x="477.88" y="214.09" width="0.90" height="0.90" fill="#ffffff"/>
<rect x="482.36" y="212.93" width="0.90" height="0.90" fill="#ffffff"/>
<rect x="484.55" y="215.44" width="0.90" height="0.90" fill="#ffffff"/>
<rect x="480.64" y="212.65" width="0.90" height="0.90" fill="#ffffff"/>
<rect x="478.44" y="216.31" width="0.90" height="0.90" fill="#ffffff"/>
<rect x="478.65" y="215.99" width="0.90" height="0.90" fill="#ffffff"/>
<path d="M487.68,184.24 L495.13,185.00" fill="none" stroke="#9aa8c0" stroke-width="0.9"/>
<text x="348.80" y="150.00" font-size="7.0" text-anchor="middle" font-style="italic" stroke="#231f20" stroke-width="0.24">IL27RA</text>
<text x="417.80" y="150.00" font-size="7.0" text-anchor="middle" font-style="italic" stroke="#231f20" stroke-width="0.24">IL27EBI3</text>
<text x="487.10" y="150.00" font-size="7.0" text-anchor="middle" font-style="italic" stroke="#231f20" stroke-width="0.24">IL27P28</text>
<defs><linearGradient id="cb" x1="0" x2="1"><stop offset="0" stop-color="#5ec8f0"/><stop offset="1" stop-color="#1a2a7a"/></linearGradient></defs>
<text x="297.10" y="230.00" font-size="5.45" stroke="#231f20" stroke-width="0.24"><tspan>Normalized value of </tspan><tspan font-style="italic">IL27RA</tspan></text>
<rect x="325.40" y="233.20" width="23.20" height="2.00" fill="url(#cb)"/>
<text x="328.00" y="241.70" font-size="5.6" text-anchor="middle" stroke="#231f20" stroke-width="0.24">0.6</text>
<text x="349.70" y="241.70" font-size="5.6" text-anchor="middle" stroke="#231f20" stroke-width="0.24">2.22</text>
<text x="372.30" y="230.00" font-size="5.45" stroke="#231f20" stroke-width="0.24"><tspan>Normalized value of </tspan><tspan font-style="italic">IL27EBI3</tspan></text>
<rect x="396.00" y="233.20" width="24.00" height="2.00" fill="url(#cb)"/>
<text x="398.40" y="241.70" font-size="5.6" text-anchor="middle" stroke="#231f20" stroke-width="0.24">0.48</text>
<text x="418.30" y="241.70" font-size="5.6" text-anchor="middle" stroke="#231f20" stroke-width="0.24">2.41</text>
<text x="449.20" y="230.00" font-size="5.45" stroke="#231f20" stroke-width="0.24"><tspan>Normalized value of </tspan><tspan font-style="italic">IL27P28</tspan></text>
<rect x="465.80" y="233.20" width="20.00" height="2.00" fill="url(#cb)"/>
<text x="469.60" y="241.70" font-size="5.6" text-anchor="middle" stroke="#231f20" stroke-width="0.24">0.43</text>
<text x="486.40" y="241.70" font-size="5.6" text-anchor="middle" stroke="#231f20" stroke-width="0.24">1.52</text>
<text x="1.00" y="275.70" font-size="10" font-weight="bold">J</text>
<line x1="39.50" y1="283.80" x2="39.50" y2="332.30" stroke="#111" stroke-width="0.9"/>
<line x1="38.00" y1="332.30" x2="39.50" y2="332.30" stroke="#111" stroke-width="0.9"/>
<text x="37.40" y="334.74" font-size="5.8" text-anchor="end" stroke="#231f20" stroke-width="0.24">0</text>
<line x1="38.00" y1="320.18" x2="39.50" y2="320.18" stroke="#111" stroke-width="0.9"/>
<text x="37.40" y="322.61" font-size="5.8" text-anchor="end" stroke="#231f20" stroke-width="0.24">1</text>
<line x1="38.00" y1="308.05" x2="39.50" y2="308.05" stroke="#111" stroke-width="0.9"/>
<text x="37.40" y="310.49" font-size="5.8" text-anchor="end" stroke="#231f20" stroke-width="0.24">2</text>
<line x1="38.00" y1="295.93" x2="39.50" y2="295.93" stroke="#111" stroke-width="0.9"/>
<text x="37.40" y="298.36" font-size="5.8" text-anchor="end" stroke="#231f20" stroke-width="0.24">3</text>
<line x1="38.00" y1="283.80" x2="39.50" y2="283.80" stroke="#111" stroke-width="0.9"/>
<text x="37.40" y="286.24" font-size="5.8" text-anchor="end" stroke="#231f20" stroke-width="0.24">4</text>
<line x1="39.70" y1="332.30" x2="152.30" y2="332.30" stroke="#231f20" stroke-width="0.75"/>
<text x="96.40" y="275.90" font-size="7.0" text-anchor="middle" font-style="italic" stroke="#231f20" stroke-width="0.24">IL27RA</text>
<text x="26.50" y="308.30" font-size="6.1" text-anchor="middle" transform="rotate(-90 26.50 308.30)" stroke="#231f20" stroke-width="0.24">Relative expression</text>
<text x="47.90" y="337.00" font-size="5.9" text-anchor="end" transform="rotate(-45 47.90 337.00)" stroke="#231f20" stroke-width="0.24">B cell</text>
<line x1="46.10" y1="295.93" x2="46.10" y2="329.88" stroke="#3a3a3a" stroke-width="0.85"/>
<path d="M46.68,321.95 L46.74,321.59 L46.81,321.22 L46.89,320.85 L46.97,320.48 L47.06,320.11 L47.17,319.75 L47.28,319.38 L47.41,319.01 L47.55,318.64 L47.71,318.28 L47.88,317.91 L48.07,317.54 L48.28,317.17 L48.51,316.80 L48.65,316.44 L48.50,316.07 L48.35,315.70 L48.21,315.33 L48.08,314.97 L47.95,314.60 L47.84,314.23 L47.73,313.86 L47.63,313.49 L47.53,313.13 L47.44,312.76 L47.36,312.39 L47.28,312.02 L47.21,311.66 L47.14,311.29 L47.08,310.92 L47.01,310.55 L46.96,310.18 L46.90,309.82 L46.85,309.45 L46.81,309.08 L46.76,308.71 L46.72,308.35 L46.68,307.98 L46.65,307.61 L46.61,307.24 L45.59,307.24 L45.55,307.61 L45.52,307.98 L45.48,308.35 L45.44,308.71 L45.39,309.08 L45.35,309.45 L45.30,309.82 L45.24,310.18 L45.19,310.55 L45.12,310.92 L45.06,311.29 L44.99,311.66 L44.92,312.02 L44.84,312.39 L44.76,312.76 L44.67,313.13 L44.57,313.49 L44.47,313.86 L44.36,314.23 L44.25,314.60 L44.12,314.97 L43.99,315.33 L43.85,315.70 L43.70,316.07 L43.55,316.44 L43.69,316.80 L43.92,317.17 L44.13,317.54 L44.32,317.91 L44.49,318.28 L44.65,318.64 L44.79,319.01 L44.92,319.38 L45.03,319.75 L45.14,320.11 L45.23,320.48 L45.31,320.85 L45.39,321.22 L45.46,321.59 L45.52,321.95Z" fill="#1f78b4" stroke="#1a1a1a" stroke-width="0.3"/>
<text x="56.45" y="337.00" font-size="5.9" text-anchor="end" transform="rotate(-45 56.45 337.00)" stroke="#231f20" stroke-width="0.24">CD4 T cell</text>
<line x1="54.65" y1="292.29" x2="54.65" y2="328.66" stroke="#3a3a3a" stroke-width="0.85"/>
<path d="M55.16,322.60 L55.23,322.13 L55.30,321.66 L55.37,321.19 L55.46,320.72 L55.56,320.25 L55.67,319.78 L55.79,319.31 L55.93,318.84 L56.08,318.37 L56.26,317.90 L56.45,317.43 L56.67,316.96 L56.91,316.49 L57.18,316.02 L57.49,315.55 L57.54,315.08 L57.34,314.61 L57.15,314.14 L56.98,313.67 L56.82,313.20 L56.67,312.73 L56.53,312.26 L56.40,311.79 L56.28,311.32 L56.17,310.85 L56.06,310.38 L55.96,309.91 L55.87,309.44 L55.79,308.97 L55.71,308.50 L55.64,308.03 L55.57,307.56 L55.50,307.10 L55.44,306.63 L55.39,306.16 L55.34,305.69 L55.29,305.22 L55.25,304.75 L55.20,304.28 L55.17,303.81 L54.13,303.81 L54.10,304.28 L54.05,304.75 L54.01,305.22 L53.96,305.69 L53.91,306.16 L53.86,306.63 L53.80,307.10 L53.73,307.56 L53.66,308.03 L53.59,308.50 L53.51,308.97 L53.43,309.44 L53.34,309.91 L53.24,310.38 L53.13,310.85 L53.02,311.32 L52.90,311.79 L52.77,312.26 L52.63,312.73 L52.48,313.20 L52.32,313.67 L52.15,314.14 L51.96,314.61 L51.76,315.08 L51.81,315.55 L52.12,316.02 L52.39,316.49 L52.63,316.96 L52.85,317.43 L53.04,317.90 L53.22,318.37 L53.37,318.84 L53.51,319.31 L53.63,319.78 L53.74,320.25 L53.84,320.72 L53.93,321.19 L54.00,321.66 L54.07,322.13 L54.14,322.60Z" fill="#1a1a1a" stroke="#1a1a1a" stroke-width="0.3"/>
<text x="65.00" y="337.00" font-size="5.9" text-anchor="end" transform="rotate(-45 65.00 337.00)" stroke="#231f20" stroke-width="0.24">CD4 Treg</text>
<line x1="63.20" y1="289.86" x2="63.20" y2="328.66" stroke="#3a3a3a" stroke-width="0.85"/>
<path d="M63.71,324.78 L63.77,324.25 L63.84,323.72 L63.92,323.18 L64.00,322.65 L64.10,322.12 L64.21,321.58 L64.33,321.05 L64.47,320.51 L64.63,319.98 L64.80,319.45 L65.00,318.91 L65.22,318.38 L65.46,317.85 L65.74,317.31 L66.05,316.78 L66.08,316.25 L65.88,315.71 L65.69,315.18 L65.52,314.65 L65.36,314.11 L65.21,313.58 L65.07,313.05 L64.94,312.51 L64.82,311.98 L64.70,311.44 L64.60,310.91 L64.50,310.38 L64.41,309.84 L64.32,309.31 L64.25,308.78 L64.17,308.24 L64.11,307.71 L64.04,307.18 L63.98,306.64 L63.93,306.11 L63.88,305.58 L63.83,305.04 L63.79,304.51 L63.75,303.98 L63.71,303.44 L62.69,303.44 L62.65,303.98 L62.61,304.51 L62.57,305.04 L62.52,305.58 L62.47,306.11 L62.42,306.64 L62.36,307.18 L62.29,307.71 L62.23,308.24 L62.15,308.78 L62.08,309.31 L61.99,309.84 L61.90,310.38 L61.80,310.91 L61.70,311.44 L61.58,311.98 L61.46,312.51 L61.33,313.05 L61.19,313.58 L61.04,314.11 L60.88,314.65 L60.71,315.18 L60.52,315.71 L60.32,316.25 L60.35,316.78 L60.66,317.31 L60.94,317.85 L61.18,318.38 L61.40,318.91 L61.60,319.45 L61.77,319.98 L61.93,320.51 L62.07,321.05 L62.19,321.58 L62.30,322.12 L62.40,322.65 L62.48,323.18 L62.56,323.72 L62.63,324.25 L62.69,324.78Z" fill="#4a1426" stroke="#1a1a1a" stroke-width="0.3"/>
<text x="73.55" y="337.00" font-size="5.9" text-anchor="end" transform="rotate(-45 73.55 337.00)" stroke="#231f20" stroke-width="0.24">CD8 T cell</text>
<line x1="71.75" y1="291.07" x2="71.75" y2="329.88" stroke="#3a3a3a" stroke-width="0.85"/>
<path d="M72.30,322.12 L72.37,321.58 L72.44,321.05 L72.53,320.51 L72.62,319.98 L72.73,319.45 L72.85,318.91 L72.99,318.38 L73.14,317.85 L73.30,317.31 L73.49,316.78 L73.71,316.25 L73.95,315.71 L74.21,315.18 L74.51,314.65 L74.85,314.11 L74.63,313.58 L74.43,313.05 L74.24,312.51 L74.07,311.98 L73.91,311.44 L73.76,310.91 L73.62,310.38 L73.49,309.84 L73.37,309.31 L73.25,308.78 L73.15,308.24 L73.05,307.71 L72.96,307.18 L72.87,306.64 L72.80,306.11 L72.72,305.58 L72.65,305.04 L72.59,304.51 L72.53,303.98 L72.48,303.44 L72.43,302.91 L72.38,302.38 L72.34,301.84 L72.30,301.31 L72.26,300.77 L71.24,300.77 L71.20,301.31 L71.16,301.84 L71.12,302.38 L71.07,302.91 L71.02,303.44 L70.97,303.98 L70.91,304.51 L70.85,305.04 L70.78,305.58 L70.70,306.11 L70.63,306.64 L70.54,307.18 L70.45,307.71 L70.35,308.24 L70.25,308.78 L70.13,309.31 L70.01,309.84 L69.88,310.38 L69.74,310.91 L69.59,311.44 L69.43,311.98 L69.26,312.51 L69.07,313.05 L68.87,313.58 L68.65,314.11 L68.99,314.65 L69.29,315.18 L69.55,315.71 L69.79,316.25 L70.01,316.78 L70.20,317.31 L70.36,317.85 L70.51,318.38 L70.65,318.91 L70.77,319.45 L70.88,319.98 L70.97,320.51 L71.06,321.05 L71.13,321.58 L71.20,322.12Z" fill="#1a1a1a" stroke="#1a1a1a" stroke-width="0.3"/>
<text x="82.10" y="337.00" font-size="5.9" text-anchor="end" transform="rotate(-45 82.10 337.00)" stroke="#231f20" stroke-width="0.24">Classical monocyte</text>
<line x1="80.30" y1="288.65" x2="80.30" y2="329.88" stroke="#3a3a3a" stroke-width="0.85"/>
<path d="M80.82,324.38 L80.87,323.88 L80.94,323.38 L81.01,322.88 L81.09,322.39 L81.18,321.89 L81.28,321.39 L81.40,320.89 L81.52,320.39 L81.66,319.90 L81.81,319.40 L81.98,318.90 L82.17,318.40 L82.39,317.90 L82.62,317.40 L82.89,316.91 L83.05,316.41 L82.87,315.91 L82.70,315.41 L82.55,314.91 L82.40,314.42 L82.26,313.92 L82.13,313.42 L82.01,312.92 L81.90,312.42 L81.80,311.92 L81.70,311.43 L81.61,310.93 L81.52,310.43 L81.44,309.93 L81.37,309.43 L81.30,308.94 L81.23,308.44 L81.17,307.94 L81.11,307.44 L81.06,306.94 L81.01,306.45 L80.96,305.95 L80.92,305.45 L80.88,304.95 L80.84,304.45 L79.76,304.45 L79.72,304.95 L79.68,305.45 L79.64,305.95 L79.59,306.45 L79.54,306.94 L79.49,307.44 L79.43,307.94 L79.37,308.44 L79.30,308.94 L79.23,309.43 L79.16,309.93 L79.08,310.43 L78.99,310.93 L78.90,311.43 L78.80,311.92 L78.70,312.42 L78.59,312.92 L78.47,313.42 L78.34,313.92 L78.20,314.42 L78.05,314.91 L77.90,315.41 L77.73,315.91 L77.55,316.41 L77.71,316.91 L77.98,317.40 L78.21,317.90 L78.43,318.40 L78.62,318.90 L78.79,319.40 L78.94,319.90 L79.08,320.39 L79.20,320.89 L79.32,321.39 L79.42,321.89 L79.51,322.39 L79.59,322.88 L79.66,323.38 L79.73,323.88 L79.78,324.38Z" fill="#3a8c48" stroke="#1a1a1a" stroke-width="0.3"/>
<text x="90.65" y="337.00" font-size="5.9" text-anchor="end" transform="rotate(-45 90.65 337.00)" stroke="#231f20" stroke-width="0.24">Dendritic cell</text>
<line x1="88.85" y1="306.84" x2="88.85" y2="331.09" stroke="#3a3a3a" stroke-width="0.85"/>
<path d="M89.42,328.26 L89.48,327.96 L89.54,327.65 L89.61,327.35 L89.69,327.05 L89.78,326.74 L89.88,326.44 L89.98,326.14 L90.10,325.83 L90.23,325.53 L90.37,325.23 L90.53,324.92 L90.70,324.62 L90.89,324.32 L91.10,324.01 L91.20,323.71 L91.06,323.41 L90.93,323.11 L90.80,322.80 L90.69,322.50 L90.58,322.20 L90.47,321.89 L90.38,321.59 L90.28,321.29 L90.20,320.98 L90.12,320.68 L90.04,320.38 L89.97,320.07 L89.90,319.77 L89.84,319.47 L89.78,319.16 L89.73,318.86 L89.67,318.56 L89.62,318.26 L89.58,317.95 L89.53,317.65 L89.49,317.35 L89.45,317.04 L89.42,316.74 L89.38,316.44 L89.35,316.13 L88.35,316.13 L88.32,316.44 L88.28,316.74 L88.25,317.04 L88.21,317.35 L88.17,317.65 L88.12,317.95 L88.08,318.26 L88.03,318.56 L87.97,318.86 L87.92,319.16 L87.86,319.47 L87.80,319.77 L87.73,320.07 L87.66,320.38 L87.58,320.68 L87.50,320.98 L87.42,321.29 L87.32,321.59 L87.23,321.89 L87.12,322.20 L87.01,322.50 L86.90,322.80 L86.77,323.11 L86.64,323.41 L86.50,323.71 L86.60,324.01 L86.81,324.32 L87.00,324.62 L87.17,324.92 L87.33,325.23 L87.47,325.53 L87.60,325.83 L87.72,326.14 L87.82,326.44 L87.92,326.74 L88.01,327.05 L88.09,327.35 L88.16,327.65 L88.22,327.96 L88.28,328.26Z" fill="#1a1a1a" stroke="#1a1a1a" stroke-width="0.3"/>
<text x="99.20" y="337.00" font-size="5.9" text-anchor="end" transform="rotate(-45 99.20 337.00)" stroke="#231f20" stroke-width="0.24">ILC</text>
<line x1="97.40" y1="312.90" x2="97.40" y2="327.45" stroke="#3a3a3a" stroke-width="0.85"/>
<path d="M97.91,326.00 L97.98,325.67 L98.06,325.34 L98.14,325.01 L98.25,324.69 L98.36,324.36 L98.49,324.03 L98.64,323.70 L98.81,323.38 L99.00,323.05 L99.21,322.72 L99.21,322.39 L99.07,322.07 L98.94,321.74 L98.82,321.41 L98.71,321.08 L98.61,320.76 L98.52,320.43 L98.43,320.10 L98.35,319.77 L98.28,319.45 L98.21,319.12 L98.25,318.79 L98.37,318.47 L98.50,318.14 L98.65,317.81 L98.82,317.48 L99.01,317.16 L98.90,316.83 L98.78,316.50 L98.67,316.17 L98.58,315.85 L98.49,315.52 L98.40,315.19 L98.33,314.86 L98.25,314.54 L98.19,314.21 L98.13,313.88 L98.07,313.55 L98.02,313.23 L97.97,312.90 L96.83,312.90 L96.78,313.23 L96.73,313.55 L96.67,313.88 L96.61,314.21 L96.55,314.54 L96.47,314.86 L96.40,315.19 L96.31,315.52 L96.22,315.85 L96.13,316.17 L96.02,316.50 L95.90,316.83 L95.79,317.16 L95.98,317.48 L96.15,317.81 L96.30,318.14 L96.43,318.47 L96.55,318.79 L96.59,319.12 L96.52,319.45 L96.45,319.77 L96.37,320.10 L96.28,320.43 L96.19,320.76 L96.09,321.08 L95.98,321.41 L95.86,321.74 L95.73,322.07 L95.59,322.39 L95.59,322.72 L95.80,323.05 L95.99,323.38 L96.16,323.70 L96.31,324.03 L96.44,324.36 L96.55,324.69 L96.66,325.01 L96.74,325.34 L96.82,325.67 L96.89,326.00Z" fill="#9a3aa0" stroke="#1a1a1a" stroke-width="0.3"/>
<text x="107.75" y="337.00" font-size="5.9" text-anchor="end" transform="rotate(-45 107.75 337.00)" stroke="#231f20" stroke-width="0.24">NK cell</text>
<line x1="105.95" y1="295.93" x2="105.95" y2="328.66" stroke="#3a3a3a" stroke-width="0.85"/>
<path d="M106.47,321.02 L106.53,320.57 L106.60,320.12 L106.68,319.67 L106.76,319.22 L106.85,318.77 L106.96,318.32 L107.07,317.87 L107.20,317.42 L107.35,316.97 L107.51,316.52 L107.69,316.07 L107.89,315.62 L108.12,315.17 L108.37,314.72 L108.64,314.27 L108.63,313.82 L108.45,313.37 L108.28,312.92 L108.13,312.47 L107.98,312.02 L107.85,311.57 L107.72,311.12 L107.61,310.67 L107.50,310.22 L107.39,309.77 L107.30,309.32 L107.21,308.87 L107.12,308.42 L107.05,307.97 L106.97,307.52 L106.90,307.07 L106.84,306.62 L106.78,306.17 L106.73,305.72 L106.68,305.27 L106.63,304.82 L106.58,304.37 L106.54,303.92 L106.50,303.47 L106.46,303.02 L105.44,303.02 L105.40,303.47 L105.36,303.92 L105.32,304.37 L105.27,304.82 L105.22,305.27 L105.17,305.72 L105.12,306.17 L105.06,306.62 L105.00,307.07 L104.93,307.52 L104.85,307.97 L104.78,308.42 L104.69,308.87 L104.60,309.32 L104.51,309.77 L104.40,310.22 L104.29,310.67 L104.18,311.12 L104.05,311.57 L103.92,312.02 L103.77,312.47 L103.62,312.92 L103.45,313.37 L103.27,313.82 L103.26,314.27 L103.53,314.72 L103.78,315.17 L104.01,315.62 L104.21,316.07 L104.39,316.52 L104.55,316.97 L104.70,317.42 L104.83,317.87 L104.94,318.32 L105.05,318.77 L105.14,319.22 L105.22,319.67 L105.30,320.12 L105.37,320.57 L105.43,321.02Z" fill="#1a1a1a" stroke="#1a1a1a" stroke-width="0.3"/>
<text x="116.30" y="337.00" font-size="5.9" text-anchor="end" transform="rotate(-45 116.30 337.00)" stroke="#231f20" stroke-width="0.24">Macrophage</text>
<line x1="114.50" y1="294.71" x2="114.50" y2="331.09" stroke="#3a3a3a" stroke-width="0.85"/>
<path d="M115.06,328.06 L115.12,327.62 L115.19,327.18 L115.26,326.74 L115.35,326.30 L115.45,325.86 L115.55,325.42 L115.67,324.98 L115.80,324.54 L115.95,324.10 L116.11,323.66 L116.29,323.22 L116.50,322.78 L116.72,322.34 L116.97,321.90 L117.25,321.46 L117.15,321.02 L116.98,320.58 L116.82,320.14 L116.67,319.71 L116.52,319.27 L116.39,318.83 L116.27,318.39 L116.16,317.95 L116.05,317.51 L115.95,317.07 L115.85,316.63 L115.77,316.19 L115.68,315.75 L115.61,315.31 L115.53,314.87 L115.47,314.43 L115.40,313.99 L115.35,313.55 L115.29,313.11 L115.24,312.67 L115.19,312.23 L115.15,311.79 L115.10,311.35 L115.07,310.91 L115.03,310.48 L113.97,310.48 L113.93,310.91 L113.90,311.35 L113.85,311.79 L113.81,312.23 L113.76,312.67 L113.71,313.11 L113.65,313.55 L113.60,313.99 L113.53,314.43 L113.47,314.87 L113.39,315.31 L113.32,315.75 L113.23,316.19 L113.15,316.63 L113.05,317.07 L112.95,317.51 L112.84,317.95 L112.73,318.39 L112.61,318.83 L112.48,319.27 L112.33,319.71 L112.18,320.14 L112.02,320.58 L111.85,321.02 L111.75,321.46 L112.03,321.90 L112.28,322.34 L112.50,322.78 L112.71,323.22 L112.89,323.66 L113.05,324.10 L113.20,324.54 L113.33,324.98 L113.45,325.42 L113.55,325.86 L113.65,326.30 L113.74,326.74 L113.81,327.18 L113.88,327.62 L113.94,328.06Z" fill="#1a1a1a" stroke="#1a1a1a" stroke-width="0.3"/>
<text x="124.85" y="337.00" font-size="5.9" text-anchor="end" transform="rotate(-45 124.85 337.00)" stroke="#231f20" stroke-width="0.24">Mast cell</text>
<line x1="123.05" y1="283.80" x2="123.05" y2="331.09" stroke="#3a3a3a" stroke-width="0.85"/>
<path d="M123.57,327.15 L123.64,326.46 L123.72,325.77 L123.80,325.08 L123.90,324.39 L124.01,323.70 L124.14,323.01 L124.28,322.32 L124.43,321.63 L124.61,320.94 L124.82,320.25 L125.04,319.56 L125.30,318.87 L125.59,318.18 L125.92,317.49 L126.29,316.80 L126.29,316.11 L126.05,315.42 L125.83,314.73 L125.63,314.04 L125.44,313.35 L125.26,312.67 L125.10,311.98 L124.95,311.29 L124.81,310.60 L124.68,309.91 L124.56,309.22 L124.45,308.53 L124.34,307.84 L124.25,307.15 L124.16,306.46 L124.08,305.77 L124.00,305.08 L123.93,304.39 L123.87,303.70 L123.81,303.01 L123.75,302.32 L123.70,301.63 L123.65,300.94 L123.61,300.25 L123.57,299.56 L122.53,299.56 L122.49,300.25 L122.45,300.94 L122.40,301.63 L122.35,302.32 L122.29,303.01 L122.23,303.70 L122.17,304.39 L122.10,305.08 L122.02,305.77 L121.94,306.46 L121.85,307.15 L121.76,307.84 L121.65,308.53 L121.54,309.22 L121.42,309.91 L121.29,310.60 L121.15,311.29 L121.00,311.98 L120.84,312.67 L120.66,313.35 L120.47,314.04 L120.27,314.73 L120.05,315.42 L119.81,316.11 L119.81,316.80 L120.18,317.49 L120.51,318.18 L120.80,318.87 L121.06,319.56 L121.28,320.25 L121.49,320.94 L121.67,321.63 L121.82,322.32 L121.96,323.01 L122.09,323.70 L122.20,324.39 L122.30,325.08 L122.38,325.77 L122.46,326.46 L122.53,327.15Z" fill="#4338a0" stroke="#1a1a1a" stroke-width="0.3"/>
<text x="133.40" y="337.00" font-size="5.9" text-anchor="end" transform="rotate(-45 133.40 337.00)" stroke="#231f20" stroke-width="0.24">Nonclassical monocyte</text>
<line x1="131.60" y1="303.20" x2="131.60" y2="327.45" stroke="#3a3a3a" stroke-width="0.85"/>
<path d="M132.14,324.62 L132.20,324.25 L132.27,323.87 L132.34,323.50 L132.42,323.13 L132.51,322.75 L132.61,322.38 L132.72,322.00 L132.84,321.63 L132.98,321.26 L133.13,320.88 L133.29,320.51 L133.48,320.13 L133.68,319.76 L133.91,319.39 L134.16,319.01 L134.06,318.64 L133.90,318.27 L133.76,317.89 L133.62,317.52 L133.49,317.14 L133.37,316.77 L133.26,316.40 L133.16,316.02 L133.06,315.65 L132.97,315.27 L132.88,314.90 L132.80,314.53 L132.72,314.15 L132.65,313.78 L132.59,313.41 L132.52,313.03 L132.47,312.66 L132.41,312.28 L132.36,311.91 L132.31,311.54 L132.27,311.16 L132.22,310.79 L132.18,310.41 L132.15,310.04 L132.11,309.67 L131.09,309.67 L131.05,310.04 L131.02,310.41 L130.98,310.79 L130.93,311.16 L130.89,311.54 L130.84,311.91 L130.79,312.28 L130.73,312.66 L130.68,313.03 L130.61,313.41 L130.55,313.78 L130.48,314.15 L130.40,314.53 L130.32,314.90 L130.23,315.27 L130.14,315.65 L130.04,316.02 L129.94,316.40 L129.83,316.77 L129.71,317.14 L129.58,317.52 L129.44,317.89 L129.30,318.27 L129.14,318.64 L129.04,319.01 L129.29,319.39 L129.52,319.76 L129.72,320.13 L129.91,320.51 L130.07,320.88 L130.22,321.26 L130.36,321.63 L130.48,322.00 L130.59,322.38 L130.69,322.75 L130.78,323.13 L130.86,323.50 L130.93,323.87 L131.00,324.25 L131.06,324.62Z" fill="#7a9a3a" stroke="#1a1a1a" stroke-width="0.3"/>
<text x="141.95" y="337.00" font-size="5.9" text-anchor="end" transform="rotate(-45 141.95 337.00)" stroke="#231f20" stroke-width="0.24">Plasma cell</text>
<line x1="140.15" y1="310.48" x2="140.15" y2="331.69" stroke="#3a3a3a" stroke-width="0.85"/>
<path d="M140.71,330.99 L140.76,330.75 L140.82,330.51 L140.89,330.27 L140.96,330.03 L141.04,329.79 L141.12,329.55 L141.22,329.32 L141.32,329.08 L141.43,328.84 L141.56,328.60 L141.70,328.36 L141.84,328.12 L142.01,327.88 L142.19,327.64 L142.33,327.41 L142.20,327.17 L142.09,326.93 L141.98,326.69 L141.87,326.45 L141.78,326.21 L141.68,325.97 L141.60,325.73 L141.51,325.50 L141.44,325.26 L141.36,325.02 L141.30,324.78 L141.23,324.54 L141.17,324.30 L141.11,324.06 L141.06,323.83 L141.01,323.59 L140.96,323.35 L140.91,323.11 L140.87,322.87 L140.83,322.63 L140.79,322.39 L140.75,322.15 L140.72,321.92 L140.69,321.68 L140.66,321.44 L139.64,321.44 L139.61,321.68 L139.58,321.92 L139.55,322.15 L139.51,322.39 L139.47,322.63 L139.43,322.87 L139.39,323.11 L139.34,323.35 L139.29,323.59 L139.24,323.83 L139.19,324.06 L139.13,324.30 L139.07,324.54 L139.00,324.78 L138.94,325.02 L138.86,325.26 L138.79,325.50 L138.70,325.73 L138.62,325.97 L138.52,326.21 L138.43,326.45 L138.32,326.69 L138.21,326.93 L138.10,327.17 L137.97,327.41 L138.11,327.64 L138.29,327.88 L138.46,328.12 L138.60,328.36 L138.74,328.60 L138.87,328.84 L138.98,329.08 L139.08,329.32 L139.18,329.55 L139.26,329.79 L139.34,330.03 L139.41,330.27 L139.48,330.51 L139.54,330.75 L139.59,330.99Z" fill="#b04818" stroke="#1a1a1a" stroke-width="0.3"/>
<text x="150.50" y="337.00" font-size="5.9" text-anchor="end" transform="rotate(-45 150.50 337.00)" stroke="#231f20" stroke-width="0.24">T cell</text>
<line x1="148.70" y1="300.78" x2="148.70" y2="331.09" stroke="#3a3a3a" stroke-width="0.85"/>
<path d="M149.21,328.56 L149.27,328.02 L149.33,327.48 L149.40,326.93 L149.48,326.39 L149.57,325.85 L149.66,325.30 L149.77,324.76 L149.89,324.22 L150.02,323.67 L150.17,323.13 L150.33,322.59 L150.51,322.04 L150.71,321.50 L150.93,320.96 L151.18,320.41 L151.21,319.87 L151.04,319.33 L150.89,318.79 L150.75,318.24 L150.62,317.70 L150.50,317.16 L150.38,316.61 L150.27,316.07 L150.17,315.53 L150.08,314.98 L149.99,314.44 L149.91,313.90 L149.83,313.35 L149.76,312.81 L149.69,312.27 L149.63,311.73 L149.57,311.18 L149.51,310.64 L149.46,310.10 L149.41,309.55 L149.36,309.01 L149.32,308.47 L149.28,307.92 L149.24,307.38 L149.21,306.84 L148.19,306.84 L148.16,307.38 L148.12,307.92 L148.08,308.47 L148.04,309.01 L147.99,309.55 L147.94,310.10 L147.89,310.64 L147.83,311.18 L147.77,311.73 L147.71,312.27 L147.64,312.81 L147.57,313.35 L147.49,313.90 L147.41,314.44 L147.32,314.98 L147.23,315.53 L147.13,316.07 L147.02,316.61 L146.90,317.16 L146.78,317.70 L146.65,318.24 L146.51,318.79 L146.36,319.33 L146.19,319.87 L146.22,320.41 L146.47,320.96 L146.69,321.50 L146.89,322.04 L147.07,322.59 L147.23,323.13 L147.38,323.67 L147.51,324.22 L147.63,324.76 L147.74,325.30 L147.83,325.85 L147.92,326.39 L148.00,326.93 L148.07,327.48 L148.13,328.02 L148.19,328.56Z" fill="#e8892a" stroke="#1a1a1a" stroke-width="0.3"/>
<line x1="192.50" y1="283.80" x2="192.50" y2="332.30" stroke="#111" stroke-width="0.9"/>
<line x1="191.00" y1="332.30" x2="192.50" y2="332.30" stroke="#111" stroke-width="0.9"/>
<text x="189.70" y="334.74" font-size="5.8" text-anchor="end" stroke="#231f20" stroke-width="0.24">0</text>
<line x1="191.00" y1="320.18" x2="192.50" y2="320.18" stroke="#111" stroke-width="0.9"/>
<text x="189.70" y="322.61" font-size="5.8" text-anchor="end" stroke="#231f20" stroke-width="0.24">1</text>
<line x1="191.00" y1="308.05" x2="192.50" y2="308.05" stroke="#111" stroke-width="0.9"/>
<text x="189.70" y="310.49" font-size="5.8" text-anchor="end" stroke="#231f20" stroke-width="0.24">2</text>
<line x1="191.00" y1="295.93" x2="192.50" y2="295.93" stroke="#111" stroke-width="0.9"/>
<text x="189.70" y="298.36" font-size="5.8" text-anchor="end" stroke="#231f20" stroke-width="0.24">3</text>
<line x1="191.00" y1="283.80" x2="192.50" y2="283.80" stroke="#111" stroke-width="0.9"/>
<text x="189.70" y="286.24" font-size="5.8" text-anchor="end" stroke="#231f20" stroke-width="0.24">4</text>
<line x1="192.00" y1="332.30" x2="308.80" y2="332.30" stroke="#231f20" stroke-width="0.75"/>
<text x="250.50" y="275.90" font-size="7.0" text-anchor="middle" font-style="italic" stroke="#231f20" stroke-width="0.24">IL27EBI3</text>
<text x="178.80" y="308.30" font-size="6.1" text-anchor="middle" transform="rotate(-90 178.80 308.30)" stroke="#231f20" stroke-width="0.24">Relative expression</text>
<text x="201.00" y="337.00" font-size="5.9" text-anchor="end" transform="rotate(-45 201.00 337.00)" stroke="#231f20" stroke-width="0.24">B cell</text>
<line x1="199.20" y1="293.50" x2="199.20" y2="332.30" stroke="#3a3a3a" stroke-width="0.85"/>
<path d="M199.71,328.42 L199.77,327.89 L199.84,327.35 L199.92,326.82 L200.00,326.29 L200.10,325.75 L200.21,325.22 L200.33,324.69 L200.47,324.15 L200.63,323.62 L200.80,323.09 L201.00,322.55 L201.22,322.02 L201.46,321.48 L201.74,320.95 L202.05,320.42 L202.08,319.88 L201.88,319.35 L201.69,318.82 L201.52,318.28 L201.36,317.75 L201.21,317.22 L201.07,316.68 L200.94,316.15 L200.82,315.62 L200.70,315.08 L200.60,314.55 L200.50,314.02 L200.41,313.48 L200.32,312.95 L200.25,312.42 L200.17,311.88 L200.11,311.35 L200.04,310.81 L199.98,310.28 L199.93,309.75 L199.88,309.21 L199.83,308.68 L199.79,308.15 L199.75,307.61 L199.71,307.08 L198.69,307.08 L198.65,307.61 L198.61,308.15 L198.57,308.68 L198.52,309.21 L198.47,309.75 L198.42,310.28 L198.36,310.81 L198.29,311.35 L198.23,311.88 L198.15,312.42 L198.08,312.95 L197.99,313.48 L197.90,314.02 L197.80,314.55 L197.70,315.08 L197.58,315.62 L197.46,316.15 L197.33,316.68 L197.19,317.22 L197.04,317.75 L196.88,318.28 L196.71,318.82 L196.52,319.35 L196.32,319.88 L196.35,320.42 L196.66,320.95 L196.94,321.48 L197.18,322.02 L197.40,322.55 L197.60,323.09 L197.77,323.62 L197.93,324.15 L198.07,324.69 L198.19,325.22 L198.30,325.75 L198.40,326.29 L198.48,326.82 L198.56,327.35 L198.63,327.89 L198.69,328.42Z" fill="#1f78b4" stroke="#1a1a1a" stroke-width="0.3"/>
<text x="209.55" y="337.00" font-size="5.9" text-anchor="end" transform="rotate(-45 209.55 337.00)" stroke="#231f20" stroke-width="0.24">CD4 T cell</text>
<line x1="207.75" y1="297.14" x2="207.75" y2="328.66" stroke="#3a3a3a" stroke-width="0.85"/>
<path d="M208.26,322.36 L208.32,321.91 L208.38,321.46 L208.45,321.02 L208.53,320.57 L208.62,320.12 L208.72,319.68 L208.84,319.23 L208.96,318.78 L209.10,318.34 L209.25,317.89 L209.42,317.44 L209.62,317.00 L209.83,316.55 L210.07,316.11 L210.33,315.66 L210.50,315.21 L210.32,314.77 L210.15,314.32 L209.99,313.87 L209.84,313.43 L209.71,312.98 L209.58,312.53 L209.46,312.09 L209.34,311.64 L209.24,311.19 L209.14,310.75 L209.05,310.30 L208.96,309.85 L208.88,309.41 L208.81,308.96 L208.74,308.51 L208.67,308.07 L208.61,307.62 L208.56,307.17 L208.50,306.73 L208.45,306.28 L208.41,305.83 L208.36,305.39 L208.32,304.94 L208.29,304.49 L207.21,304.49 L207.18,304.94 L207.14,305.39 L207.09,305.83 L207.05,306.28 L207.00,306.73 L206.94,307.17 L206.89,307.62 L206.83,308.07 L206.76,308.51 L206.69,308.96 L206.62,309.41 L206.54,309.85 L206.45,310.30 L206.36,310.75 L206.26,311.19 L206.16,311.64 L206.04,312.09 L205.92,312.53 L205.79,312.98 L205.66,313.43 L205.51,313.87 L205.35,314.32 L205.18,314.77 L205.00,315.21 L205.17,315.66 L205.43,316.11 L205.67,316.55 L205.88,317.00 L206.08,317.44 L206.25,317.89 L206.40,318.34 L206.54,318.78 L206.66,319.23 L206.78,319.68 L206.88,320.12 L206.97,320.57 L207.05,321.02 L207.12,321.46 L207.18,321.91 L207.24,322.36Z" fill="#c8336a" stroke="#1a1a1a" stroke-width="0.3"/>
<text x="218.10" y="337.00" font-size="5.9" text-anchor="end" transform="rotate(-45 218.10 337.00)" stroke="#231f20" stroke-width="0.24">CD4 Treg</text>
<line x1="216.30" y1="283.80" x2="216.30" y2="328.66" stroke="#3a3a3a" stroke-width="0.85"/>
<path d="M216.86,323.43 L216.93,322.98 L217.00,322.53 L217.08,322.08 L217.17,321.63 L217.27,321.19 L217.38,320.74 L217.51,320.29 L217.65,319.84 L217.80,319.39 L217.97,318.94 L218.17,318.49 L218.38,318.05 L218.62,317.60 L218.89,317.15 L219.18,316.70 L219.17,316.25 L218.98,315.80 L218.80,315.35 L218.64,314.90 L218.48,314.46 L218.34,314.01 L218.20,313.56 L218.08,313.11 L217.96,312.66 L217.85,312.21 L217.75,311.76 L217.65,311.32 L217.56,310.87 L217.48,310.42 L217.40,309.97 L217.33,309.52 L217.26,309.07 L217.20,308.62 L217.14,308.18 L217.08,307.73 L217.03,307.28 L216.98,306.83 L216.94,306.38 L216.89,305.93 L216.85,305.48 L215.75,305.48 L215.71,305.93 L215.66,306.38 L215.62,306.83 L215.57,307.28 L215.52,307.73 L215.46,308.18 L215.40,308.62 L215.34,309.07 L215.27,309.52 L215.20,309.97 L215.12,310.42 L215.04,310.87 L214.95,311.32 L214.85,311.76 L214.75,312.21 L214.64,312.66 L214.52,313.11 L214.40,313.56 L214.26,314.01 L214.12,314.46 L213.96,314.90 L213.80,315.35 L213.62,315.80 L213.43,316.25 L213.42,316.70 L213.71,317.15 L213.98,317.60 L214.22,318.05 L214.43,318.49 L214.63,318.94 L214.80,319.39 L214.95,319.84 L215.09,320.29 L215.22,320.74 L215.33,321.19 L215.43,321.63 L215.52,322.08 L215.60,322.53 L215.67,322.98 L215.74,323.43Z" fill="#5a1428" stroke="#1a1a1a" stroke-width="0.3"/>
<text x="226.65" y="337.00" font-size="5.9" text-anchor="end" transform="rotate(-45 226.65 337.00)" stroke="#231f20" stroke-width="0.24">CD8 T cell</text>
<line x1="224.85" y1="291.07" x2="224.85" y2="329.88" stroke="#3a3a3a" stroke-width="0.85"/>
<path d="M225.36,325.35 L225.45,324.67 L225.55,323.99 L225.68,323.31 L225.83,322.63 L226.00,321.95 L226.21,321.27 L226.45,320.60 L226.74,319.92 L227.08,319.24 L227.48,318.56 L227.95,317.88 L227.79,317.20 L227.50,316.52 L227.24,315.84 L227.01,315.16 L226.79,314.48 L226.60,313.81 L226.43,313.13 L226.27,312.45 L226.33,311.77 L226.60,311.09 L226.91,310.41 L227.28,309.73 L227.48,309.05 L227.22,308.37 L226.99,307.69 L226.78,307.02 L226.59,306.34 L226.42,305.66 L226.26,304.98 L226.12,304.30 L226.00,303.62 L225.89,302.94 L225.78,302.26 L225.69,301.58 L225.61,300.90 L225.53,300.23 L225.47,299.55 L225.41,298.87 L225.35,298.19 L224.35,298.19 L224.29,298.87 L224.23,299.55 L224.17,300.23 L224.09,300.90 L224.01,301.58 L223.92,302.26 L223.81,302.94 L223.70,303.62 L223.58,304.30 L223.44,304.98 L223.28,305.66 L223.11,306.34 L222.92,307.02 L222.71,307.69 L222.48,308.37 L222.22,309.05 L222.42,309.73 L222.79,310.41 L223.10,311.09 L223.37,311.77 L223.43,312.45 L223.27,313.13 L223.10,313.81 L222.91,314.48 L222.69,315.16 L222.46,315.84 L222.20,316.52 L221.91,317.20 L221.75,317.88 L222.22,318.56 L222.62,319.24 L222.96,319.92 L223.25,320.60 L223.49,321.27 L223.70,321.95 L223.87,322.63 L224.02,323.31 L224.15,323.99 L224.25,324.67 L224.34,325.35Z" fill="#d8343e" stroke="#1a1a1a" stroke-width="0.3"/>
<text x="235.20" y="337.00" font-size="5.9" text-anchor="end" transform="rotate(-45 235.20 337.00)" stroke="#231f20" stroke-width="0.24">Classical monocyte</text>
<text x="243.75" y="337.00" font-size="5.9" text-anchor="end" transform="rotate(-45 243.75 337.00)" stroke="#231f20" stroke-width="0.24">Dendritic cell</text>
<line x1="241.95" y1="283.80" x2="241.95" y2="329.88" stroke="#3a3a3a" stroke-width="0.85"/>
<path d="M242.55,328.34 L242.61,328.03 L242.68,327.72 L242.76,327.42 L242.84,327.11 L242.94,326.80 L243.04,326.50 L243.16,326.19 L243.28,325.88 L243.42,325.57 L243.57,325.27 L243.74,324.96 L243.93,324.65 L244.14,324.35 L244.37,324.04 L244.51,323.73 L244.35,323.42 L244.21,323.12 L244.07,322.81 L243.94,322.50 L243.82,322.20 L243.71,321.89 L243.60,321.58 L243.50,321.27 L243.41,320.97 L243.32,320.66 L243.24,320.35 L243.16,320.05 L243.08,319.74 L243.02,319.43 L242.95,319.12 L242.89,318.82 L242.83,318.51 L242.78,318.20 L242.73,317.90 L242.68,317.59 L242.64,317.28 L242.60,316.97 L242.56,316.67 L242.52,316.36 L242.49,316.05 L241.41,316.05 L241.38,316.36 L241.34,316.67 L241.30,316.97 L241.26,317.28 L241.22,317.59 L241.17,317.90 L241.12,318.20 L241.07,318.51 L241.01,318.82 L240.95,319.12 L240.88,319.43 L240.82,319.74 L240.74,320.05 L240.66,320.35 L240.58,320.66 L240.49,320.97 L240.40,321.27 L240.30,321.58 L240.19,321.89 L240.08,322.20 L239.96,322.50 L239.83,322.81 L239.69,323.12 L239.55,323.42 L239.39,323.73 L239.53,324.04 L239.76,324.35 L239.97,324.65 L240.16,324.96 L240.33,325.27 L240.48,325.57 L240.62,325.88 L240.74,326.19 L240.86,326.50 L240.96,326.80 L241.06,327.11 L241.14,327.42 L241.22,327.72 L241.29,328.03 L241.35,328.34Z" fill="#1a1a1a" stroke="#1a1a1a" stroke-width="0.3"/>
<text x="252.30" y="337.00" font-size="5.9" text-anchor="end" transform="rotate(-45 252.30 337.00)" stroke="#231f20" stroke-width="0.24">ILC</text>
<text x="260.85" y="337.00" font-size="5.9" text-anchor="end" transform="rotate(-45 260.85 337.00)" stroke="#231f20" stroke-width="0.24">NK cell</text>
<line x1="259.05" y1="301.99" x2="259.05" y2="326.24" stroke="#3a3a3a" stroke-width="0.85"/>
<path d="M259.58,322.20 L259.64,321.69 L259.70,321.19 L259.78,320.68 L259.86,320.18 L259.96,319.67 L260.06,319.16 L260.18,318.66 L260.31,318.15 L260.45,317.65 L260.61,317.14 L260.79,316.64 L260.99,316.13 L261.21,315.63 L261.46,315.12 L261.74,314.62 L262.05,314.11 L261.85,313.61 L261.67,313.10 L261.49,312.60 L261.33,312.09 L261.18,311.59 L261.04,311.08 L260.91,310.58 L260.78,310.07 L260.67,309.57 L260.56,309.06 L260.46,308.56 L260.37,308.05 L260.28,307.54 L260.20,307.04 L260.12,306.53 L260.05,306.03 L259.98,305.52 L259.92,305.02 L259.87,304.51 L259.81,304.01 L259.76,303.50 L259.71,303.00 L259.67,302.49 L259.63,301.99 L258.47,301.99 L258.43,302.49 L258.39,303.00 L258.34,303.50 L258.29,304.01 L258.23,304.51 L258.18,305.02 L258.12,305.52 L258.05,306.03 L257.98,306.53 L257.90,307.04 L257.82,307.54 L257.73,308.05 L257.64,308.56 L257.54,309.06 L257.43,309.57 L257.32,310.07 L257.19,310.58 L257.06,311.08 L256.92,311.59 L256.77,312.09 L256.61,312.60 L256.43,313.10 L256.25,313.61 L256.05,314.11 L256.36,314.62 L256.64,315.12 L256.89,315.63 L257.11,316.13 L257.31,316.64 L257.49,317.14 L257.65,317.65 L257.79,318.15 L257.92,318.66 L258.04,319.16 L258.14,319.67 L258.24,320.18 L258.32,320.68 L258.40,321.19 L258.46,321.69 L258.52,322.20Z" fill="#8a3aaa" stroke="#1a1a1a" stroke-width="0.3"/>
<text x="269.40" y="337.00" font-size="5.9" text-anchor="end" transform="rotate(-45 269.40 337.00)" stroke="#231f20" stroke-width="0.24">Macrophage</text>
<line x1="267.60" y1="288.65" x2="267.60" y2="331.09" stroke="#3a3a3a" stroke-width="0.85"/>
<path d="M268.14,329.67 L268.20,329.21 L268.27,328.75 L268.35,328.29 L268.44,327.83 L268.54,327.37 L268.65,326.91 L268.78,326.45 L268.92,326.00 L269.07,325.54 L269.25,325.08 L269.44,324.62 L269.66,324.16 L269.90,323.70 L270.17,323.24 L270.47,322.78 L270.47,322.32 L270.28,321.86 L270.10,321.40 L269.93,320.94 L269.77,320.48 L269.62,320.02 L269.49,319.56 L269.36,319.10 L269.24,318.64 L269.13,318.18 L269.02,317.72 L268.93,317.26 L268.84,316.80 L268.75,316.34 L268.68,315.88 L268.60,315.42 L268.53,314.96 L268.47,314.50 L268.41,314.04 L268.36,313.58 L268.31,313.12 L268.26,312.66 L268.21,312.20 L268.17,311.74 L268.13,311.28 L267.07,311.28 L267.03,311.74 L266.99,312.20 L266.94,312.66 L266.89,313.12 L266.84,313.58 L266.79,314.04 L266.73,314.50 L266.67,314.96 L266.60,315.42 L266.52,315.88 L266.45,316.34 L266.36,316.80 L266.27,317.26 L266.18,317.72 L266.07,318.18 L265.96,318.64 L265.84,319.10 L265.71,319.56 L265.58,320.02 L265.43,320.48 L265.27,320.94 L265.10,321.40 L264.92,321.86 L264.73,322.32 L264.73,322.78 L265.03,323.24 L265.30,323.70 L265.54,324.16 L265.76,324.62 L265.95,325.08 L266.13,325.54 L266.28,326.00 L266.42,326.45 L266.55,326.91 L266.66,327.37 L266.76,327.83 L266.85,328.29 L266.93,328.75 L267.00,329.21 L267.06,329.67Z" fill="#1a1a1a" stroke="#1a1a1a" stroke-width="0.3"/>
<text x="277.95" y="337.00" font-size="5.9" text-anchor="end" transform="rotate(-45 277.95 337.00)" stroke="#231f20" stroke-width="0.24">Mast cell</text>
<line x1="276.15" y1="294.71" x2="276.15" y2="326.24" stroke="#3a3a3a" stroke-width="0.85"/>
<path d="M276.66,320.98 L276.72,320.33 L276.78,319.67 L276.85,319.01 L276.93,318.36 L277.02,317.70 L277.12,317.04 L277.22,316.39 L277.34,315.73 L277.48,315.07 L277.63,314.42 L277.79,313.76 L277.98,313.10 L278.18,312.45 L278.41,311.79 L278.66,311.13 L278.94,310.48 L279.26,309.82 L279.52,309.16 L279.30,308.50 L279.09,307.85 L278.90,307.19 L278.73,306.53 L278.56,305.88 L278.40,305.22 L278.26,304.56 L278.12,303.91 L277.99,303.25 L277.87,302.59 L277.76,301.94 L277.66,301.28 L277.56,300.62 L277.47,299.97 L277.38,299.31 L277.30,298.65 L277.23,298.00 L277.16,297.34 L277.09,296.68 L277.03,296.03 L276.98,295.37 L276.92,294.71 L275.38,294.71 L275.32,295.37 L275.27,296.03 L275.21,296.68 L275.14,297.34 L275.07,298.00 L275.00,298.65 L274.92,299.31 L274.83,299.97 L274.74,300.62 L274.64,301.28 L274.54,301.94 L274.43,302.59 L274.31,303.25 L274.18,303.91 L274.04,304.56 L273.90,305.22 L273.74,305.88 L273.57,306.53 L273.40,307.19 L273.21,307.85 L273.00,308.50 L272.78,309.16 L273.04,309.82 L273.36,310.48 L273.64,311.13 L273.89,311.79 L274.12,312.45 L274.32,313.10 L274.51,313.76 L274.67,314.42 L274.82,315.07 L274.96,315.73 L275.08,316.39 L275.18,317.04 L275.28,317.70 L275.37,318.36 L275.45,319.01 L275.52,319.67 L275.58,320.33 L275.64,320.98Z" fill="#4c3ca8" stroke="#1a1a1a" stroke-width="0.3"/>
<text x="286.50" y="337.00" font-size="5.9" text-anchor="end" transform="rotate(-45 286.50 337.00)" stroke="#231f20" stroke-width="0.24">Nonclassical monocyte</text>
<line x1="284.70" y1="295.93" x2="284.70" y2="327.45" stroke="#3a3a3a" stroke-width="0.85"/>
<path d="M285.21,324.82 L285.27,324.44 L285.33,324.06 L285.40,323.68 L285.48,323.30 L285.57,322.92 L285.67,322.54 L285.77,322.16 L285.89,321.78 L286.02,321.39 L286.17,321.01 L286.34,320.63 L286.52,320.25 L286.72,319.87 L286.95,319.49 L287.20,319.11 L287.20,318.73 L287.04,318.35 L286.88,317.97 L286.74,317.59 L286.61,317.20 L286.49,316.82 L286.37,316.44 L286.27,316.06 L286.17,315.68 L286.07,315.30 L285.98,314.92 L285.90,314.54 L285.82,314.16 L285.75,313.78 L285.68,313.40 L285.62,313.01 L285.56,312.63 L285.51,312.25 L285.45,311.87 L285.41,311.49 L285.36,311.11 L285.32,310.73 L285.28,310.35 L285.24,309.97 L285.21,309.59 L284.19,309.59 L284.16,309.97 L284.12,310.35 L284.08,310.73 L284.04,311.11 L283.99,311.49 L283.95,311.87 L283.89,312.25 L283.84,312.63 L283.78,313.01 L283.72,313.40 L283.65,313.78 L283.58,314.16 L283.50,314.54 L283.42,314.92 L283.33,315.30 L283.23,315.68 L283.13,316.06 L283.03,316.44 L282.91,316.82 L282.79,317.20 L282.66,317.59 L282.52,317.97 L282.36,318.35 L282.20,318.73 L282.20,319.11 L282.45,319.49 L282.68,319.87 L282.88,320.25 L283.06,320.63 L283.23,321.01 L283.38,321.39 L283.51,321.78 L283.63,322.16 L283.73,322.54 L283.83,322.92 L283.92,323.30 L284.00,323.68 L284.07,324.06 L284.13,324.44 L284.19,324.82Z" fill="#8aa040" stroke="#1a1a1a" stroke-width="0.3"/>
<text x="295.05" y="337.00" font-size="5.9" text-anchor="end" transform="rotate(-45 295.05 337.00)" stroke="#231f20" stroke-width="0.24">Plasma cell</text>
<line x1="293.25" y1="317.75" x2="293.25" y2="331.09" stroke="#3a3a3a" stroke-width="0.85"/>
<path d="M293.77,330.42 L293.82,330.23 L293.88,330.03 L293.94,329.84 L294.01,329.64 L294.08,329.45 L294.17,329.25 L294.26,329.06 L294.36,328.86 L294.47,328.67 L294.59,328.48 L294.72,328.28 L294.87,328.09 L295.03,327.89 L295.20,327.70 L295.39,327.50 L295.36,327.31 L295.24,327.11 L295.12,326.92 L295.01,326.73 L294.91,326.53 L294.82,326.34 L294.73,326.14 L294.64,325.95 L294.56,325.75 L294.48,325.56 L294.41,325.36 L294.35,325.17 L294.28,324.97 L294.22,324.78 L294.17,324.59 L294.11,324.39 L294.06,324.20 L294.02,324.00 L293.97,323.81 L293.93,323.61 L293.89,323.42 L293.86,323.22 L293.82,323.03 L293.79,322.83 L293.76,322.64 L292.74,322.64 L292.71,322.83 L292.68,323.03 L292.64,323.22 L292.61,323.42 L292.57,323.61 L292.53,323.81 L292.48,324.00 L292.44,324.20 L292.39,324.39 L292.33,324.59 L292.28,324.78 L292.22,324.97 L292.15,325.17 L292.09,325.36 L292.02,325.56 L291.94,325.75 L291.86,325.95 L291.77,326.14 L291.68,326.34 L291.59,326.53 L291.49,326.73 L291.38,326.92 L291.26,327.11 L291.14,327.31 L291.11,327.50 L291.30,327.70 L291.47,327.89 L291.63,328.09 L291.78,328.28 L291.91,328.48 L292.03,328.67 L292.14,328.86 L292.24,329.06 L292.33,329.25 L292.42,329.45 L292.49,329.64 L292.56,329.84 L292.62,330.03 L292.68,330.23 L292.73,330.42Z" fill="#d05a28" stroke="#1a1a1a" stroke-width="0.3"/>
<text x="303.60" y="337.00" font-size="5.9" text-anchor="end" transform="rotate(-45 303.60 337.00)" stroke="#231f20" stroke-width="0.24">T cell</text>
<line x1="301.80" y1="301.99" x2="301.80" y2="331.09" stroke="#3a3a3a" stroke-width="0.85"/>
<path d="M302.33,329.15 L302.39,328.72 L302.45,328.30 L302.52,327.87 L302.60,327.45 L302.69,327.03 L302.79,326.60 L302.89,326.18 L303.01,325.75 L303.14,325.33 L303.29,324.90 L303.45,324.48 L303.63,324.06 L303.82,323.63 L304.04,323.21 L304.29,322.78 L304.31,322.36 L304.15,321.93 L304.00,321.51 L303.86,321.08 L303.73,320.66 L303.61,320.24 L303.50,319.81 L303.39,319.39 L303.29,318.96 L303.20,318.54 L303.11,318.11 L303.03,317.69 L302.95,317.26 L302.88,316.84 L302.81,316.42 L302.75,315.99 L302.69,315.57 L302.63,315.14 L302.58,314.72 L302.53,314.29 L302.49,313.87 L302.44,313.45 L302.40,313.02 L302.36,312.60 L302.33,312.17 L301.27,312.17 L301.24,312.60 L301.20,313.02 L301.16,313.45 L301.11,313.87 L301.07,314.29 L301.02,314.72 L300.97,315.14 L300.91,315.57 L300.85,315.99 L300.79,316.42 L300.72,316.84 L300.65,317.26 L300.57,317.69 L300.49,318.11 L300.40,318.54 L300.31,318.96 L300.21,319.39 L300.10,319.81 L299.99,320.24 L299.87,320.66 L299.74,321.08 L299.60,321.51 L299.45,321.93 L299.29,322.36 L299.31,322.78 L299.56,323.21 L299.78,323.63 L299.97,324.06 L300.15,324.48 L300.31,324.90 L300.46,325.33 L300.59,325.75 L300.71,326.18 L300.81,326.60 L300.91,327.03 L301.00,327.45 L301.08,327.87 L301.15,328.30 L301.21,328.72 L301.27,329.15Z" fill="#e8902a" stroke="#1a1a1a" stroke-width="0.3"/>
<line x1="349.50" y1="283.80" x2="349.50" y2="332.30" stroke="#111" stroke-width="0.9"/>
<line x1="348.00" y1="332.30" x2="349.50" y2="332.30" stroke="#111" stroke-width="0.9"/>
<text x="347.50" y="334.74" font-size="5.8" text-anchor="end" stroke="#231f20" stroke-width="0.24">0</text>
<line x1="348.00" y1="320.18" x2="349.50" y2="320.18" stroke="#111" stroke-width="0.9"/>
<text x="347.50" y="322.61" font-size="5.8" text-anchor="end" stroke="#231f20" stroke-width="0.24">1</text>
<line x1="348.00" y1="308.05" x2="349.50" y2="308.05" stroke="#111" stroke-width="0.9"/>
<text x="347.50" y="310.49" font-size="5.8" text-anchor="end" stroke="#231f20" stroke-width="0.24">2</text>
<line x1="348.00" y1="295.93" x2="349.50" y2="295.93" stroke="#111" stroke-width="0.9"/>
<text x="347.50" y="298.36" font-size="5.8" text-anchor="end" stroke="#231f20" stroke-width="0.24">3</text>
<line x1="348.00" y1="283.80" x2="349.50" y2="283.80" stroke="#111" stroke-width="0.9"/>
<text x="347.50" y="286.24" font-size="5.8" text-anchor="end" stroke="#231f20" stroke-width="0.24">4</text>
<line x1="349.80" y1="332.30" x2="467.00" y2="332.30" stroke="#231f20" stroke-width="0.75"/>
<text x="407.40" y="275.90" font-size="7.0" text-anchor="middle" font-style="italic" stroke="#231f20" stroke-width="0.24">IL27P28</text>
<text x="336.60" y="308.30" font-size="6.1" text-anchor="middle" transform="rotate(-90 336.60 308.30)" stroke="#231f20" stroke-width="0.24">Relative expression</text>
<text x="357.80" y="337.00" font-size="5.9" text-anchor="end" transform="rotate(-45 357.80 337.00)" stroke="#231f20" stroke-width="0.24">B cell</text>
<line x1="356.00" y1="303.20" x2="356.00" y2="331.09" stroke="#3a3a3a" stroke-width="0.85"/>
<path d="M356.50,328.76 L356.56,328.29 L356.63,327.81 L356.71,327.33 L356.80,326.86 L356.89,326.38 L357.00,325.91 L357.13,325.43 L357.26,324.95 L357.42,324.48 L357.59,324.00 L357.79,323.52 L358.01,323.05 L358.25,322.57 L358.53,322.09 L358.84,321.62 L358.89,321.14 L358.69,320.66 L358.50,320.19 L358.32,319.71 L358.16,319.24 L358.01,318.76 L357.87,318.28 L357.74,317.81 L357.61,317.33 L357.50,316.85 L357.40,316.38 L357.30,315.90 L357.21,315.42 L357.12,314.95 L357.04,314.47 L356.97,313.99 L356.90,313.52 L356.84,313.04 L356.78,312.57 L356.73,312.09 L356.67,311.61 L356.63,311.14 L356.58,310.66 L356.54,310.18 L356.50,309.71 L355.50,309.71 L355.46,310.18 L355.42,310.66 L355.37,311.14 L355.33,311.61 L355.27,312.09 L355.22,312.57 L355.16,313.04 L355.10,313.52 L355.03,313.99 L354.96,314.47 L354.88,314.95 L354.79,315.42 L354.70,315.90 L354.60,316.38 L354.50,316.85 L354.39,317.33 L354.26,317.81 L354.13,318.28 L353.99,318.76 L353.84,319.24 L353.68,319.71 L353.50,320.19 L353.31,320.66 L353.11,321.14 L353.16,321.62 L353.47,322.09 L353.75,322.57 L353.99,323.05 L354.21,323.52 L354.41,324.00 L354.58,324.48 L354.74,324.95 L354.87,325.43 L355.00,325.91 L355.11,326.38 L355.20,326.86 L355.29,327.33 L355.37,327.81 L355.44,328.29 L355.50,328.76Z" fill="#1f78b4" stroke="#1a1a1a" stroke-width="0.3"/>
<text x="366.35" y="337.00" font-size="5.9" text-anchor="end" transform="rotate(-45 366.35 337.00)" stroke="#231f20" stroke-width="0.24">CD4 T cell</text>
<text x="374.90" y="337.00" font-size="5.9" text-anchor="end" transform="rotate(-45 374.90 337.00)" stroke="#231f20" stroke-width="0.24">CD4 Treg</text>
<text x="383.45" y="337.00" font-size="5.9" text-anchor="end" transform="rotate(-45 383.45 337.00)" stroke="#231f20" stroke-width="0.24">CD8 T cell</text>
<text x="392.00" y="337.00" font-size="5.9" text-anchor="end" transform="rotate(-45 392.00 337.00)" stroke="#231f20" stroke-width="0.24">Classical monocyte</text>
<text x="400.55" y="337.00" font-size="5.9" text-anchor="end" transform="rotate(-45 400.55 337.00)" stroke="#231f20" stroke-width="0.24">Dendritic cell</text>
<line x1="398.75" y1="312.90" x2="398.75" y2="328.66" stroke="#3a3a3a" stroke-width="0.85"/>
<path d="M399.27,323.93 L399.32,323.77 L399.36,323.61 L399.41,323.44 L399.47,323.28 L399.53,323.11 L399.59,322.95 L399.66,322.78 L399.74,322.62 L399.82,322.46 L399.91,322.29 L400.01,322.13 L400.11,321.96 L400.22,321.80 L400.35,321.64 L400.48,321.47 L400.51,321.31 L400.42,321.14 L400.34,320.98 L400.26,320.81 L400.19,320.65 L400.12,320.49 L400.05,320.32 L399.99,320.16 L399.93,319.99 L399.87,319.83 L399.81,319.66 L399.76,319.50 L399.71,319.34 L399.66,319.17 L399.62,319.01 L399.58,318.84 L399.54,318.68 L399.50,318.52 L399.46,318.35 L399.43,318.19 L399.39,318.02 L399.36,317.86 L399.33,317.69 L399.30,317.53 L399.28,317.37 L398.22,317.37 L398.20,317.53 L398.17,317.69 L398.14,317.86 L398.11,318.02 L398.07,318.19 L398.04,318.35 L398.00,318.52 L397.96,318.68 L397.92,318.84 L397.88,319.01 L397.84,319.17 L397.79,319.34 L397.74,319.50 L397.69,319.66 L397.63,319.83 L397.57,319.99 L397.51,320.16 L397.45,320.32 L397.38,320.49 L397.31,320.65 L397.24,320.81 L397.16,320.98 L397.08,321.14 L396.99,321.31 L397.02,321.47 L397.15,321.64 L397.28,321.80 L397.39,321.96 L397.49,322.13 L397.59,322.29 L397.68,322.46 L397.76,322.62 L397.84,322.78 L397.91,322.95 L397.97,323.11 L398.03,323.28 L398.09,323.44 L398.14,323.61 L398.18,323.77 L398.23,323.93Z" fill="#2a6a4a" stroke="#1a1a1a" stroke-width="0.3"/>
<text x="409.10" y="337.00" font-size="5.9" text-anchor="end" transform="rotate(-45 409.10 337.00)" stroke="#231f20" stroke-width="0.24">ILC</text>
<text x="417.65" y="337.00" font-size="5.9" text-anchor="end" transform="rotate(-45 417.65 337.00)" stroke="#231f20" stroke-width="0.24">NK cell</text>
<text x="426.20" y="337.00" font-size="5.9" text-anchor="end" transform="rotate(-45 426.20 337.00)" stroke="#231f20" stroke-width="0.24">Macrophage</text>
<line x1="424.40" y1="303.20" x2="424.40" y2="331.09" stroke="#3a3a3a" stroke-width="0.85"/>
<path d="M424.93,330.62 L425.00,330.10 L425.07,329.58 L425.15,329.05 L425.24,328.53 L425.33,328.01 L425.45,327.49 L425.57,326.96 L425.71,326.44 L425.87,325.92 L426.04,325.39 L426.24,324.87 L426.46,324.35 L426.70,323.83 L426.98,323.30 L427.29,322.78 L427.26,322.26 L427.07,321.73 L426.88,321.21 L426.71,320.69 L426.56,320.16 L426.41,319.64 L426.27,319.12 L426.14,318.60 L426.02,318.07 L425.91,317.55 L425.81,317.03 L425.71,316.50 L425.62,315.98 L425.54,315.46 L425.46,314.94 L425.39,314.41 L425.32,313.89 L425.26,313.37 L425.20,312.84 L425.14,312.32 L425.09,311.80 L425.04,311.28 L425.00,310.75 L424.96,310.23 L424.92,309.71 L423.88,309.71 L423.84,310.23 L423.80,310.75 L423.76,311.28 L423.71,311.80 L423.66,312.32 L423.60,312.84 L423.54,313.37 L423.48,313.89 L423.41,314.41 L423.34,314.94 L423.26,315.46 L423.18,315.98 L423.09,316.50 L422.99,317.03 L422.89,317.55 L422.78,318.07 L422.66,318.60 L422.53,319.12 L422.39,319.64 L422.24,320.16 L422.09,320.69 L421.92,321.21 L421.73,321.73 L421.54,322.26 L421.51,322.78 L421.82,323.30 L422.10,323.83 L422.34,324.35 L422.56,324.87 L422.76,325.39 L422.93,325.92 L423.09,326.44 L423.23,326.96 L423.35,327.49 L423.47,328.01 L423.56,328.53 L423.65,329.05 L423.73,329.58 L423.80,330.10 L423.87,330.62Z" fill="#2a3a8a" stroke="#1a1a1a" stroke-width="0.3"/>
<text x="434.75" y="337.00" font-size="5.9" text-anchor="end" transform="rotate(-45 434.75 337.00)" stroke="#231f20" stroke-width="0.24">Mast cell</text>
<text x="443.30" y="337.00" font-size="5.9" text-anchor="end" transform="rotate(-45 443.30 337.00)" stroke="#231f20" stroke-width="0.24">Nonclassical monocyte</text>
<line x1="441.50" y1="312.90" x2="441.50" y2="327.45" stroke="#3a3a3a" stroke-width="0.85"/>
<path d="M442.03,326.48 L442.09,326.23 L442.15,325.97 L442.22,325.72 L442.29,325.46 L442.37,325.21 L442.46,324.95 L442.56,324.70 L442.67,324.44 L442.80,324.19 L442.93,323.93 L443.08,323.68 L443.24,323.42 L443.42,323.17 L443.62,322.92 L443.84,322.66 L443.79,322.41 L443.65,322.15 L443.52,321.90 L443.40,321.64 L443.28,321.39 L443.18,321.13 L443.08,320.88 L442.98,320.62 L442.89,320.37 L442.81,320.11 L442.73,319.86 L442.65,319.61 L442.58,319.35 L442.52,319.10 L442.46,318.84 L442.40,318.59 L442.35,318.33 L442.29,318.08 L442.25,317.82 L442.20,317.57 L442.16,317.31 L442.12,317.06 L442.08,316.80 L442.05,316.55 L442.01,316.30 L440.99,316.30 L440.95,316.55 L440.92,316.80 L440.88,317.06 L440.84,317.31 L440.80,317.57 L440.75,317.82 L440.71,318.08 L440.65,318.33 L440.60,318.59 L440.54,318.84 L440.48,319.10 L440.42,319.35 L440.35,319.61 L440.27,319.86 L440.19,320.11 L440.11,320.37 L440.02,320.62 L439.92,320.88 L439.82,321.13 L439.72,321.39 L439.60,321.64 L439.48,321.90 L439.35,322.15 L439.21,322.41 L439.16,322.66 L439.38,322.92 L439.58,323.17 L439.76,323.42 L439.92,323.68 L440.07,323.93 L440.20,324.19 L440.33,324.44 L440.44,324.70 L440.54,324.95 L440.63,325.21 L440.71,325.46 L440.78,325.72 L440.85,325.97 L440.91,326.23 L440.97,326.48Z" fill="#a0a040" stroke="#1a1a1a" stroke-width="0.3"/>
<text x="451.85" y="337.00" font-size="5.9" text-anchor="end" transform="rotate(-45 451.85 337.00)" stroke="#231f20" stroke-width="0.24">Plasma cell</text>
<text x="460.40" y="337.00" font-size="5.9" text-anchor="end" transform="rotate(-45 460.40 337.00)" stroke="#231f20" stroke-width="0.24">T cell</text>
<circle cx="390.20" cy="320.20" r="0.50" fill="#888888"/>
<defs>
<filter id="nz1" x="0" y="0" width="1" height="1"><feTurbulence type="fractalNoise" baseFrequency="0.9" numOctaves="2" seed="3"/><feColorMatrix type="matrix" values="0 0 0 0 1  0 0 0 0 1  0 0 0 0 1  0 0 0 3.2 -1.55"/><feGaussianBlur stdDeviation="0.3"/><feComposite in2="SourceGraphic" operator="in"/></filter>
<filter id="nzd" x="0" y="0" width="1" height="1"><feTurbulence type="fractalNoise" baseFrequency="0.6" numOctaves="3" seed="7"/><feColorMatrix type="matrix" values="0 0 0 0 0.38  0 0 0 0 0.04  0 0 0 0 0.18  0 0 0 3 -1.4"/><feGaussianBlur stdDeviation="0.3"/><feComposite in2="SourceGraphic" operator="in"/></filter>
<filter id="nzg" x="0" y="0" width="1" height="1"><feTurbulence type="fractalNoise" baseFrequency="0.93" numOctaves="2" seed="11"/><feColorMatrix type="matrix" values="0 0 0 0 0.3  0 0 0 0 0.32  0 0 0 0 0.36  0 0 0 4 -2.2"/><feComposite in2="SourceGraphic" operator="in"/></filter>
<filter id="nzp" x="0" y="0" width="1" height="1"><feTurbulence type="fractalNoise" baseFrequency="0.85" numOctaves="2" seed="13"/><feColorMatrix type="matrix" values="0 0 0 0 0.97  0 0 0 0 0.8  0 0 0 0 0.88  0 0 0 4 -2.1"/><feComposite in2="SourceGraphic" operator="in"/></filter>
<filter id="nzl" x="0" y="0" width="1" height="1"><feTurbulence type="fractalNoise" baseFrequency="0.45" numOctaves="2" seed="5"/><feColorMatrix type="matrix" values="0 0 0 0 1  0 0 0 0 0.85  0 0 0 0 0.7  0 0 0 3 -1.75"/><feComposite in2="SourceGraphic" operator="in"/></filter>
<filter id="bl3"><feGaussianBlur stdDeviation="0.35"/></filter>
<filter id="bl1"><feGaussianBlur stdDeviation="1.2"/></filter>
<radialGradient id="plate1" cx="0.5" cy="0.62" r="0.72"><stop offset="0" stop-color="#cfe3e6"/><stop offset="0.75" stop-color="#d4e6e8"/><stop offset="0.92" stop-color="#e6f0f0"/><stop offset="1" stop-color="#f6f9f9"/></radialGradient>
<radialGradient id="plate2" cx="0.5" cy="0.65" r="0.72"><stop offset="0" stop-color="#d2e4e6"/><stop offset="0.75" stop-color="#d8e9ea"/><stop offset="0.92" stop-color="#e8f2f2"/><stop offset="1" stop-color="#f8fafa"/></radialGradient>
<radialGradient id="lob" cx="0.45" cy="0.42" r="0.62"><stop offset="0" stop-color="#f27e4a"/><stop offset="0.55" stop-color="#e4522c"/><stop offset="1" stop-color="#aa2a1c"/></radialGradient>
<radialGradient id="lob2" cx="0.42" cy="0.38" r="0.65"><stop offset="0" stop-color="#f4844c"/><stop offset="0.6" stop-color="#ea602e"/><stop offset="1" stop-color="#d04424"/></radialGradient>
<radialGradient id="lobd" cx="0.5" cy="0.5" r="0.6"><stop offset="0" stop-color="#8c1c1c"/><stop offset="1" stop-color="#c03024"/></radialGradient>
<radialGradient id="purp" cx="0.4" cy="0.4" r="0.6"><stop offset="0" stop-color="#9a62b0" stop-opacity="0.75"/><stop offset="0.6" stop-color="#9458a8" stop-opacity="0.45"/><stop offset="1" stop-color="#9458a8" stop-opacity="0"/></radialGradient>
<radialGradient id="purp2" cx="0.5" cy="0.5" r="0.5"><stop offset="0" stop-color="#6a4a9a" stop-opacity="0.6"/><stop offset="1" stop-color="#6a4a9a" stop-opacity="0"/></radialGradient>
<clipPath id="ck1"><rect x="24.2" y="421" width="70.8" height="65.5"/></clipPath>
<clipPath id="ck2"><rect x="100.4" y="422.7" width="70.8" height="63.8"/></clipPath>
</defs>
<text x="0.60" y="406.30" font-size="10" font-weight="bold">K</text>
<text x="46.30" y="411.60" font-size="7.0" stroke="#231f20" stroke-width="0.24"><tspan font-style="italic">Il27ra</tspan><tspan font-style="italic" font-size="5.25" dy="-2.66">+/+</tspan><tspan dy="2.66"></tspan></text>
<text x="122.50" y="411.60" font-size="7.0" stroke="#231f20" stroke-width="0.24"><tspan font-style="italic">Il27ra</tspan><tspan font-style="italic" font-size="5.25" dy="-2.66">-/-</tspan><tspan dy="2.66"></tspan></text>
<g clip-path="url(#ck1)">
<rect x="24.20" y="421.00" width="70.80" height="65.50" fill="#f4f7f7"/>
<ellipse cx="59" cy="470" rx="52" ry="46" fill="url(#plate1)"/>
<g filter="url(#bl3)">
<path d="M81.94,451.89Q83.20,455.00 82.61,458.32Q82.03,461.63 78.60,464.26Q75.17,466.89 70.25,468.24Q65.33,469.59 60.07,469.40Q54.81,469.21 49.70,468.14Q44.60,467.07 41.15,464.39Q37.71,461.71 36.84,458.35Q35.97,455.00 37.17,451.74Q38.37,448.49 41.90,446.04Q45.43,443.58 50.18,442.34Q54.92,441.10 60.10,440.83Q65.27,440.56 70.18,441.87Q75.09,443.17 77.89,445.97Q80.69,448.77 81.94,451.89Z" fill="#b82a20"/>
<path d="M76.47,452.61Q76.99,455.00 75.70,456.98Q74.41,458.96 73.19,460.44Q71.97,461.92 70.61,463.92Q69.24,465.92 67.20,464.96Q65.15,464.01 63.52,463.06Q61.90,462.11 60.25,460.80Q58.60,459.50 58.47,457.25Q58.33,455.00 58.23,452.63Q58.13,450.26 59.94,448.97Q61.75,447.69 63.26,445.93Q64.78,444.18 66.85,444.92Q68.92,445.67 70.83,446.33Q72.75,446.99 74.35,448.60Q75.95,450.21 76.47,452.61Z" fill="url(#lobd)"/>
<path d="M56.81,442.61Q57.51,444.00 57.09,445.50Q56.66,447.00 55.17,447.88Q53.68,448.77 52.18,449.37Q50.68,449.97 48.91,450.30Q47.14,450.63 45.49,449.94Q43.85,449.25 42.73,448.07Q41.62,446.89 41.42,445.44Q41.21,444.00 41.45,442.57Q41.69,441.14 42.81,439.99Q43.94,438.84 45.57,438.22Q47.20,437.59 48.95,437.78Q50.70,437.97 52.32,438.47Q53.94,438.97 55.02,440.09Q56.10,441.22 56.81,442.61Z" fill="url(#lob)"/>
<path d="M74.38,442.20Q74.67,443.50 74.41,444.81Q74.16,446.12 72.83,447.11Q71.51,448.11 69.77,448.77Q68.03,449.43 66.00,449.44Q63.96,449.45 62.35,448.68Q60.73,447.91 59.59,446.92Q58.44,445.93 57.51,444.71Q56.57,443.50 57.37,442.24Q58.16,440.98 59.38,439.98Q60.60,438.98 62.23,438.11Q63.86,437.24 65.93,437.46Q67.99,437.67 69.94,438.13Q71.88,438.59 72.98,439.75Q74.08,440.91 74.38,442.20Z" fill="url(#lob)"/>
<path d="M42.31,448.28Q42.67,450.00 42.65,451.93Q42.64,453.87 41.67,455.38Q40.70,456.89 39.30,457.45Q37.90,458.00 36.48,458.14Q35.05,458.28 33.77,457.44Q32.48,456.60 31.50,455.18Q30.52,453.77 30.13,451.88Q29.74,450.00 30.36,448.26Q30.98,446.52 31.85,445.16Q32.71,443.79 33.85,442.56Q34.99,441.32 36.46,441.56Q37.93,441.79 39.32,442.45Q40.70,443.11 41.32,444.84Q41.95,446.57 42.31,448.28Z" fill="url(#lob)"/>
<path d="M90.62,452.86Q91.45,455.00 90.90,457.27Q90.36,459.53 88.60,461.17Q86.84,462.80 84.61,463.61Q82.37,464.42 80.04,464.25Q77.72,464.07 75.35,463.53Q72.99,463.00 71.56,461.16Q70.13,459.32 69.37,457.16Q68.60,455.00 69.43,452.87Q70.27,450.74 71.57,448.81Q72.88,446.89 75.26,446.22Q77.63,445.56 80.09,445.20Q82.55,444.84 84.82,445.88Q87.08,446.93 88.44,448.82Q89.79,450.71 90.62,452.86Z" fill="url(#lob)"/>
<path d="M63.71,452.46Q64.19,454.00 63.71,455.54Q63.23,457.07 62.23,458.43Q61.22,459.78 59.51,460.37Q57.80,460.96 56.01,460.91Q54.22,460.87 52.50,460.33Q50.77,459.78 49.33,458.61Q47.89,457.44 47.52,455.72Q47.14,454.00 47.60,452.31Q48.06,450.63 49.48,449.49Q50.91,448.36 52.50,447.51Q54.10,446.65 55.97,446.78Q57.83,446.92 59.44,447.66Q61.06,448.40 62.15,449.67Q63.24,450.93 63.71,452.46Z" fill="url(#lob)"/>
<path d="M53.37,462.12Q54.19,464.00 53.72,466.02Q53.25,468.04 51.69,469.68Q50.14,471.33 47.87,472.32Q45.60,473.32 43.03,473.19Q40.47,473.07 38.10,472.26Q35.74,471.45 34.74,469.55Q33.74,467.65 32.90,465.82Q32.05,464.00 32.26,461.93Q32.47,459.85 34.24,458.33Q36.00,456.82 38.21,455.77Q40.41,454.73 42.87,455.22Q45.32,455.70 47.57,456.35Q49.83,456.99 51.19,458.61Q52.56,460.23 53.37,462.12Z" fill="url(#lob)"/>
<path d="M68.19,461.30Q68.32,463.00 67.87,464.55Q67.43,466.10 66.60,467.54Q65.77,468.99 64.17,469.43Q62.57,469.87 60.95,470.11Q59.32,470.35 57.87,469.55Q56.41,468.75 55.54,467.40Q54.66,466.05 54.08,464.53Q53.49,463.00 54.09,461.48Q54.68,459.96 55.52,458.57Q56.37,457.19 57.90,456.66Q59.43,456.13 61.00,456.12Q62.57,456.11 64.10,456.65Q65.63,457.20 66.85,458.40Q68.07,459.60 68.19,461.30Z" fill="url(#lob)"/>
<path d="M64,448 Q68,455 66,466" fill="none" stroke="#7a1414" stroke-width="1.4" opacity="0.7"/>
</g>
<circle cx="54.34" cy="454.88" r="0.62" fill="#f6a070"/>
<circle cx="66.48" cy="440.35" r="0.80" fill="#f6a070"/>
<circle cx="50.30" cy="443.40" r="0.89" fill="#f6a070"/>
<circle cx="79.94" cy="458.76" r="0.59" fill="#f6a070"/>
<circle cx="59.37" cy="459.27" r="0.48" fill="#f6a070"/>
<circle cx="60.79" cy="455.74" r="0.93" fill="#f6a070"/>
<circle cx="68.66" cy="441.89" r="0.88" fill="#f6a070"/>
<circle cx="44.11" cy="467.53" r="0.93" fill="#f6a070"/>
<circle cx="46.07" cy="465.16" r="0.70" fill="#f6a070"/>
<circle cx="55.47" cy="463.91" r="0.48" fill="#f6a070"/>
<circle cx="58.61" cy="464.55" r="0.60" fill="#f6a070"/>
<circle cx="79.70" cy="455.28" r="0.85" fill="#f6a070"/>
<circle cx="38.71" cy="450.95" r="0.75" fill="#f6a070"/>
<circle cx="49.97" cy="443.14" r="0.73" fill="#f6a070"/>
<circle cx="63.61" cy="443.23" r="0.56" fill="#f6a070"/>
<circle cx="60.33" cy="467.15" r="0.90" fill="#f6a070"/>
<circle cx="55.22" cy="453.76" r="0.80" fill="#f6a070"/>
<circle cx="35.82" cy="451.92" r="0.95" fill="#f6a070"/>
<circle cx="56.43" cy="452.15" r="0.43" fill="#f6a070"/>
<circle cx="40.10" cy="450.57" r="0.68" fill="#f6a070"/>
<circle cx="48.76" cy="442.50" r="0.45" fill="#f6a070"/>
<circle cx="43.14" cy="463.93" r="0.74" fill="#f6a070"/>
</g>
<g clip-path="url(#ck2)">
<rect x="100.40" y="422.70" width="70.80" height="63.80" fill="#f6f8f8"/>
<ellipse cx="136" cy="472" rx="52" ry="47" fill="url(#plate2)"/>
<g filter="url(#bl3)">
<path d="M148.66,457.09Q150.09,461.00 148.89,465.02Q147.69,469.04 144.93,472.03Q142.18,475.02 138.74,477.44Q135.31,479.87 131.11,479.37Q126.92,478.88 123.21,477.15Q119.50,475.42 116.80,472.28Q114.09,469.14 112.88,465.07Q111.68,461.00 112.28,456.64Q112.88,452.27 116.04,449.24Q119.21,446.21 122.87,443.80Q126.52,441.38 131.00,441.38Q135.48,441.38 138.98,443.99Q142.48,446.60 144.86,449.89Q147.24,453.18 148.66,457.09Z" fill="#dc5a2c"/>
<path d="M155.02,442.51Q155.40,445.00 154.79,447.41Q154.17,449.81 152.38,451.96Q150.58,454.11 147.39,454.89Q144.21,455.67 140.99,455.70Q137.77,455.74 134.81,454.72Q131.85,453.71 130.18,451.63Q128.51,449.56 127.49,447.28Q126.48,445.00 127.09,442.57Q127.70,440.14 129.64,438.09Q131.59,436.05 134.77,435.47Q137.96,434.89 141.05,434.73Q144.14,434.57 146.83,435.73Q149.52,436.89 152.08,438.46Q154.63,440.02 155.02,442.51Z" fill="url(#lob2)"/>
<path d="M130.45,445.89Q130.96,447.50 130.59,449.16Q130.21,450.83 128.79,452.16Q127.38,453.50 125.25,453.97Q123.11,454.45 121.02,454.38Q118.93,454.31 116.90,453.79Q114.87,453.26 113.57,451.96Q112.28,450.65 111.42,449.08Q110.57,447.50 111.16,445.83Q111.75,444.16 113.21,442.86Q114.68,441.55 116.72,440.84Q118.76,440.13 121.02,440.08Q123.28,440.02 125.10,440.98Q126.93,441.93 128.43,443.10Q129.93,444.27 130.45,445.89Z" fill="url(#lob2)"/>
<path d="M142.33,463.78Q142.94,467.00 142.60,470.34Q142.25,473.68 139.90,476.35Q137.55,479.03 134.20,480.68Q130.85,482.34 127.17,481.66Q123.49,480.98 120.30,479.63Q117.10,478.29 114.98,475.74Q112.87,473.19 112.00,470.09Q111.13,467.00 111.39,463.64Q111.65,460.28 114.45,458.08Q117.25,455.88 120.28,454.10Q123.31,452.31 126.92,452.64Q130.52,452.96 133.76,454.29Q136.99,455.61 139.36,458.08Q141.72,460.55 142.33,463.78Z" fill="url(#lob2)"/>
<path d="M151.24,458.71Q151.56,461.00 151.49,463.45Q151.41,465.91 150.25,467.85Q149.09,469.78 147.49,471.08Q145.89,472.39 144.08,471.88Q142.28,471.38 140.73,470.34Q139.18,469.31 137.87,467.62Q136.56,465.93 136.19,463.46Q135.82,461.00 136.41,458.68Q136.99,456.36 137.94,454.27Q138.88,452.18 140.56,451.30Q142.25,450.43 144.05,450.15Q145.85,449.86 147.29,451.36Q148.72,452.86 149.82,454.64Q150.93,456.41 151.24,458.71Z" fill="url(#lob2)"/>
<path d="M128.75,475.84Q129.52,477.00 128.62,478.11Q127.71,479.22 126.93,480.33Q126.15,481.44 124.42,481.77Q122.69,482.11 120.90,482.42Q119.10,482.73 117.72,481.87Q116.35,481.01 114.88,480.26Q113.41,479.51 113.10,478.26Q112.80,477.00 113.11,475.75Q113.43,474.49 114.55,473.45Q115.66,472.40 117.47,472.12Q119.28,471.83 121.01,471.80Q122.74,471.76 124.44,472.17Q126.13,472.57 127.06,473.63Q127.99,474.69 128.75,475.84Z" fill="url(#lob2)"/>
<path d="M140.36,450.31Q140.83,452.00 140.46,453.73Q140.09,455.46 138.82,456.82Q137.55,458.18 135.77,458.96Q133.99,459.74 132.01,459.72Q130.02,459.70 128.14,459.05Q126.26,458.39 125.21,456.87Q124.17,455.35 123.50,453.68Q122.83,452.00 123.64,450.38Q124.45,448.77 125.50,447.34Q126.54,445.92 128.29,445.15Q130.04,444.38 131.97,444.49Q133.90,444.59 135.85,445.06Q137.80,445.53 138.85,447.08Q139.89,448.62 140.36,450.31Z" fill="url(#lob2)"/>
<path d="M129,446 Q131,452 128,458 M140,455 Q138,462 141,470" fill="none" stroke="#b0301e" stroke-width="0.9" opacity="0.7"/>
</g>
<circle cx="131.91" cy="454.29" r="1.05" fill="#f6b283"/>
<circle cx="135.30" cy="452.54" r="1.25" fill="#f6b283"/>
<circle cx="142.07" cy="444.42" r="0.88" fill="#f6b283"/>
<circle cx="120.40" cy="447.92" r="0.70" fill="#f6b283"/>
<circle cx="119.78" cy="448.10" r="1.19" fill="#f6b283"/>
<circle cx="146.74" cy="466.91" r="0.61" fill="#f6b283"/>
<circle cx="131.10" cy="452.29" r="1.28" fill="#f6b283"/>
<circle cx="141.63" cy="446.84" r="1.29" fill="#f6b283"/>
<circle cx="119.12" cy="453.09" r="0.93" fill="#f6b283"/>
<circle cx="124.23" cy="452.78" r="0.66" fill="#f6b283"/>
<circle cx="143.30" cy="464.03" r="0.63" fill="#f6b283"/>
<circle cx="120.77" cy="449.48" r="1.15" fill="#f6b283"/>
<circle cx="136.88" cy="452.09" r="0.77" fill="#f6b283"/>
<circle cx="124.52" cy="469.90" r="1.06" fill="#f6b283"/>
<circle cx="115.40" cy="448.00" r="0.55" fill="#f6b283"/>
<circle cx="144.94" cy="444.01" r="0.82" fill="#f6b283"/>
<circle cx="132.62" cy="449.72" r="0.96" fill="#f6b283"/>
<circle cx="133.15" cy="446.82" r="1.00" fill="#f6b283"/>
<circle cx="122.44" cy="448.50" r="1.16" fill="#f6b283"/>
<circle cx="142.73" cy="463.59" r="0.92" fill="#f6b283"/>
<circle cx="147.73" cy="465.14" r="1.14" fill="#f6b283"/>
<circle cx="139.16" cy="469.59" r="0.57" fill="#f6b283"/>
<circle cx="122.23" cy="466.65" r="0.62" fill="#f6b283"/>
<circle cx="133.39" cy="464.00" r="0.75" fill="#f6b283"/>
<circle cx="123.36" cy="475.99" r="1.00" fill="#f6b283"/>
<circle cx="129.13" cy="466.96" r="0.54" fill="#f6b283"/>
</g>
<rect x="22.80" y="505.10" width="72.60" height="63.10" fill="#dc8ec0"/>
<path d="M22.8,505.1 H95.39999999999999 V519.5 C 82,535 68,547 52.6,547.3 C 38,547 28,538 22.8,529.3 Z" fill="#eec4dc"/>
<defs><linearGradient id="heb" x1="0" x2="1"><stop offset="0" stop-color="#d888c0" stop-opacity="0.9"/><stop offset="1" stop-color="#d888c0" stop-opacity="0"/></linearGradient></defs>
<rect x="22.80" y="505.10" width="7.00" height="26.00" fill="url(#heb)"/>
<rect x="22.80" y="505.10" width="72.60" height="63.10" fill="#fff" filter="url(#nz1)" opacity="0.3"/>
<rect x="22.80" y="505.10" width="72.60" height="63.10" fill="#fff" filter="url(#nzd)" opacity="0.25"/>
<path d="M22.8,529.3 C 28,538 38,547 52.6,547.3 C 68,547 82,535 95.39999999999999,519.5" fill="none" stroke="#2a1426" stroke-width="1.25" stroke-dasharray="3,1.8"/>
<text x="28.80" y="515.00" font-size="5.8" fill="#4a2a44" stroke="#4a2a44" stroke-width="0.24">T</text>
<text x="28.80" y="562.50" font-size="5.8" fill="#4a2a44" stroke="#4a2a44" stroke-width="0.24">NT</text>
<rect x="98.50" y="505.10" width="72.80" height="62.60" fill="#e49ec9"/>
<path d="M103.4,567.7 C 104,548 112,538 124.7,537.8 C 133,538 139,541 139.4,548 C 139.8,556 138,562 137,567.7 Z" fill="#e6a6cc"/>
<rect x="98.50" y="505.10" width="72.80" height="62.60" fill="#fff" filter="url(#nz1)" opacity="0.3"/>
<rect x="98.50" y="505.10" width="72.80" height="62.60" fill="#fff" filter="url(#nzd)" opacity="0.22"/>
<path d="M103.4,567.5 C 104,548 112,538 124.7,537.8 C 133,538 139,541 139.4,548 C 139.8,556 138,562 137,567.5" fill="none" stroke="#2a1426" stroke-width="1.25" stroke-dasharray="3,1.8"/>
<text x="104.00" y="516.00" font-size="5.8" fill="#4a2a44" stroke="#4a2a44" stroke-width="0.24">NT</text>
<text x="119.00" y="563.00" font-size="5.8" fill="#4a2a44" stroke="#4a2a44" stroke-width="0.24">T</text>
<ellipse cx="104.5" cy="520.5" rx="1.2" ry="1.6" fill="#fff"/>
<ellipse cx="162" cy="524.5" rx="1.5" ry="2.0" fill="#fff"/>
<path d="M152,541 L158,537" fill="none" stroke="#fff" stroke-width="0.7"/>
<path d="M83.0,564 H89.0 M83.0,563 V565 M89.0,563 V565" fill="none" stroke="#111" stroke-width="0.6"/>
<text x="86.00" y="567.50" font-size="3.2" text-anchor="middle" stroke="#231f20" stroke-width="0.24">100 μm</text>
<path d="M160.3,564 H166.3 M160.3,563 V565 M166.3,563 V565" fill="none" stroke="#111" stroke-width="0.6"/>
<text x="163.30" y="567.50" font-size="3.2" text-anchor="middle" stroke="#231f20" stroke-width="0.24">100 μm</text>
<text x="19.80" y="536.50" font-size="6.0" text-anchor="middle" transform="rotate(-90 19.80 536.50)" stroke="#231f20" stroke-width="0.24">H&amp;E</text>
<path d="M28.9,589.0 H87.7 L86,599.7 L88.5,611 L90.3,618.3 L98.0,619.2 V654.4 H26.1 V592 Z" fill="#a43a6c"/>
<clipPath id="cq1"><path d="M28.9,589.0 H87.7 L86,599.7 L88.5,611 L90.3,618.3 L98.0,619.2 V654.4 H26.1 V592 Z"/></clipPath>
<ellipse cx="45" cy="610" rx="30" ry="28" fill="url(#purp)" clip-path="url(#cq1)"/>
<path d="M28.9,589.0 H87.7 L86,599.7 L88.5,611 L90.3,618.3 L98.0,619.2 V654.4 H26.1 V592 Z" fill="#fff" filter="url(#nzp)" opacity="0.6"/>
<path d="M28.9,589.0 H87.7 L86,599.7 L88.5,611 L90.3,618.3 L98.0,619.2 V654.4 H26.1 V592 Z" fill="#fff" filter="url(#nzd)" opacity="0.45"/>
<ellipse cx="56.7" cy="634.8" rx="2.2" ry="2.6" fill="#fff"/>
<path d="M77.3,591.5 L83.4,601.4" fill="none" stroke="#fff" stroke-width="1.1"/>
<path d="M89,591 L91,596" fill="none" stroke="#7060a0" stroke-width="0.8"/>
<path d="M100.6,589.3 H173.39999999999998 V638.5 L170,640.5 L173.39999999999998,642.5 V654.4 H100.6 Z" fill="#a63a6a"/>
<ellipse cx="126" cy="646" rx="14" ry="10" fill="url(#purp2)"/>
<path d="M100.6,589.3 H173.39999999999998 V638.5 L170,640.5 L173.39999999999998,642.5 V654.4 H100.6 Z" fill="#fff" filter="url(#nzp)" opacity="0.6"/>
<path d="M100.6,589.3 H173.39999999999998 V638.5 L170,640.5 L173.39999999999998,642.5 V654.4 H100.6 Z" fill="#fff" filter="url(#nzd)" opacity="0.45"/>
<circle cx="134.02" cy="614.40" r="0.57" fill="#f4e4ee"/>
<circle cx="161.06" cy="592.39" r="0.75" fill="#f4e4ee"/>
<circle cx="163.19" cy="596.85" r="0.78" fill="#f4e4ee"/>
<circle cx="144.32" cy="594.45" r="0.69" fill="#f4e4ee"/>
<circle cx="150.13" cy="619.12" r="0.86" fill="#f4e4ee"/>
<circle cx="113.53" cy="606.28" r="0.56" fill="#f4e4ee"/>
<circle cx="136.92" cy="647.43" r="0.80" fill="#f4e4ee"/>
<circle cx="154.87" cy="615.02" r="0.87" fill="#f4e4ee"/>
<circle cx="109.81" cy="609.47" r="0.84" fill="#f4e4ee"/>
<circle cx="151.62" cy="617.31" r="0.54" fill="#f4e4ee"/>
<circle cx="120.87" cy="604.59" r="0.64" fill="#f4e4ee"/>
<circle cx="157.24" cy="603.97" r="0.94" fill="#f4e4ee"/>
<path d="M75.6,647.8 H96.6 M75.6,646.6 V649 M96.6,646.6 V649" fill="none" stroke="#fff" stroke-width="0.7"/>
<text x="86.10" y="645.50" font-size="3.4" text-anchor="middle" fill="#fff" stroke="#fff" stroke-width="0.24">500 μm</text>
<path d="M152.0,647.8 H173.0 M152.0,646.6 V649 M173.0,646.6 V649" fill="none" stroke="#fff" stroke-width="0.7"/>
<text x="162.50" y="645.50" font-size="3.4" text-anchor="middle" fill="#fff" stroke="#fff" stroke-width="0.24">500 μm</text>
<text x="21.80" y="622.00" font-size="6.0" text-anchor="middle" transform="rotate(-90 21.80 622.00)" stroke="#231f20" stroke-width="0.24">Trichrome</text>
<text x="0.60" y="591.60" font-size="10" font-weight="bold">Q</text>
<text x="178.20" y="501.60" font-size="10" font-weight="bold">O</text>
<text x="213.60" y="500.90" font-size="7.0" stroke="#231f20" stroke-width="0.24"><tspan font-style="italic">Il27ra</tspan><tspan font-style="italic" font-size="5.25" dy="-2.66">+/+</tspan><tspan dy="2.66"></tspan></text>
<text x="290.90" y="500.90" font-size="7.0" stroke="#231f20" stroke-width="0.24"><tspan font-style="italic">Il27ra</tspan><tspan font-style="italic" font-size="5.25" dy="-2.66">-/-</tspan><tspan dy="2.66"></tspan></text>
<rect x="190.90" y="505.80" width="72.80" height="64.00" fill="#d9dcdd"/>
<rect x="190.90" y="505.80" width="72.80" height="64.00" fill="#fff" filter="url(#nzg)" opacity="0.3"/>
<path d="M213.9,505.8 L263.7,505.8 V569.8 H244 Z" fill="#fff" filter="url(#nzg)" opacity="0.6"/>
<path d="M213.9,506.5 C 220,525 230,545 244.2,569.5" fill="none" stroke="#151515" stroke-width="1.2" stroke-dasharray="2.8,1.7"/>
<text x="254.50" y="515.50" font-size="5.8" stroke="#231f20" stroke-width="0.24">T</text>
<text x="195.50" y="565.00" font-size="5.8" stroke="#231f20" stroke-width="0.24">NT</text>
<rect x="267.50" y="506.10" width="73.20" height="63.70" fill="#d8dbdc"/>
<rect x="267.50" y="506.10" width="73.20" height="63.70" fill="#fff" filter="url(#nzg)" opacity="0.55"/>
<ellipse cx="293" cy="518.7" rx="4.2" ry="3.6" fill="#e6eae2" filter="url(#bl3)"/>
<path d="M267.3,546.4 C 275,538 285,533 295.7,531.7 C 301,532 305,537 310,543 C 315,548 318,552 318,558 L317.3,568" fill="none" stroke="#151515" stroke-width="1.2" stroke-dasharray="2.8,1.7"/>
<text x="327.50" y="515.50" font-size="5.8" stroke="#231f20" stroke-width="0.24">NT</text>
<text x="273.50" y="565.00" font-size="5.8" stroke="#231f20" stroke-width="0.24">T</text>
<path d="M253.0,565.5 H258.0 M253.0,564.5 V566.5 M258.0,564.5 V566.5" fill="none" stroke="#111" stroke-width="0.6"/>
<text x="255.50" y="568.60" font-size="2.8" text-anchor="middle" stroke="#231f20" stroke-width="0.24">100 μm</text>
<path d="M330.0,565.5 H335.0 M330.0,564.5 V566.5 M335.0,564.5 V566.5" fill="none" stroke="#111" stroke-width="0.6"/>
<text x="332.50" y="568.60" font-size="2.8" text-anchor="middle" stroke="#231f20" stroke-width="0.24">100 μm</text>
<text x="186.80" y="538.60" font-size="6.0" text-anchor="middle" transform="rotate(-90 186.80 538.60)" stroke="#231f20" stroke-width="0.24">Ki-67</text>
<text x="180.60" y="406.00" font-size="10" font-weight="bold">L</text>
<text x="220.00" y="411.60" font-size="6.9" text-anchor="middle" stroke="#231f20" stroke-width="0.24">Tumor load</text>
<text x="283.00" y="411.60" font-size="6.9" text-anchor="middle" stroke="#231f20" stroke-width="0.24">Tumor number</text>
<line x1="204.60" y1="419.90" x2="204.60" y2="458.80" stroke="#231f20" stroke-width="0.75"/>
<line x1="204.60" y1="462.70" x2="204.60" y2="477.30" stroke="#231f20" stroke-width="0.75"/>
<line x1="203.10" y1="454.20" x2="204.60" y2="454.20" stroke="#231f20" stroke-width="0.75"/>
<text x="202.40" y="456.30" font-size="5.8" text-anchor="end" stroke="#231f20" stroke-width="0.24">50</text>
<line x1="203.10" y1="445.62" x2="204.60" y2="445.62" stroke="#231f20" stroke-width="0.75"/>
<text x="202.40" y="447.73" font-size="5.8" text-anchor="end" stroke="#231f20" stroke-width="0.24">100</text>
<line x1="203.10" y1="437.05" x2="204.60" y2="437.05" stroke="#231f20" stroke-width="0.75"/>
<text x="202.40" y="439.15" font-size="5.8" text-anchor="end" stroke="#231f20" stroke-width="0.24">150</text>
<line x1="203.10" y1="428.47" x2="204.60" y2="428.47" stroke="#231f20" stroke-width="0.75"/>
<text x="202.40" y="430.57" font-size="5.8" text-anchor="end" stroke="#231f20" stroke-width="0.24">200</text>
<line x1="203.10" y1="419.90" x2="204.60" y2="419.90" stroke="#231f20" stroke-width="0.75"/>
<text x="202.40" y="422.00" font-size="5.8" text-anchor="end" stroke="#231f20" stroke-width="0.24">250</text>
<line x1="203.10" y1="476.50" x2="204.60" y2="476.50" stroke="#231f20" stroke-width="0.75"/>
<text x="202.40" y="478.60" font-size="5.8" text-anchor="end" stroke="#231f20" stroke-width="0.24">0</text>
<line x1="203.10" y1="462.70" x2="204.60" y2="462.70" stroke="#231f20" stroke-width="0.75"/>
<text x="202.40" y="464.80" font-size="5.8" text-anchor="end" stroke="#231f20" stroke-width="0.24">20</text>
<line x1="204.60" y1="477.30" x2="236.00" y2="477.30" stroke="#231f20" stroke-width="0.75"/>
<rect x="208.50" y="452.00" width="9.70" height="6.80" fill="#3b77c4" stroke="#1d1d1d" stroke-width="0.6"/>
<rect x="208.50" y="462.70" width="9.70" height="14.60" fill="#3b77c4" stroke="#1d1d1d" stroke-width="0.6"/>
<rect x="223.40" y="468.80" width="9.70" height="8.50" fill="#ef5f5f" stroke="#1d1d1d" stroke-width="0.6"/>
<path d="M213.35,452 V449.6 M211.54999999999998,449.6 H215.15" fill="none" stroke="#1d1d1d" stroke-width="0.6"/>
<path d="M228.25,468.8 V466 M226.45,466 H230.05" fill="none" stroke="#1d1d1d" stroke-width="0.6"/>
<circle cx="213.00" cy="425.00" r="0.85" fill="#111"/>
<circle cx="213.30" cy="432.40" r="0.85" fill="#111"/>
<circle cx="215.20" cy="432.40" r="0.85" fill="#111"/>
<circle cx="211.00" cy="449.50" r="0.85" fill="#111"/>
<circle cx="215.50" cy="449.50" r="0.85" fill="#111"/>
<circle cx="212.50" cy="451.00" r="0.85" fill="#111"/>
<circle cx="211.50" cy="453.50" r="0.85" fill="#111"/>
<circle cx="215.00" cy="455.00" r="0.85" fill="#111"/>
<circle cx="214.00" cy="470.00" r="0.85" fill="#111"/>
<circle cx="212.00" cy="474.00" r="0.85" fill="#111"/>
<circle cx="227.00" cy="455.00" r="0.85" fill="#111"/>
<circle cx="229.50" cy="457.30" r="0.85" fill="#111"/>
<circle cx="228.20" cy="464.20" r="0.85" fill="#111"/>
<circle cx="226.50" cy="470.50" r="0.85" fill="#111"/>
<circle cx="229.50" cy="470.50" r="0.85" fill="#111"/>
<circle cx="228.00" cy="473.50" r="0.85" fill="#111"/>
<path d="M213.5,421.0 V417.8 H230 V421.0" fill="none" stroke="#1d1d1d" stroke-width="0.6"/>
<text x="221.75" y="417.40" font-size="6.0" text-anchor="middle" stroke="#231f20" stroke-width="0.24">*</text>
<text x="187.60" y="449.00" font-size="6.3" text-anchor="middle" transform="rotate(-90 187.60 449.00)" stroke="#231f20" stroke-width="0.24">mm</text>
<line x1="269.20" y1="419.90" x2="269.20" y2="458.80" stroke="#231f20" stroke-width="0.75"/>
<line x1="269.20" y1="462.70" x2="269.20" y2="477.80" stroke="#231f20" stroke-width="0.75"/>
<line x1="267.70" y1="451.30" x2="269.20" y2="451.30" stroke="#231f20" stroke-width="0.75"/>
<text x="267.00" y="453.40" font-size="5.8" text-anchor="end" stroke="#231f20" stroke-width="0.24">20</text>
<line x1="267.70" y1="440.83" x2="269.20" y2="440.83" stroke="#231f20" stroke-width="0.75"/>
<text x="267.00" y="442.93" font-size="5.8" text-anchor="end" stroke="#231f20" stroke-width="0.24">40</text>
<line x1="267.70" y1="430.37" x2="269.20" y2="430.37" stroke="#231f20" stroke-width="0.75"/>
<text x="267.00" y="432.47" font-size="5.8" text-anchor="end" stroke="#231f20" stroke-width="0.24">60</text>
<line x1="267.70" y1="419.90" x2="269.20" y2="419.90" stroke="#231f20" stroke-width="0.75"/>
<text x="267.00" y="422.00" font-size="5.8" text-anchor="end" stroke="#231f20" stroke-width="0.24">80</text>
<line x1="267.70" y1="477.30" x2="269.20" y2="477.30" stroke="#231f20" stroke-width="0.75"/>
<text x="267.00" y="479.40" font-size="5.8" text-anchor="end" stroke="#231f20" stroke-width="0.24">0</text>
<line x1="267.70" y1="464.20" x2="269.20" y2="464.20" stroke="#231f20" stroke-width="0.75"/>
<text x="267.00" y="466.30" font-size="5.8" text-anchor="end" stroke="#231f20" stroke-width="0.24">5</text>
<line x1="269.20" y1="477.80" x2="298.80" y2="477.80" stroke="#231f20" stroke-width="0.75"/>
<rect x="271.90" y="453.20" width="10.00" height="5.60" fill="#3b77c4" stroke="#1d1d1d" stroke-width="0.6"/>
<rect x="271.90" y="462.70" width="10.00" height="15.10" fill="#3b77c4" stroke="#1d1d1d" stroke-width="0.6"/>
<rect x="287.30" y="468.10" width="9.70" height="9.70" fill="#ef5f5f" stroke="#1d1d1d" stroke-width="0.6"/>
<path d="M276.9,453.2 V450.5 M275.09999999999997,450.5 H278.7" fill="none" stroke="#1d1d1d" stroke-width="0.6"/>
<path d="M292.15,468.1 V465.5 M290.34999999999997,465.5 H293.95" fill="none" stroke="#1d1d1d" stroke-width="0.6"/>
<circle cx="276.50" cy="423.00" r="0.85" fill="#111"/>
<circle cx="277.50" cy="434.50" r="0.85" fill="#111"/>
<circle cx="276.20" cy="435.20" r="0.85" fill="#111"/>
<circle cx="274.00" cy="453.50" r="0.85" fill="#111"/>
<circle cx="279.00" cy="454.50" r="0.85" fill="#111"/>
<circle cx="276.50" cy="456.50" r="0.85" fill="#111"/>
<circle cx="276.50" cy="464.50" r="0.85" fill="#111"/>
<circle cx="275.00" cy="476.00" r="0.85" fill="#111"/>
<circle cx="278.00" cy="476.00" r="0.85" fill="#111"/>
<circle cx="291.00" cy="457.50" r="0.85" fill="#111"/>
<circle cx="293.00" cy="457.50" r="0.85" fill="#111"/>
<circle cx="292.00" cy="459.50" r="0.85" fill="#111"/>
<circle cx="292.00" cy="464.00" r="0.85" fill="#111"/>
<circle cx="290.00" cy="470.00" r="0.85" fill="#111"/>
<circle cx="294.00" cy="470.00" r="0.85" fill="#111"/>
<circle cx="292.00" cy="474.00" r="0.85" fill="#111"/>
<path d="M276.5,421.0 V417.8 H292.7 V421.0" fill="none" stroke="#1d1d1d" stroke-width="0.6"/>
<text x="284.60" y="417.40" font-size="6.0" text-anchor="middle" stroke="#231f20" stroke-width="0.24">*</text>
<text x="253.00" y="449.20" font-size="6.2" text-anchor="middle" transform="rotate(-90 253.00 449.20)" stroke="#231f20" stroke-width="0.24">Number</text>
<rect x="301.60" y="446.90" width="6.20" height="6.40" fill="#3b77c4" stroke="#1d1d1d" stroke-width="0.9"/>
<rect x="301.60" y="458.00" width="6.20" height="6.40" fill="#ef5f5f" stroke="#1d1d1d" stroke-width="0.9"/>
<text x="310.60" y="452.12" font-size="5.9" stroke="#231f20" stroke-width="0.24"><tspan font-style="italic">Il27ra</tspan><tspan font-style="italic" font-size="4.13" dy="-2.24">+/+</tspan><tspan dy="2.24"></tspan></text>
<text x="310.60" y="463.22" font-size="5.9" stroke="#231f20" stroke-width="0.24"><tspan font-style="italic">Il27ra</tspan><tspan font-style="italic" font-size="4.13" dy="-2.24">-/-</tspan><tspan dy="2.24"></tspan></text>
<text x="334.60" y="406.10" font-size="10" font-weight="bold">M</text>
<text x="377.20" y="411.40" font-size="6.9" text-anchor="middle" stroke="#231f20" stroke-width="0.24">Serum ALT</text>
<line x1="362.50" y1="419.70" x2="362.50" y2="477.20" stroke="#111" stroke-width="0.9"/>
<line x1="361.00" y1="477.20" x2="362.50" y2="477.20" stroke="#111" stroke-width="0.9"/>
<text x="359.70" y="479.64" font-size="5.8" text-anchor="end" stroke="#231f20" stroke-width="0.24">0</text>
<line x1="361.00" y1="465.70" x2="362.50" y2="465.70" stroke="#111" stroke-width="0.9"/>
<text x="359.70" y="468.14" font-size="5.8" text-anchor="end" stroke="#231f20" stroke-width="0.24">100</text>
<line x1="361.00" y1="454.20" x2="362.50" y2="454.20" stroke="#111" stroke-width="0.9"/>
<text x="359.70" y="456.64" font-size="5.8" text-anchor="end" stroke="#231f20" stroke-width="0.24">200</text>
<line x1="361.00" y1="442.70" x2="362.50" y2="442.70" stroke="#111" stroke-width="0.9"/>
<text x="359.70" y="445.14" font-size="5.8" text-anchor="end" stroke="#231f20" stroke-width="0.24">300</text>
<line x1="361.00" y1="431.20" x2="362.50" y2="431.20" stroke="#111" stroke-width="0.9"/>
<text x="359.70" y="433.64" font-size="5.8" text-anchor="end" stroke="#231f20" stroke-width="0.24">400</text>
<line x1="361.00" y1="419.70" x2="362.50" y2="419.70" stroke="#111" stroke-width="0.9"/>
<text x="359.70" y="422.14" font-size="5.8" text-anchor="end" stroke="#231f20" stroke-width="0.24">500</text>
<line x1="362.00" y1="477.20" x2="392.30" y2="477.20" stroke="#231f20" stroke-width="0.75"/>
<rect x="366.30" y="446.72" width="9.60" height="30.48" fill="#3b77c4" stroke="#1d1d1d" stroke-width="0.6"/>
<rect x="381.00" y="460.75" width="9.60" height="16.44" fill="#ef5f5f" stroke="#1d1d1d" stroke-width="0.6"/>
<path d="M371.1,446.72499999999997 V443.84999999999997 M369.3,443.84999999999997 H372.90000000000003" fill="none" stroke="#1d1d1d" stroke-width="0.6"/>
<path d="M385.8,460.755 V456.5 M384.0,456.5 H387.6" fill="none" stroke="#1d1d1d" stroke-width="0.6"/>
<circle cx="371.00" cy="431.77" r="0.85" fill="#111"/>
<circle cx="369.50" cy="442.70" r="0.85" fill="#111"/>
<circle cx="372.50" cy="443.85" r="0.85" fill="#111"/>
<circle cx="370.00" cy="446.15" r="0.85" fill="#111"/>
<circle cx="373.00" cy="447.30" r="0.85" fill="#111"/>
<circle cx="371.00" cy="451.90" r="0.85" fill="#111"/>
<circle cx="370.50" cy="457.65" r="0.85" fill="#111"/>
<circle cx="386.00" cy="446.72" r="0.85" fill="#111"/>
<circle cx="385.50" cy="452.47" r="0.85" fill="#111"/>
<circle cx="384.50" cy="461.10" r="0.85" fill="#111"/>
<circle cx="387.00" cy="462.25" r="0.85" fill="#111"/>
<circle cx="385.80" cy="466.27" r="0.85" fill="#111"/>
<circle cx="385.80" cy="468.57" r="0.85" fill="#111"/>
<path d="M369.5,420.7 V417.5 H386.8 V420.7" fill="none" stroke="#1d1d1d" stroke-width="0.6"/>
<text x="378.15" y="417.20" font-size="6.0" text-anchor="middle" stroke="#231f20" stroke-width="0.24">**</text>
<text x="347.00" y="449.50" font-size="6.2" text-anchor="middle" transform="rotate(-90 347.00 449.50)" stroke="#231f20" stroke-width="0.24">U/L</text>
<text x="412.10" y="406.30" font-size="10" font-weight="bold">N</text>
<text x="457.60" y="411.60" font-size="6.9" text-anchor="middle" font-style="italic" stroke="#231f20" stroke-width="0.24">Lcn2</text>
<line x1="429.50" y1="419.30" x2="429.50" y2="476.80" stroke="#111" stroke-width="0.9"/>
<line x1="428.00" y1="476.80" x2="429.50" y2="476.80" stroke="#111" stroke-width="0.9"/>
<text x="427.00" y="479.24" font-size="5.8" text-anchor="end" stroke="#231f20" stroke-width="0.24">0</text>
<line x1="428.00" y1="462.43" x2="429.50" y2="462.43" stroke="#111" stroke-width="0.9"/>
<text x="427.00" y="464.86" font-size="5.8" text-anchor="end" stroke="#231f20" stroke-width="0.24">2</text>
<line x1="428.00" y1="448.05" x2="429.50" y2="448.05" stroke="#111" stroke-width="0.9"/>
<text x="427.00" y="450.49" font-size="5.8" text-anchor="end" stroke="#231f20" stroke-width="0.24">4</text>
<line x1="428.00" y1="433.68" x2="429.50" y2="433.68" stroke="#111" stroke-width="0.9"/>
<text x="427.00" y="436.11" font-size="5.8" text-anchor="end" stroke="#231f20" stroke-width="0.24">6</text>
<line x1="428.00" y1="419.30" x2="429.50" y2="419.30" stroke="#111" stroke-width="0.9"/>
<text x="427.00" y="421.74" font-size="5.8" text-anchor="end" stroke="#231f20" stroke-width="0.24">8</text>
<rect x="431.10" y="469.61" width="7.50" height="7.19" fill="#3b77c4" stroke="#1d1d1d" stroke-width="0.6"/>
<rect x="444.80" y="474.64" width="9.30" height="2.16" fill="#ef5f5f" stroke="#1d1d1d" stroke-width="0.6"/>
<rect x="459.80" y="453.08" width="9.80" height="23.72" fill="#3b77c4" stroke="#1d1d1d" stroke-width="0.6"/>
<rect x="474.70" y="468.18" width="9.50" height="8.62" fill="#ef5f5f" stroke="#1d1d1d" stroke-width="0.6"/>
<line x1="429.30" y1="477.30" x2="487.90" y2="477.30" stroke="#555" stroke-width="1.2"/>
<path d="M449.45,474.64375 V473.565625 M447.65,473.565625 H451.25" fill="none" stroke="#1d1d1d" stroke-width="0.6"/>
<path d="M464.7,453.08125 V447.33125 M462.9,447.33125 H466.5" fill="none" stroke="#1d1d1d" stroke-width="0.6"/>
<path d="M479.45,468.175 V466.01875 M477.65,466.01875 H481.25" fill="none" stroke="#1d1d1d" stroke-width="0.6"/>
<circle cx="449.50" cy="469.97" r="0.85" fill="#111"/>
<circle cx="447.50" cy="474.28" r="0.85" fill="#111"/>
<circle cx="451.50" cy="474.64" r="0.85" fill="#111"/>
<circle cx="449.50" cy="475.72" r="0.85" fill="#111"/>
<circle cx="446.50" cy="476.08" r="0.85" fill="#111"/>
<circle cx="464.70" cy="433.32" r="0.85" fill="#111"/>
<circle cx="463.50" cy="450.93" r="0.85" fill="#111"/>
<circle cx="466.00" cy="455.24" r="0.85" fill="#111"/>
<circle cx="464.00" cy="460.27" r="0.85" fill="#111"/>
<circle cx="466.00" cy="465.30" r="0.85" fill="#111"/>
<circle cx="478.00" cy="465.30" r="0.85" fill="#111"/>
<circle cx="481.00" cy="465.30" r="0.85" fill="#111"/>
<circle cx="479.40" cy="467.46" r="0.85" fill="#111"/>
<circle cx="477.50" cy="469.61" r="0.85" fill="#111"/>
<circle cx="481.00" cy="470.33" r="0.85" fill="#111"/>
<circle cx="479.40" cy="473.21" r="0.85" fill="#111"/>
<path d="M432.9,421.0 V417.8 H462.3 V421.0" fill="none" stroke="#1d1d1d" stroke-width="0.6"/>
<text x="447.60" y="417.40" font-size="6.0" text-anchor="middle" stroke="#231f20" stroke-width="0.24">***</text>
<path d="M465.2,421.0 V417.8 H481.3 V421.0" fill="none" stroke="#1d1d1d" stroke-width="0.6"/>
<text x="473.25" y="417.40" font-size="6.0" text-anchor="middle" stroke="#231f20" stroke-width="0.24">**</text>
<text x="442.60" y="486.80" font-size="6.2" text-anchor="middle" stroke="#231f20" stroke-width="0.24">NT</text>
<text x="472.40" y="486.80" font-size="6.2" text-anchor="middle" stroke="#231f20" stroke-width="0.24">T</text>
<text x="416.00" y="449.70" font-size="6.2" text-anchor="middle" transform="rotate(-90 416.00 449.70)" stroke="#231f20" stroke-width="0.24">Fold change</text>
<rect x="487.70" y="447.40" width="7.10" height="6.50" fill="#3b77c4" stroke="#1d1d1d" stroke-width="0.9"/>
<rect x="487.70" y="458.00" width="7.10" height="6.50" fill="#ef5f5f" stroke="#1d1d1d" stroke-width="0.9"/>
<text x="497.40" y="452.69" font-size="5.9" stroke="#231f20" stroke-width="0.24"><tspan font-style="italic">Il27ra</tspan><tspan font-style="italic" font-size="4.13" dy="-2.24">+/+</tspan><tspan dy="2.24"></tspan></text>
<text x="497.40" y="463.29" font-size="5.9" stroke="#231f20" stroke-width="0.24"><tspan font-style="italic">Il27ra</tspan><tspan font-style="italic" font-size="4.13" dy="-2.24">-/-</tspan><tspan dy="2.24"></tspan></text>
<text x="385.90" y="501.20" font-size="6.9" text-anchor="middle" stroke="#231f20" stroke-width="0.24">Ki-67</text>
<line x1="371.50" y1="513.40" x2="371.50" y2="569.30" stroke="#111" stroke-width="0.9"/>
<line x1="370.00" y1="569.30" x2="371.50" y2="569.30" stroke="#111" stroke-width="0.9"/>
<text x="368.90" y="571.74" font-size="5.8" text-anchor="end" stroke="#231f20" stroke-width="0.24">0</text>
<line x1="370.00" y1="555.32" x2="371.50" y2="555.32" stroke="#111" stroke-width="0.9"/>
<text x="368.90" y="557.76" font-size="5.8" text-anchor="end" stroke="#231f20" stroke-width="0.24">100</text>
<line x1="370.00" y1="541.35" x2="371.50" y2="541.35" stroke="#111" stroke-width="0.9"/>
<text x="368.90" y="543.79" font-size="5.8" text-anchor="end" stroke="#231f20" stroke-width="0.24">200</text>
<line x1="370.00" y1="527.38" x2="371.50" y2="527.38" stroke="#111" stroke-width="0.9"/>
<text x="368.90" y="529.81" font-size="5.8" text-anchor="end" stroke="#231f20" stroke-width="0.24">300</text>
<line x1="370.00" y1="513.40" x2="371.50" y2="513.40" stroke="#111" stroke-width="0.9"/>
<text x="368.90" y="515.84" font-size="5.8" text-anchor="end" stroke="#231f20" stroke-width="0.24">400</text>
<line x1="371.20" y1="569.30" x2="399.70" y2="569.30" stroke="#231f20" stroke-width="0.75"/>
<rect x="374.60" y="528.07" width="8.70" height="41.23" fill="#3b77c4" stroke="#1d1d1d" stroke-width="0.6"/>
<rect x="389.00" y="552.53" width="8.60" height="16.77" fill="#ef5f5f" stroke="#1d1d1d" stroke-width="0.6"/>
<path d="M378.95,528.07375 V525.698 M377.15,525.698 H380.75" fill="none" stroke="#1d1d1d" stroke-width="0.6"/>
<path d="M393.3,552.53 V549.4554999999999 M391.5,549.4554999999999 H395.1" fill="none" stroke="#1d1d1d" stroke-width="0.6"/>
<circle cx="379.00" cy="520.39" r="0.85" fill="#111"/>
<circle cx="378.00" cy="528.77" r="0.85" fill="#111"/>
<circle cx="380.00" cy="531.57" r="0.85" fill="#111"/>
<circle cx="393.50" cy="544.14" r="0.85" fill="#111"/>
<circle cx="392.00" cy="553.23" r="0.85" fill="#111"/>
<circle cx="395.00" cy="553.93" r="0.85" fill="#111"/>
<circle cx="393.00" cy="556.02" r="0.85" fill="#111"/>
<path d="M379,518.3000000000001 V515.1 H396.2 V518.3000000000001" fill="none" stroke="#1d1d1d" stroke-width="0.6"/>
<text x="387.60" y="514.80" font-size="6.0" text-anchor="middle" stroke="#231f20" stroke-width="0.24">**</text>
<text x="352.60" y="541.80" font-size="6.0" text-anchor="middle" transform="rotate(-90 352.60 541.80)" stroke="#231f20" stroke-width="0.24"><tspan>Positive area (mm</tspan><tspan font-size="3.60" dy="-2.28">2</tspan><tspan dy="2.28"></tspan><tspan>)</tspan></text>
<rect x="401.00" y="541.40" width="7.00" height="6.00" fill="#3b77c4" stroke="#1d1d1d" stroke-width="0.9"/>
<rect x="401.00" y="551.00" width="7.00" height="6.00" fill="#ef5f5f" stroke="#1d1d1d" stroke-width="0.9"/>
<text x="411.00" y="546.30" font-size="5.9" stroke="#231f20" stroke-width="0.24"><tspan font-style="italic">Il27ra</tspan><tspan font-style="italic" font-size="4.13" dy="-2.24">+/+</tspan><tspan dy="2.24"></tspan></text>
<text x="411.00" y="555.90" font-size="5.9" stroke="#231f20" stroke-width="0.24"><tspan font-style="italic">Il27ra</tspan><tspan font-style="italic" font-size="4.13" dy="-2.24">-/-</tspan><tspan dy="2.24"></tspan></text>
<text x="438.50" y="501.30" font-size="10" font-weight="bold">P</text>
<text x="474.10" y="501.80" font-size="6.9" text-anchor="middle" font-style="italic" stroke="#231f20" stroke-width="0.24">Ccnd1</text>
<line x1="460.50" y1="512.20" x2="460.50" y2="569.10" stroke="#111" stroke-width="0.9"/>
<line x1="459.00" y1="569.10" x2="460.50" y2="569.10" stroke="#111" stroke-width="0.9"/>
<text x="458.00" y="571.54" font-size="5.8" text-anchor="end" stroke="#231f20" stroke-width="0.24">0.0</text>
<line x1="459.00" y1="550.13" x2="460.50" y2="550.13" stroke="#111" stroke-width="0.9"/>
<text x="458.00" y="552.57" font-size="5.8" text-anchor="end" stroke="#231f20" stroke-width="0.24">0.5</text>
<line x1="459.00" y1="531.17" x2="460.50" y2="531.17" stroke="#111" stroke-width="0.9"/>
<text x="458.00" y="533.60" font-size="5.8" text-anchor="end" stroke="#231f20" stroke-width="0.24">1.0</text>
<line x1="459.00" y1="512.20" x2="460.50" y2="512.20" stroke="#111" stroke-width="0.9"/>
<text x="458.00" y="514.64" font-size="5.8" text-anchor="end" stroke="#231f20" stroke-width="0.24">1.5</text>
<line x1="460.30" y1="569.10" x2="488.80" y2="569.10" stroke="#231f20" stroke-width="0.75"/>
<rect x="462.90" y="531.17" width="9.00" height="37.93" fill="#3b77c4" stroke="#1d1d1d" stroke-width="0.6"/>
<rect x="477.60" y="552.41" width="8.60" height="16.69" fill="#ef5f5f" stroke="#1d1d1d" stroke-width="0.6"/>
<line x1="462.90" y1="531.67" x2="471.90" y2="531.67" stroke="#1d1d1d" stroke-width="1.0"/>
<path d="M481.9,552.4093333333334 V548.2366666666667 M480.09999999999997,548.2366666666667 H483.7" fill="none" stroke="#1d1d1d" stroke-width="0.6"/>
<circle cx="482.00" cy="537.62" r="0.85" fill="#111"/>
<circle cx="480.50" cy="544.82" r="0.85" fill="#111"/>
<circle cx="483.00" cy="545.58" r="0.85" fill="#111"/>
<circle cx="482.00" cy="555.82" r="0.85" fill="#111"/>
<circle cx="480.50" cy="562.27" r="0.85" fill="#111"/>
<circle cx="483.50" cy="565.31" r="0.85" fill="#111"/>
<path d="M468.1,518.3000000000001 V515.1 H484.5 V518.3000000000001" fill="none" stroke="#1d1d1d" stroke-width="0.6"/>
<text x="476.30" y="514.80" font-size="6.0" text-anchor="middle" stroke="#231f20" stroke-width="0.24">**</text>
<text x="445.20" y="539.70" font-size="6.2" text-anchor="middle" transform="rotate(-90 445.20 539.70)" stroke="#231f20" stroke-width="0.24">Fold change</text>
<rect x="490.10" y="540.60" width="6.10" height="6.00" fill="#3b77c4" stroke="#1d1d1d" stroke-width="0.9"/>
<rect x="490.10" y="550.60" width="6.10" height="6.00" fill="#ef5f5f" stroke="#1d1d1d" stroke-width="0.9"/>
<text x="498.90" y="545.50" font-size="5.9" stroke="#231f20" stroke-width="0.24"><tspan font-style="italic">Il27ra</tspan><tspan font-style="italic" font-size="4.13" dy="-2.24">+/+</tspan><tspan dy="2.24"></tspan></text>
<text x="498.90" y="555.50" font-size="5.9" stroke="#231f20" stroke-width="0.24"><tspan font-style="italic">Il27ra</tspan><tspan font-style="italic" font-size="4.13" dy="-2.24">-/-</tspan><tspan dy="2.24"></tspan></text>
<text x="220.30" y="594.20" font-size="6.9" text-anchor="middle" stroke="#231f20" stroke-width="0.24">Trichrome</text>
<line x1="204.50" y1="603.00" x2="204.50" y2="655.80" stroke="#111" stroke-width="0.9"/>
<line x1="203.00" y1="655.80" x2="204.50" y2="655.80" stroke="#111" stroke-width="0.9"/>
<text x="202.50" y="658.24" font-size="5.8" text-anchor="end" stroke="#231f20" stroke-width="0.24">0</text>
<line x1="203.00" y1="638.20" x2="204.50" y2="638.20" stroke="#111" stroke-width="0.9"/>
<text x="202.50" y="640.64" font-size="5.8" text-anchor="end" stroke="#231f20" stroke-width="0.24">50</text>
<line x1="203.00" y1="620.60" x2="204.50" y2="620.60" stroke="#111" stroke-width="0.9"/>
<text x="202.50" y="623.04" font-size="5.8" text-anchor="end" stroke="#231f20" stroke-width="0.24">100</text>
<line x1="203.00" y1="603.00" x2="204.50" y2="603.00" stroke="#111" stroke-width="0.9"/>
<text x="202.50" y="605.44" font-size="5.8" text-anchor="end" stroke="#231f20" stroke-width="0.24">150</text>
<line x1="204.80" y1="655.80" x2="234.70" y2="655.80" stroke="#231f20" stroke-width="0.75"/>
<rect x="207.90" y="625.18" width="10.00" height="30.62" fill="#3b77c4" stroke="#1d1d1d" stroke-width="0.6"/>
<rect x="223.80" y="626.94" width="9.70" height="28.86" fill="#ef5f5f" stroke="#1d1d1d" stroke-width="0.6"/>
<path d="M212.9,625.1759999999999 V622.36 M211.1,622.36 H214.70000000000002" fill="none" stroke="#1d1d1d" stroke-width="0.6"/>
<path d="M228.65,626.9359999999999 V622.008 M226.85,622.008 H230.45000000000002" fill="none" stroke="#1d1d1d" stroke-width="0.6"/>
<circle cx="212.00" cy="618.49" r="0.85" fill="#111"/>
<circle cx="211.00" cy="620.60" r="0.85" fill="#111"/>
<circle cx="214.00" cy="621.30" r="0.85" fill="#111"/>
<circle cx="213.00" cy="625.88" r="0.85" fill="#111"/>
<circle cx="213.00" cy="631.16" r="0.85" fill="#111"/>
<circle cx="212.00" cy="638.20" r="0.85" fill="#111"/>
<circle cx="228.50" cy="614.26" r="0.85" fill="#111"/>
<circle cx="227.00" cy="619.54" r="0.85" fill="#111"/>
<circle cx="230.00" cy="621.30" r="0.85" fill="#111"/>
<circle cx="228.50" cy="627.64" r="0.85" fill="#111"/>
<circle cx="228.60" cy="634.68" r="0.85" fill="#111"/>
<circle cx="228.60" cy="645.24" r="0.85" fill="#111"/>
<path d="M211.3,606.7 V603.5 H228.7 V606.7" fill="none" stroke="#1d1d1d" stroke-width="0.6"/>
<text x="220.00" y="601.60" font-size="6.0" text-anchor="middle" stroke="#231f20" stroke-width="0.24"></text>
<text x="224.30" y="601.30" font-size="6.2" text-anchor="middle" stroke="#231f20" stroke-width="0.24">ns</text>
<text x="186.80" y="629.70" font-size="6.0" text-anchor="middle" transform="rotate(-90 186.80 629.70)" stroke="#231f20" stroke-width="0.24"><tspan>Positive area (mm</tspan><tspan font-size="3.60" dy="-2.28">2</tspan><tspan dy="2.28"></tspan><tspan>)</tspan></text>
<rect x="237.70" y="620.60" width="6.10" height="5.80" fill="#3b77c4" stroke="#1d1d1d" stroke-width="0.9"/>
<rect x="237.70" y="631.60" width="6.10" height="5.80" fill="#ef5f5f" stroke="#1d1d1d" stroke-width="0.9"/>
<text x="246.00" y="625.35" font-size="5.9" stroke="#231f20" stroke-width="0.24"><tspan font-style="italic">Il27ra</tspan><tspan font-style="italic" font-size="4.13" dy="-2.24">+/+</tspan><tspan dy="2.24"></tspan></text>
<text x="246.00" y="636.35" font-size="5.9" stroke="#231f20" stroke-width="0.24"><tspan font-style="italic">Il27ra</tspan><tspan font-style="italic" font-size="4.13" dy="-2.24">-/-</tspan><tspan dy="2.24"></tspan></text>
</svg>
</body></html>
